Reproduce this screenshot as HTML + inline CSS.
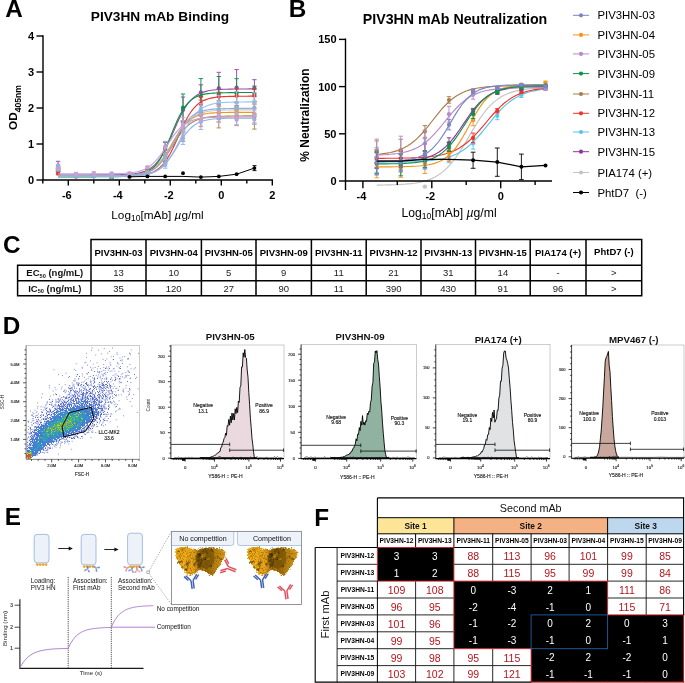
<!DOCTYPE html>
<html lang="en"><head><meta charset="utf-8"><title>PIV3HN mAb figure</title>
<style>html,body{margin:0;padding:0;background:#fff;overflow:hidden}svg{display:block}text{font-family:'Liberation Sans', Arial, Helvetica, sans-serif}</style>
</head><body>
<svg width="685" height="683" viewBox="0 0 685 683">
<defs><filter id="rough" x="-10%" y="-10%" width="120%" height="120%"><feTurbulence type="fractalNoise" baseFrequency=".6" numOctaves="2" seed="4" result="n"/><feDisplacementMap in="SourceGraphic" in2="n" scale="3.6" xChannelSelector="R" yChannelSelector="G" result="d"/><feTurbulence type="fractalNoise" baseFrequency=".8" numOctaves="2" seed="9" result="n2"/><feColorMatrix in="n2" type="matrix" values="0 0 0 0 .22  0 0 0 0 .13  0 0 0 0 0  3 0 0 0 -1.45" result="sp"/><feComposite in="sp" in2="d" operator="in" result="sp2"/><feMerge><feMergeNode in="d"/><feMergeNode in="sp2"/></feMerge></filter><filter id="bl" x="-30%" y="-30%" width="160%" height="160%"><feGaussianBlur stdDeviation="2.6"/></filter><linearGradient id="pg" x1="0" y1="0" x2="1" y2="0"><stop offset="0" stop-color="#f2ad1d"/><stop offset=".36" stop-color="#e8a21b"/><stop offset=".47" stop-color="#b27915"/><stop offset=".62" stop-color="#94640f"/><stop offset=".8" stop-color="#b98117"/><stop offset="1" stop-color="#dd981b"/></linearGradient></defs>
<rect width="685" height="683" fill="#fff"/>
<text x="160" y="20.7" font-size="13.7" font-weight="bold" text-anchor="middle">PIV3HN mAb Binding</text>
<polyline fill="none" stroke="#c9c9c9" stroke-width="1.15" points="58.1,175.3 60.7,175.3 63.2,175.3 65.7,175.3 68.3,175.3 70.8,175.3 73.4,175.3 75.9,175.3 78.5,175.3 81,175.3 83.6,175.3 86.1,175.3 88.7,175.3 91.2,175.3 93.8,175.3 96.3,175.3 98.9,175.3 101.4,175.3 104,175.3 106.5,175.3 109.1,175.2 111.6,175.2 114.2,175.2 116.7,175.1 119.3,175.1 121.8,175 124.4,174.9 126.9,174.8 129.5,174.6 132,174.4 134.6,174.1 137.1,173.7 139.7,173.2 142.2,172.6 144.8,171.9 147.3,170.9 149.9,169.7 152.4,168.1 155,166.2 157.5,164 160.1,161.3 162.6,158.1 165.2,154.6 167.7,150.6 170.3,146.4 172.8,142.1 175.4,137.8 177.9,133.7 180.5,129.8 183,126.3 185.6,123.3 188.1,120.7 190.7,118.5 193.2,116.7 195.8,115.2 198.3,114 200.9,113.1 203.4,112.4 206,111.8 208.5,111.3 211.1,111 213.6,110.7 216.2,110.5 218.7,110.3 221.3,110.2 223.8,110.1 226.4,110 228.9,110 231.5,109.9 234,109.9 236.6,109.9 239.1,109.9 241.7,109.9 244.2,109.8 246.8,109.8 249.3,109.8 251.9,109.8 254.4,109.8"/>
<path d="M58.1 168.6V171.1M55.9 168.6h4.4M55.9 171.1h4.4" stroke="#c9c9c9" stroke-width="0.95" fill="none"/>
<circle cx="58.1" cy="169.8" r="2.1" fill="#c9c9c9"/>
<path d="M76 174.8V175.6M73.8 174.8h4.4M73.8 175.6h4.4" stroke="#c9c9c9" stroke-width="0.95" fill="none"/>
<circle cx="76" cy="175.2" r="2.1" fill="#c9c9c9"/>
<path d="M93.8 174.2V175.6M91.6 174.2h4.4M91.6 175.6h4.4" stroke="#c9c9c9" stroke-width="0.95" fill="none"/>
<circle cx="93.8" cy="174.9" r="2.1" fill="#c9c9c9"/>
<path d="M111.6 173.1V176.2M109.4 173.1h4.4M109.4 176.2h4.4" stroke="#c9c9c9" stroke-width="0.95" fill="none"/>
<circle cx="111.6" cy="174.7" r="2.1" fill="#c9c9c9"/>
<path d="M129.5 174V175.2M127.3 174h4.4M127.3 175.2h4.4" stroke="#c9c9c9" stroke-width="0.95" fill="none"/>
<circle cx="129.5" cy="174.6" r="2.1" fill="#c9c9c9"/>
<path d="M147.4 169.6V171.8M145.2 169.6h4.4M145.2 171.8h4.4" stroke="#c9c9c9" stroke-width="0.95" fill="none"/>
<circle cx="147.4" cy="170.7" r="2.1" fill="#c9c9c9"/>
<path d="M165.2 149.9V157.4M163 149.9h4.4M163 157.4h4.4" stroke="#c9c9c9" stroke-width="0.95" fill="none"/>
<circle cx="165.2" cy="153.7" r="2.1" fill="#c9c9c9"/>
<path d="M183 120.9V134.9M180.8 120.9h4.4M180.8 134.9h4.4" stroke="#c9c9c9" stroke-width="0.95" fill="none"/>
<circle cx="183" cy="127.9" r="2.1" fill="#c9c9c9"/>
<path d="M200.9 107.1V118.4M198.7 107.1h4.4M198.7 118.4h4.4" stroke="#c9c9c9" stroke-width="0.95" fill="none"/>
<circle cx="200.9" cy="112.8" r="2.1" fill="#c9c9c9"/>
<path d="M218.8 102.6V121.4M216.6 102.6h4.4M216.6 121.4h4.4" stroke="#c9c9c9" stroke-width="0.95" fill="none"/>
<circle cx="218.8" cy="112" r="2.1" fill="#c9c9c9"/>
<path d="M236.6 101.5V118.5M234.4 101.5h4.4M234.4 118.5h4.4" stroke="#c9c9c9" stroke-width="0.95" fill="none"/>
<circle cx="236.6" cy="110" r="2.1" fill="#c9c9c9"/>
<path d="M254.4 100V116.9M252.2 100h4.4M252.2 116.9h4.4" stroke="#c9c9c9" stroke-width="0.95" fill="none"/>
<circle cx="254.4" cy="108.4" r="2.1" fill="#c9c9c9"/>
<polyline fill="none" stroke="#9a4aa8" stroke-width="1.15" points="58.1,175 60.7,175 63.2,175 65.7,175 68.3,175 70.8,175 73.4,175 75.9,175 78.5,175 81,175 83.6,175 86.1,175 88.7,175 91.2,174.9 93.8,174.9 96.3,174.9 98.9,174.9 101.4,174.9 104,174.9 106.5,174.9 109.1,174.9 111.6,174.9 114.2,174.8 116.7,174.8 119.3,174.7 121.8,174.6 124.4,174.5 126.9,174.4 129.5,174.2 132,174 134.6,173.7 137.1,173.3 139.7,172.8 142.2,172.1 144.8,171.2 147.3,170.1 149.9,168.7 152.4,166.9 155,164.6 157.5,161.8 160.1,158.4 162.6,154.4 165.2,149.8 167.7,144.6 170.3,139 172.8,133.1 175.4,127.2 177.9,121.5 180.5,116.1 183,111.2 185.6,107 188.1,103.3 190.7,100.3 193.2,97.9 195.8,95.9 198.3,94.3 200.9,93.1 203.4,92.1 206,91.4 208.5,90.8 211.1,90.3 213.6,90 216.2,89.7 218.7,89.5 221.3,89.4 223.8,89.3 226.4,89.2 228.9,89.1 231.5,89.1 234,89 236.6,89 239.1,89 241.7,89 244.2,89 246.8,89 249.3,88.9 251.9,88.9 254.4,88.9"/>
<path d="M58.1 161.3V169.9M55.9 161.3h4.4M55.9 169.9h4.4" stroke="#9a4aa8" stroke-width="0.95" fill="none"/>
<circle cx="58.1" cy="165.6" r="2.1" fill="#9a4aa8"/>
<path d="M76 174V175M73.8 174h4.4M73.8 175h4.4" stroke="#9a4aa8" stroke-width="0.95" fill="none"/>
<circle cx="76" cy="174.5" r="2.1" fill="#9a4aa8"/>
<path d="M93.8 173.6V177.1M91.6 173.6h4.4M91.6 177.1h4.4" stroke="#9a4aa8" stroke-width="0.95" fill="none"/>
<circle cx="93.8" cy="175.3" r="2.1" fill="#9a4aa8"/>
<path d="M111.6 174.1V175.7M109.4 174.1h4.4M109.4 175.7h4.4" stroke="#9a4aa8" stroke-width="0.95" fill="none"/>
<circle cx="111.6" cy="174.9" r="2.1" fill="#9a4aa8"/>
<path d="M129.5 173.4V175.1M127.3 173.4h4.4M127.3 175.1h4.4" stroke="#9a4aa8" stroke-width="0.95" fill="none"/>
<circle cx="129.5" cy="174.2" r="2.1" fill="#9a4aa8"/>
<path d="M147.4 168.4V171.7M145.2 168.4h4.4M145.2 171.7h4.4" stroke="#9a4aa8" stroke-width="0.95" fill="none"/>
<circle cx="147.4" cy="170" r="2.1" fill="#9a4aa8"/>
<path d="M165.2 142.4V155.9M163 142.4h4.4M163 155.9h4.4" stroke="#9a4aa8" stroke-width="0.95" fill="none"/>
<circle cx="165.2" cy="149.2" r="2.1" fill="#9a4aa8"/>
<path d="M183 97V122.8M180.8 97h4.4M180.8 122.8h4.4" stroke="#9a4aa8" stroke-width="0.95" fill="none"/>
<circle cx="183" cy="109.9" r="2.1" fill="#9a4aa8"/>
<path d="M200.9 84.8V100.1M198.7 84.8h4.4M198.7 100.1h4.4" stroke="#9a4aa8" stroke-width="0.95" fill="none"/>
<circle cx="200.9" cy="92.4" r="2.1" fill="#9a4aa8"/>
<path d="M218.8 72.3V104.2M216.6 72.3h4.4M216.6 104.2h4.4" stroke="#9a4aa8" stroke-width="0.95" fill="none"/>
<circle cx="218.8" cy="88.2" r="2.1" fill="#9a4aa8"/>
<path d="M236.6 69.6V105.6M234.4 69.6h4.4M234.4 105.6h4.4" stroke="#9a4aa8" stroke-width="0.95" fill="none"/>
<circle cx="236.6" cy="87.6" r="2.1" fill="#9a4aa8"/>
<path d="M254.4 79.7V96.6M252.2 79.7h4.4M252.2 96.6h4.4" stroke="#9a4aa8" stroke-width="0.95" fill="none"/>
<circle cx="254.4" cy="88.2" r="2.1" fill="#9a4aa8"/>
<polyline fill="none" stroke="#0b9347" stroke-width="1.15" points="58.1,176.8 60.7,176.8 63.2,176.8 65.7,176.8 68.3,176.8 70.8,176.8 73.4,176.8 75.9,176.8 78.5,176.8 81,176.8 83.6,176.8 86.1,176.8 88.7,176.8 91.2,176.8 93.8,176.8 96.3,176.7 98.9,176.7 101.4,176.7 104,176.7 106.5,176.7 109.1,176.7 111.6,176.7 114.2,176.7 116.7,176.6 119.3,176.6 121.8,176.5 124.4,176.4 126.9,176.3 129.5,176.1 132,175.9 134.6,175.6 137.1,175.3 139.7,174.8 142.2,174.1 144.8,173.2 147.3,172 149.9,170.5 152.4,168.5 155,165.9 157.5,162.8 160.1,159 162.6,154.4 165.2,149.2 167.7,143.3 170.3,137.2 172.8,130.9 175.4,124.7 177.9,119 180.5,113.9 183,109.5 185.6,105.8 188.1,102.8 190.7,100.4 193.2,98.5 195.8,97 198.3,95.9 200.9,95.1 203.4,94.4 206,93.9 208.5,93.6 211.1,93.3 213.6,93.1 216.2,93 218.7,92.8 221.3,92.8 223.8,92.7 226.4,92.7 228.9,92.6 231.5,92.6 234,92.6 236.6,92.6 239.1,92.5 241.7,92.5 244.2,92.5 246.8,92.5 249.3,92.5 251.9,92.5 254.4,92.5"/>
<path d="M58.1 170.5V171.4M55.9 170.5h4.4M55.9 171.4h4.4" stroke="#0b9347" stroke-width="0.95" fill="none"/>
<circle cx="58.1" cy="171" r="2.1" fill="#0b9347"/>
<path d="M76 175.9V176.9M73.8 175.9h4.4M73.8 176.9h4.4" stroke="#0b9347" stroke-width="0.95" fill="none"/>
<circle cx="76" cy="176.4" r="2.1" fill="#0b9347"/>
<path d="M93.8 175.8V177M91.6 175.8h4.4M91.6 177h4.4" stroke="#0b9347" stroke-width="0.95" fill="none"/>
<circle cx="93.8" cy="176.4" r="2.1" fill="#0b9347"/>
<path d="M111.6 175.3V178.5M109.4 175.3h4.4M109.4 178.5h4.4" stroke="#0b9347" stroke-width="0.95" fill="none"/>
<circle cx="111.6" cy="176.9" r="2.1" fill="#0b9347"/>
<path d="M129.5 176.2V177.1M127.3 176.2h4.4M127.3 177.1h4.4" stroke="#0b9347" stroke-width="0.95" fill="none"/>
<circle cx="129.5" cy="176.6" r="2.1" fill="#0b9347"/>
<path d="M147.4 170.1V173.4M145.2 170.1h4.4M145.2 173.4h4.4" stroke="#0b9347" stroke-width="0.95" fill="none"/>
<circle cx="147.4" cy="171.8" r="2.1" fill="#0b9347"/>
<path d="M165.2 141.6V153.3M163 141.6h4.4M163 153.3h4.4" stroke="#0b9347" stroke-width="0.95" fill="none"/>
<circle cx="165.2" cy="147.4" r="2.1" fill="#0b9347"/>
<path d="M183 94V121.4M180.8 94h4.4M180.8 121.4h4.4" stroke="#0b9347" stroke-width="0.95" fill="none"/>
<circle cx="183" cy="107.7" r="2.1" fill="#0b9347"/>
<path d="M200.9 78.6V114.6M198.7 78.6h4.4M198.7 114.6h4.4" stroke="#0b9347" stroke-width="0.95" fill="none"/>
<circle cx="200.9" cy="96.6" r="2.1" fill="#0b9347"/>
<path d="M218.8 76.5V112.5M216.6 76.5h4.4M216.6 112.5h4.4" stroke="#0b9347" stroke-width="0.95" fill="none"/>
<circle cx="218.8" cy="94.5" r="2.1" fill="#0b9347"/>
<path d="M236.6 78.7V107.1M234.4 78.7h4.4M234.4 107.1h4.4" stroke="#0b9347" stroke-width="0.95" fill="none"/>
<circle cx="236.6" cy="92.9" r="2.1" fill="#0b9347"/>
<path d="M254.4 86.1V101.5M252.2 86.1h4.4M252.2 101.5h4.4" stroke="#0b9347" stroke-width="0.95" fill="none"/>
<circle cx="254.4" cy="93.8" r="2.1" fill="#0b9347"/>
<polyline fill="none" stroke="#ee342a" stroke-width="1.15" points="58.1,176.4 60.7,176.4 63.2,176.4 65.7,176.4 68.3,176.4 70.8,176.4 73.4,176.4 75.9,176.4 78.5,176.4 81,176.4 83.6,176.4 86.1,176.4 88.7,176.4 91.2,176.4 93.8,176.4 96.3,176.4 98.9,176.4 101.4,176.4 104,176.4 106.5,176.4 109.1,176.4 111.6,176.4 114.2,176.3 116.7,176.3 119.3,176.3 121.8,176.3 124.4,176.2 126.9,176.2 129.5,176.1 132,176 134.6,175.8 137.1,175.6 139.7,175.4 142.2,175.1 144.8,174.6 147.3,174.1 149.9,173.3 152.4,172.4 155,171.1 157.5,169.5 160.1,167.4 162.6,164.9 165.2,161.7 167.7,157.9 170.3,153.5 172.8,148.6 175.4,143.1 177.9,137.4 180.5,131.7 183,126.1 185.6,120.9 188.1,116.3 190.7,112.2 193.2,108.8 195.8,106.1 198.3,103.8 200.9,102 203.4,100.6 206,99.6 208.5,98.7 211.1,98.1 213.6,97.6 216.2,97.2 218.7,97 221.3,96.8 223.8,96.6 226.4,96.5 228.9,96.4 231.5,96.3 234,96.3 236.6,96.2 239.1,96.2 241.7,96.2 244.2,96.2 246.8,96.2 249.3,96.1 251.9,96.1 254.4,96.1"/>
<path d="M58.1 171.6V174.9M55.9 171.6h4.4M55.9 174.9h4.4" stroke="#ee342a" stroke-width="0.95" fill="none"/>
<circle cx="58.1" cy="173.2" r="2.1" fill="#ee342a"/>
<path d="M76 175.4V177.6M73.8 175.4h4.4M73.8 177.6h4.4" stroke="#ee342a" stroke-width="0.95" fill="none"/>
<circle cx="76" cy="176.5" r="2.1" fill="#ee342a"/>
<path d="M93.8 175.1V177.4M91.6 175.1h4.4M91.6 177.4h4.4" stroke="#ee342a" stroke-width="0.95" fill="none"/>
<circle cx="93.8" cy="176.2" r="2.1" fill="#ee342a"/>
<path d="M111.6 175.1V177.3M109.4 175.1h4.4M109.4 177.3h4.4" stroke="#ee342a" stroke-width="0.95" fill="none"/>
<circle cx="111.6" cy="176.2" r="2.1" fill="#ee342a"/>
<path d="M129.5 175.5V176.9M127.3 175.5h4.4M127.3 176.9h4.4" stroke="#ee342a" stroke-width="0.95" fill="none"/>
<circle cx="129.5" cy="176.2" r="2.1" fill="#ee342a"/>
<path d="M147.4 173.2V175.4M145.2 173.2h4.4M145.2 175.4h4.4" stroke="#ee342a" stroke-width="0.95" fill="none"/>
<circle cx="147.4" cy="174.3" r="2.1" fill="#ee342a"/>
<path d="M165.2 160.2V162.9M163 160.2h4.4M163 162.9h4.4" stroke="#ee342a" stroke-width="0.95" fill="none"/>
<circle cx="165.2" cy="161.5" r="2.1" fill="#ee342a"/>
<path d="M183 121.1V131.7M180.8 121.1h4.4M180.8 131.7h4.4" stroke="#ee342a" stroke-width="0.95" fill="none"/>
<circle cx="183" cy="126.4" r="2.1" fill="#ee342a"/>
<path d="M200.9 96.4V111.1M198.7 96.4h4.4M198.7 111.1h4.4" stroke="#ee342a" stroke-width="0.95" fill="none"/>
<circle cx="200.9" cy="103.8" r="2.1" fill="#ee342a"/>
<path d="M218.8 92.2V100.8M216.6 92.2h4.4M216.6 100.8h4.4" stroke="#ee342a" stroke-width="0.95" fill="none"/>
<circle cx="218.8" cy="96.5" r="2.1" fill="#ee342a"/>
<path d="M236.6 88.9V102.7M234.4 88.9h4.4M234.4 102.7h4.4" stroke="#ee342a" stroke-width="0.95" fill="none"/>
<circle cx="236.6" cy="95.8" r="2.1" fill="#ee342a"/>
<path d="M254.4 89.3V101.7M252.2 89.3h4.4M252.2 101.7h4.4" stroke="#ee342a" stroke-width="0.95" fill="none"/>
<circle cx="254.4" cy="95.5" r="2.1" fill="#ee342a"/>
<polyline fill="none" stroke="#a8894d" stroke-width="1.15" points="58.1,175.7 60.7,175.7 63.2,175.7 65.7,175.7 68.3,175.7 70.8,175.7 73.4,175.7 75.9,175.7 78.5,175.7 81,175.7 83.6,175.7 86.1,175.7 88.7,175.7 91.2,175.7 93.8,175.7 96.3,175.7 98.9,175.7 101.4,175.7 104,175.6 106.5,175.6 109.1,175.6 111.6,175.6 114.2,175.6 116.7,175.5 119.3,175.5 121.8,175.4 124.4,175.4 126.9,175.3 129.5,175.1 132,175 134.6,174.7 137.1,174.4 139.7,174 142.2,173.5 144.8,172.9 147.3,172 149.9,171 152.4,169.6 155,167.9 157.5,165.9 160.1,163.4 162.6,160.5 165.2,157.2 167.7,153.5 170.3,149.5 172.8,145.4 175.4,141.3 177.9,137.4 180.5,133.7 183,130.5 185.6,127.7 188.1,125.3 190.7,123.3 193.2,121.7 195.8,120.4 198.3,119.4 200.9,118.6 203.4,118 206,117.5 208.5,117.1 211.1,116.8 213.6,116.6 216.2,116.4 218.7,116.3 221.3,116.2 223.8,116.2 226.4,116.1 228.9,116.1 231.5,116 234,116 236.6,116 239.1,116 241.7,116 244.2,115.9 246.8,115.9 249.3,115.9 251.9,115.9 254.4,115.9"/>
<path d="M58.1 167.8V168.7M55.9 167.8h4.4M55.9 168.7h4.4" stroke="#a8894d" stroke-width="0.95" fill="none"/>
<circle cx="58.1" cy="168.2" r="2.1" fill="#a8894d"/>
<path d="M76 174.8V176.2M73.8 174.8h4.4M73.8 176.2h4.4" stroke="#a8894d" stroke-width="0.95" fill="none"/>
<circle cx="76" cy="175.5" r="2.1" fill="#a8894d"/>
<path d="M93.8 174.9V176.5M91.6 174.9h4.4M91.6 176.5h4.4" stroke="#a8894d" stroke-width="0.95" fill="none"/>
<circle cx="93.8" cy="175.7" r="2.1" fill="#a8894d"/>
<path d="M111.6 174.9V176.6M109.4 174.9h4.4M109.4 176.6h4.4" stroke="#a8894d" stroke-width="0.95" fill="none"/>
<circle cx="111.6" cy="175.7" r="2.1" fill="#a8894d"/>
<path d="M129.5 174.1V175.9M127.3 174.1h4.4M127.3 175.9h4.4" stroke="#a8894d" stroke-width="0.95" fill="none"/>
<circle cx="129.5" cy="175" r="2.1" fill="#a8894d"/>
<path d="M147.4 170.6V172.9M145.2 170.6h4.4M145.2 172.9h4.4" stroke="#a8894d" stroke-width="0.95" fill="none"/>
<circle cx="147.4" cy="171.7" r="2.1" fill="#a8894d"/>
<path d="M165.2 152.7V160M163 152.7h4.4M163 160h4.4" stroke="#a8894d" stroke-width="0.95" fill="none"/>
<circle cx="165.2" cy="156.3" r="2.1" fill="#a8894d"/>
<path d="M183 121.5V141.4M180.8 121.5h4.4M180.8 141.4h4.4" stroke="#a8894d" stroke-width="0.95" fill="none"/>
<circle cx="183" cy="131.5" r="2.1" fill="#a8894d"/>
<path d="M200.9 112.7V126.3M198.7 112.7h4.4M198.7 126.3h4.4" stroke="#a8894d" stroke-width="0.95" fill="none"/>
<circle cx="200.9" cy="119.5" r="2.1" fill="#a8894d"/>
<path d="M218.8 105.2V127.9M216.6 105.2h4.4M216.6 127.9h4.4" stroke="#a8894d" stroke-width="0.95" fill="none"/>
<circle cx="218.8" cy="116.6" r="2.1" fill="#a8894d"/>
<path d="M236.6 109.2V125.6M234.4 109.2h4.4M234.4 125.6h4.4" stroke="#a8894d" stroke-width="0.95" fill="none"/>
<circle cx="236.6" cy="117.4" r="2.1" fill="#a8894d"/>
<path d="M254.4 103.9V129.1M252.2 103.9h4.4M252.2 129.1h4.4" stroke="#a8894d" stroke-width="0.95" fill="none"/>
<circle cx="254.4" cy="116.5" r="2.1" fill="#a8894d"/>
<polyline fill="none" stroke="#f7941d" stroke-width="1.15" points="58.1,176 60.7,176 63.2,176 65.7,176 68.3,176 70.8,176 73.4,176 75.9,176 78.5,176 81,176 83.6,176 86.1,176 88.7,176 91.2,176 93.8,176 96.3,176 98.9,176 101.4,176 104,176 106.5,176 109.1,176 111.6,176 114.2,175.9 116.7,175.9 119.3,175.9 121.8,175.8 124.4,175.7 126.9,175.7 129.5,175.5 132,175.4 134.6,175.1 137.1,174.8 139.7,174.4 142.2,173.9 144.8,173.2 147.3,172.4 149.9,171.2 152.4,169.8 155,168 157.5,165.7 160.1,163 162.6,159.7 165.2,156 167.7,151.8 170.3,147.4 172.8,142.8 175.4,138.3 177.9,134 180.5,130.1 183,126.6 185.6,123.7 188.1,121.3 190.7,119.3 193.2,117.7 195.8,116.4 198.3,115.4 200.9,114.7 203.4,114.1 206,113.7 208.5,113.3 211.1,113.1 213.6,112.9 216.2,112.8 218.7,112.6 221.3,112.6 223.8,112.5 226.4,112.5 228.9,112.4 231.5,112.4 234,112.4 236.6,112.4 239.1,112.4 241.7,112.3 244.2,112.3 246.8,112.3 249.3,112.3 251.9,112.3 254.4,112.3"/>
<path d="M58.1 166.6V168.3M55.9 166.6h4.4M55.9 168.3h4.4" stroke="#f7941d" stroke-width="0.95" fill="none"/>
<circle cx="58.1" cy="167.4" r="2.1" fill="#f7941d"/>
<path d="M76 174.9V176.9M73.8 174.9h4.4M73.8 176.9h4.4" stroke="#f7941d" stroke-width="0.95" fill="none"/>
<circle cx="76" cy="175.9" r="2.1" fill="#f7941d"/>
<path d="M93.8 175.2V177.5M91.6 175.2h4.4M91.6 177.5h4.4" stroke="#f7941d" stroke-width="0.95" fill="none"/>
<circle cx="93.8" cy="176.3" r="2.1" fill="#f7941d"/>
<path d="M111.6 174.7V177.9M109.4 174.7h4.4M109.4 177.9h4.4" stroke="#f7941d" stroke-width="0.95" fill="none"/>
<circle cx="111.6" cy="176.3" r="2.1" fill="#f7941d"/>
<path d="M129.5 174.3V177.4M127.3 174.3h4.4M127.3 177.4h4.4" stroke="#f7941d" stroke-width="0.95" fill="none"/>
<circle cx="129.5" cy="175.9" r="2.1" fill="#f7941d"/>
<path d="M147.4 171.3V173.1M145.2 171.3h4.4M145.2 173.1h4.4" stroke="#f7941d" stroke-width="0.95" fill="none"/>
<circle cx="147.4" cy="172.2" r="2.1" fill="#f7941d"/>
<path d="M165.2 154.7V159.9M163 154.7h4.4M163 159.9h4.4" stroke="#f7941d" stroke-width="0.95" fill="none"/>
<circle cx="165.2" cy="157.3" r="2.1" fill="#f7941d"/>
<path d="M183 120.9V130.2M180.8 120.9h4.4M180.8 130.2h4.4" stroke="#f7941d" stroke-width="0.95" fill="none"/>
<circle cx="183" cy="125.6" r="2.1" fill="#f7941d"/>
<path d="M200.9 108.8V121.7M198.7 108.8h4.4M198.7 121.7h4.4" stroke="#f7941d" stroke-width="0.95" fill="none"/>
<circle cx="200.9" cy="115.2" r="2.1" fill="#f7941d"/>
<path d="M218.8 106.4V119.5M216.6 106.4h4.4M216.6 119.5h4.4" stroke="#f7941d" stroke-width="0.95" fill="none"/>
<circle cx="218.8" cy="112.9" r="2.1" fill="#f7941d"/>
<path d="M236.6 105.9V115.8M234.4 105.9h4.4M234.4 115.8h4.4" stroke="#f7941d" stroke-width="0.95" fill="none"/>
<circle cx="236.6" cy="110.8" r="2.1" fill="#f7941d"/>
<path d="M254.4 104.2V124M252.2 104.2h4.4M252.2 124h4.4" stroke="#f7941d" stroke-width="0.95" fill="none"/>
<circle cx="254.4" cy="114.1" r="2.1" fill="#f7941d"/>
<polyline fill="none" stroke="#9cc3ec" stroke-width="1.15" points="58.1,176.4 60.7,176.4 63.2,176.4 65.7,176.4 68.3,176.4 70.8,176.4 73.4,176.4 75.9,176.4 78.5,176.4 81,176.4 83.6,176.4 86.1,176.4 88.7,176.4 91.2,176.4 93.8,176.4 96.3,176.4 98.9,176.4 101.4,176.4 104,176.4 106.5,176.4 109.1,176.4 111.6,176.4 114.2,176.3 116.7,176.3 119.3,176.3 121.8,176.3 124.4,176.2 126.9,176.2 129.5,176.1 132,176 134.6,175.9 137.1,175.7 139.7,175.5 142.2,175.2 144.8,174.8 147.3,174.3 149.9,173.7 152.4,172.9 155,171.9 157.5,170.5 160.1,168.9 162.6,166.8 165.2,164.2 167.7,161.1 170.3,157.5 172.8,153.3 175.4,148.7 177.9,143.7 180.5,138.6 183,133.5 185.6,128.6 188.1,124.1 190.7,120 193.2,116.5 195.8,113.5 198.3,111.1 200.9,109.1 203.4,107.5 206,106.2 208.5,105.2 211.1,104.4 213.6,103.8 216.2,103.4 218.7,103 221.3,102.7 223.8,102.5 226.4,102.4 228.9,102.3 231.5,102.2 234,102.1 236.6,102 239.1,102 241.7,102 244.2,102 246.8,101.9 249.3,101.9 251.9,101.9 254.4,101.9"/>
<path d="M58.1 164.7V168.2M55.9 164.7h4.4M55.9 168.2h4.4" stroke="#9cc3ec" stroke-width="0.95" fill="none"/>
<circle cx="58.1" cy="166.5" r="2.1" fill="#9cc3ec"/>
<path d="M76 174.5V177.4M73.8 174.5h4.4M73.8 177.4h4.4" stroke="#9cc3ec" stroke-width="0.95" fill="none"/>
<circle cx="76" cy="175.9" r="2.1" fill="#9cc3ec"/>
<path d="M93.8 174.9V177.1M91.6 174.9h4.4M91.6 177.1h4.4" stroke="#9cc3ec" stroke-width="0.95" fill="none"/>
<circle cx="93.8" cy="176" r="2.1" fill="#9cc3ec"/>
<path d="M111.6 175.9V177.3M109.4 175.9h4.4M109.4 177.3h4.4" stroke="#9cc3ec" stroke-width="0.95" fill="none"/>
<circle cx="111.6" cy="176.6" r="2.1" fill="#9cc3ec"/>
<path d="M129.5 175.8V177.3M127.3 175.8h4.4M127.3 177.3h4.4" stroke="#9cc3ec" stroke-width="0.95" fill="none"/>
<circle cx="129.5" cy="176.6" r="2.1" fill="#9cc3ec"/>
<path d="M147.4 172.4V175.7M145.2 172.4h4.4M145.2 175.7h4.4" stroke="#9cc3ec" stroke-width="0.95" fill="none"/>
<circle cx="147.4" cy="174" r="2.1" fill="#9cc3ec"/>
<path d="M165.2 159.7V168.3M163 159.7h4.4M163 168.3h4.4" stroke="#9cc3ec" stroke-width="0.95" fill="none"/>
<circle cx="165.2" cy="164" r="2.1" fill="#9cc3ec"/>
<path d="M183 123.5V140.7M180.8 123.5h4.4M180.8 140.7h4.4" stroke="#9cc3ec" stroke-width="0.95" fill="none"/>
<circle cx="183" cy="132.1" r="2.1" fill="#9cc3ec"/>
<path d="M200.9 103.7V113.9M198.7 103.7h4.4M198.7 113.9h4.4" stroke="#9cc3ec" stroke-width="0.95" fill="none"/>
<circle cx="200.9" cy="108.8" r="2.1" fill="#9cc3ec"/>
<path d="M218.8 95.3V108.9M216.6 95.3h4.4M216.6 108.9h4.4" stroke="#9cc3ec" stroke-width="0.95" fill="none"/>
<circle cx="218.8" cy="102.1" r="2.1" fill="#9cc3ec"/>
<path d="M236.6 91.7V113.9M234.4 91.7h4.4M234.4 113.9h4.4" stroke="#9cc3ec" stroke-width="0.95" fill="none"/>
<circle cx="236.6" cy="102.8" r="2.1" fill="#9cc3ec"/>
<path d="M254.4 92.8V110.8M252.2 92.8h4.4M252.2 110.8h4.4" stroke="#9cc3ec" stroke-width="0.95" fill="none"/>
<circle cx="254.4" cy="101.8" r="2.1" fill="#9cc3ec"/>
<polyline fill="none" stroke="#8fb2e4" stroke-width="1.15" points="58.1,176 60.7,176 63.2,176 65.7,176 68.3,176 70.8,176 73.4,176 75.9,176 78.5,176 81,176 83.6,176 86.1,176 88.7,176 91.2,176 93.8,176 96.3,176 98.9,176 101.4,176 104,176 106.5,176 109.1,176 111.6,176 114.2,176 116.7,176 119.3,176 121.8,175.9 124.4,175.9 126.9,175.8 129.5,175.8 132,175.7 134.6,175.6 137.1,175.4 139.7,175.2 142.2,174.9 144.8,174.5 147.3,174.1 149.9,173.4 152.4,172.6 155,171.5 157.5,170.2 160.1,168.5 162.6,166.4 165.2,163.9 167.7,160.9 170.3,157.4 172.8,153.6 175.4,149.6 177.9,145.4 180.5,141.3 183,137.4 185.6,133.9 188.1,130.8 190.7,128.2 193.2,126 195.8,124.2 198.3,122.8 200.9,121.7 203.4,120.8 206,120.2 208.5,119.7 211.1,119.3 213.6,119 216.2,118.8 218.7,118.6 221.3,118.5 223.8,118.4 226.4,118.3 228.9,118.2 231.5,118.2 234,118.2 236.6,118.1 239.1,118.1 241.7,118.1 244.2,118.1 246.8,118.1 249.3,118.1 251.9,118.1 254.4,118.1"/>
<path d="M58.1 169.1V170.6M55.9 169.1h4.4M55.9 170.6h4.4" stroke="#8fb2e4" stroke-width="0.95" fill="none"/>
<circle cx="58.1" cy="169.9" r="2.1" fill="#8fb2e4"/>
<path d="M76 174.2V177.1M73.8 174.2h4.4M73.8 177.1h4.4" stroke="#8fb2e4" stroke-width="0.95" fill="none"/>
<circle cx="76" cy="175.6" r="2.1" fill="#8fb2e4"/>
<path d="M93.8 175.1V177.3M91.6 175.1h4.4M91.6 177.3h4.4" stroke="#8fb2e4" stroke-width="0.95" fill="none"/>
<circle cx="93.8" cy="176.2" r="2.1" fill="#8fb2e4"/>
<path d="M111.6 174.2V177.2M109.4 174.2h4.4M109.4 177.2h4.4" stroke="#8fb2e4" stroke-width="0.95" fill="none"/>
<circle cx="111.6" cy="175.7" r="2.1" fill="#8fb2e4"/>
<path d="M129.5 173.8V176.9M127.3 173.8h4.4M127.3 176.9h4.4" stroke="#8fb2e4" stroke-width="0.95" fill="none"/>
<circle cx="129.5" cy="175.3" r="2.1" fill="#8fb2e4"/>
<path d="M147.4 173V176.2M145.2 173h4.4M145.2 176.2h4.4" stroke="#8fb2e4" stroke-width="0.95" fill="none"/>
<circle cx="147.4" cy="174.6" r="2.1" fill="#8fb2e4"/>
<path d="M165.2 161.9V166.7M163 161.9h4.4M163 166.7h4.4" stroke="#8fb2e4" stroke-width="0.95" fill="none"/>
<circle cx="165.2" cy="164.3" r="2.1" fill="#8fb2e4"/>
<path d="M183 132.2V144.4M180.8 132.2h4.4M180.8 144.4h4.4" stroke="#8fb2e4" stroke-width="0.95" fill="none"/>
<circle cx="183" cy="138.3" r="2.1" fill="#8fb2e4"/>
<path d="M200.9 114.5V129.5M198.7 114.5h4.4M198.7 129.5h4.4" stroke="#8fb2e4" stroke-width="0.95" fill="none"/>
<circle cx="200.9" cy="122" r="2.1" fill="#8fb2e4"/>
<path d="M218.8 113.1V122.1M216.6 113.1h4.4M216.6 122.1h4.4" stroke="#8fb2e4" stroke-width="0.95" fill="none"/>
<circle cx="218.8" cy="117.6" r="2.1" fill="#8fb2e4"/>
<path d="M236.6 114.3V125.2M234.4 114.3h4.4M234.4 125.2h4.4" stroke="#8fb2e4" stroke-width="0.95" fill="none"/>
<circle cx="236.6" cy="119.8" r="2.1" fill="#8fb2e4"/>
<path d="M254.4 114.4V124.4M252.2 114.4h4.4M252.2 124.4h4.4" stroke="#8fb2e4" stroke-width="0.95" fill="none"/>
<circle cx="254.4" cy="119.4" r="2.1" fill="#8fb2e4"/>
<polyline fill="none" stroke="#8eb1e3" stroke-width="1.15" points="58.1,175.7 60.7,175.7 63.2,175.7 65.7,175.7 68.3,175.7 70.8,175.7 73.4,175.7 75.9,175.7 78.5,175.7 81,175.7 83.6,175.7 86.1,175.7 88.7,175.7 91.2,175.7 93.8,175.7 96.3,175.7 98.9,175.7 101.4,175.7 104,175.7 106.5,175.6 109.1,175.6 111.6,175.6 114.2,175.6 116.7,175.6 119.3,175.5 121.8,175.5 124.4,175.4 126.9,175.3 129.5,175.2 132,175.1 134.6,174.9 137.1,174.6 139.7,174.3 142.2,173.8 144.8,173.2 147.3,172.5 149.9,171.5 152.4,170.2 155,168.5 157.5,166.5 160.1,163.9 162.6,160.9 165.2,157.3 167.7,153.2 170.3,148.7 172.8,144 175.4,139.1 177.9,134.4 180.5,130 183,126 185.6,122.5 188.1,119.6 190.7,117.1 193.2,115.2 195.8,113.6 198.3,112.4 200.9,111.4 203.4,110.7 206,110.1 208.5,109.7 211.1,109.4 213.6,109.1 216.2,108.9 218.7,108.8 221.3,108.7 223.8,108.6 226.4,108.5 228.9,108.5 231.5,108.5 234,108.4 236.6,108.4 239.1,108.4 241.7,108.4 244.2,108.4 246.8,108.4 249.3,108.4 251.9,108.4 254.4,108.4"/>
<path d="M58.1 166V168.2M55.9 166h4.4M55.9 168.2h4.4" stroke="#8eb1e3" stroke-width="0.95" fill="none"/>
<circle cx="58.1" cy="167.1" r="2.1" fill="#8eb1e3"/>
<path d="M76 175V176.7M73.8 175h4.4M73.8 176.7h4.4" stroke="#8eb1e3" stroke-width="0.95" fill="none"/>
<circle cx="76" cy="175.9" r="2.1" fill="#8eb1e3"/>
<path d="M93.8 174.6V176.4M91.6 174.6h4.4M91.6 176.4h4.4" stroke="#8eb1e3" stroke-width="0.95" fill="none"/>
<circle cx="93.8" cy="175.5" r="2.1" fill="#8eb1e3"/>
<path d="M111.6 175.4V176.5M109.4 175.4h4.4M109.4 176.5h4.4" stroke="#8eb1e3" stroke-width="0.95" fill="none"/>
<circle cx="111.6" cy="176" r="2.1" fill="#8eb1e3"/>
<path d="M129.5 174.3V176.1M127.3 174.3h4.4M127.3 176.1h4.4" stroke="#8eb1e3" stroke-width="0.95" fill="none"/>
<circle cx="129.5" cy="175.2" r="2.1" fill="#8eb1e3"/>
<path d="M147.4 172V173.8M145.2 172h4.4M145.2 173.8h4.4" stroke="#8eb1e3" stroke-width="0.95" fill="none"/>
<circle cx="147.4" cy="172.9" r="2.1" fill="#8eb1e3"/>
<path d="M165.2 153.9V160M163 153.9h4.4M163 160h4.4" stroke="#8eb1e3" stroke-width="0.95" fill="none"/>
<circle cx="165.2" cy="156.9" r="2.1" fill="#8eb1e3"/>
<path d="M183 120.6V132.3M180.8 120.6h4.4M180.8 132.3h4.4" stroke="#8eb1e3" stroke-width="0.95" fill="none"/>
<circle cx="183" cy="126.4" r="2.1" fill="#8eb1e3"/>
<path d="M200.9 105.7V116.2M198.7 105.7h4.4M198.7 116.2h4.4" stroke="#8eb1e3" stroke-width="0.95" fill="none"/>
<circle cx="200.9" cy="111" r="2.1" fill="#8eb1e3"/>
<path d="M218.8 103.5V115M216.6 103.5h4.4M216.6 115h4.4" stroke="#8eb1e3" stroke-width="0.95" fill="none"/>
<circle cx="218.8" cy="109.2" r="2.1" fill="#8eb1e3"/>
<path d="M236.6 102.3V113.1M234.4 102.3h4.4M234.4 113.1h4.4" stroke="#8eb1e3" stroke-width="0.95" fill="none"/>
<circle cx="236.6" cy="107.7" r="2.1" fill="#8eb1e3"/>
<path d="M254.4 102V113.3M252.2 102h4.4M252.2 113.3h4.4" stroke="#8eb1e3" stroke-width="0.95" fill="none"/>
<circle cx="254.4" cy="107.7" r="2.1" fill="#8eb1e3"/>
<polyline fill="none" stroke="#c9a0d3" stroke-width="1.15" points="58.1,173.9 60.7,173.9 63.2,173.9 65.7,173.9 68.3,173.9 70.8,173.9 73.4,173.9 75.9,173.9 78.5,173.9 81,173.9 83.6,173.9 86.1,173.9 88.7,173.9 91.2,173.9 93.8,173.9 96.3,173.9 98.9,173.8 101.4,173.8 104,173.8 106.5,173.8 109.1,173.8 111.6,173.7 114.2,173.7 116.7,173.6 119.3,173.6 121.8,173.5 124.4,173.3 126.9,173.1 129.5,172.9 132,172.6 134.6,172.2 137.1,171.7 139.7,171.1 142.2,170.2 144.8,169.2 147.3,167.8 149.9,166.2 152.4,164.1 155,161.7 157.5,158.8 160.1,155.6 162.6,152 165.2,148.2 167.7,144.3 170.3,140.4 172.8,136.7 175.4,133.3 177.9,130.3 180.5,127.7 183,125.5 185.6,123.7 188.1,122.2 190.7,121 193.2,120.1 195.8,119.4 198.3,118.8 200.9,118.4 203.4,118.1 206,117.8 208.5,117.6 211.1,117.5 213.6,117.4 216.2,117.3 218.7,117.2 221.3,117.2 223.8,117.1 226.4,117.1 228.9,117.1 231.5,117.1 234,117 236.6,117 239.1,117 241.7,117 244.2,117 246.8,117 249.3,117 251.9,117 254.4,117"/>
<path d="M58.1 168V168.9M55.9 168h4.4M55.9 168.9h4.4" stroke="#c9a0d3" stroke-width="0.95" fill="none"/>
<circle cx="58.1" cy="168.5" r="2.1" fill="#c9a0d3"/>
<path d="M76 172.3V175.6M73.8 172.3h4.4M73.8 175.6h4.4" stroke="#c9a0d3" stroke-width="0.95" fill="none"/>
<circle cx="76" cy="174" r="2.1" fill="#c9a0d3"/>
<path d="M93.8 171.7V175M91.6 171.7h4.4M91.6 175h4.4" stroke="#c9a0d3" stroke-width="0.95" fill="none"/>
<circle cx="93.8" cy="173.4" r="2.1" fill="#c9a0d3"/>
<path d="M111.6 172.4V174.5M109.4 172.4h4.4M109.4 174.5h4.4" stroke="#c9a0d3" stroke-width="0.95" fill="none"/>
<circle cx="111.6" cy="173.4" r="2.1" fill="#c9a0d3"/>
<path d="M129.5 172V174.6M127.3 172h4.4M127.3 174.6h4.4" stroke="#c9a0d3" stroke-width="0.95" fill="none"/>
<circle cx="129.5" cy="173.3" r="2.1" fill="#c9a0d3"/>
<path d="M147.4 166.1V168.7M145.2 166.1h4.4M145.2 168.7h4.4" stroke="#c9a0d3" stroke-width="0.95" fill="none"/>
<circle cx="147.4" cy="167.4" r="2.1" fill="#c9a0d3"/>
<path d="M165.2 141.4V153.3M163 141.4h4.4M163 153.3h4.4" stroke="#c9a0d3" stroke-width="0.95" fill="none"/>
<circle cx="165.2" cy="147.3" r="2.1" fill="#c9a0d3"/>
<path d="M183 117.6V136.2M180.8 117.6h4.4M180.8 136.2h4.4" stroke="#c9a0d3" stroke-width="0.95" fill="none"/>
<circle cx="183" cy="126.9" r="2.1" fill="#c9a0d3"/>
<path d="M200.9 113.7V126.7M198.7 113.7h4.4M198.7 126.7h4.4" stroke="#c9a0d3" stroke-width="0.95" fill="none"/>
<circle cx="200.9" cy="120.2" r="2.1" fill="#c9a0d3"/>
<path d="M218.8 110.5V122M216.6 110.5h4.4M216.6 122h4.4" stroke="#c9a0d3" stroke-width="0.95" fill="none"/>
<circle cx="218.8" cy="116.2" r="2.1" fill="#c9a0d3"/>
<path d="M236.6 112.2V124.8M234.4 112.2h4.4M234.4 124.8h4.4" stroke="#c9a0d3" stroke-width="0.95" fill="none"/>
<circle cx="236.6" cy="118.5" r="2.1" fill="#c9a0d3"/>
<path d="M254.4 108.7V122.6M252.2 108.7h4.4M252.2 122.6h4.4" stroke="#c9a0d3" stroke-width="0.95" fill="none"/>
<circle cx="254.4" cy="115.6" r="2.1" fill="#c9a0d3"/>
<polyline fill="none" stroke="#000" stroke-width="1" points="129.5,176.8 147.4,176.4 165.2,176.4 183,176.4 200.9,177.1 218.8,176.4 236.6,174.2 254.4,168.1"/>
<circle cx="129.5" cy="176.8" r="1.9" fill="#000"/>
<circle cx="147.4" cy="176.4" r="1.9" fill="#000"/>
<circle cx="165.2" cy="176.4" r="1.9" fill="#000"/>
<circle cx="183" cy="173.2" r="1.9" fill="#000"/>
<circle cx="200.9" cy="177.1" r="1.9" fill="#000"/>
<circle cx="218.8" cy="176.4" r="1.9" fill="#000"/>
<circle cx="236.6" cy="174.2" r="1.9" fill="#000"/>
<circle cx="254.4" cy="168.1" r="1.9" fill="#000"/>
<path d="M254.5 165.6V170.6M252.5 165.6h4M252.5 170.6h4" stroke="#000" stroke-width="0.9" fill="none"/>
<path d="M43 35.3V180.7M42.3 180H273" stroke="#000" stroke-width="1.4" fill="none"/>
<line x1="36.5" y1="180" x2="43" y2="180" stroke="#000" stroke-width="1.4"/>
<text x="34" y="183.9" font-size="11" font-weight="bold" text-anchor="end">0</text>
<line x1="36.5" y1="144" x2="43" y2="144" stroke="#000" stroke-width="1.4"/>
<text x="34" y="147.9" font-size="11" font-weight="bold" text-anchor="end">1</text>
<line x1="36.5" y1="108" x2="43" y2="108" stroke="#000" stroke-width="1.4"/>
<text x="34" y="111.9" font-size="11" font-weight="bold" text-anchor="end">2</text>
<line x1="36.5" y1="72" x2="43" y2="72" stroke="#000" stroke-width="1.4"/>
<text x="34" y="75.9" font-size="11" font-weight="bold" text-anchor="end">3</text>
<line x1="36.5" y1="36" x2="43" y2="36" stroke="#000" stroke-width="1.4"/>
<text x="34" y="39.9" font-size="11" font-weight="bold" text-anchor="end">4</text>
<line x1="42.8" y1="180" x2="42.8" y2="183.6" stroke="#000" stroke-width="1.4"/>
<line x1="68.3" y1="180" x2="68.3" y2="185.6" stroke="#000" stroke-width="1.4"/>
<line x1="93.8" y1="180" x2="93.8" y2="183.6" stroke="#000" stroke-width="1.4"/>
<line x1="119.3" y1="180" x2="119.3" y2="185.6" stroke="#000" stroke-width="1.4"/>
<line x1="144.8" y1="180" x2="144.8" y2="183.6" stroke="#000" stroke-width="1.4"/>
<line x1="170.3" y1="180" x2="170.3" y2="185.6" stroke="#000" stroke-width="1.4"/>
<line x1="195.8" y1="180" x2="195.8" y2="183.6" stroke="#000" stroke-width="1.4"/>
<line x1="221.3" y1="180" x2="221.3" y2="185.6" stroke="#000" stroke-width="1.4"/>
<line x1="246.8" y1="180" x2="246.8" y2="183.6" stroke="#000" stroke-width="1.4"/>
<line x1="272.3" y1="180" x2="272.3" y2="185.6" stroke="#000" stroke-width="1.4"/>
<text x="66.8" y="198.6" font-size="11" font-weight="bold" text-anchor="middle">-6</text>
<text x="117.8" y="198.6" font-size="11" font-weight="bold" text-anchor="middle">-4</text>
<text x="168.8" y="198.6" font-size="11" font-weight="bold" text-anchor="middle">-2</text>
<text x="221.3" y="198.6" font-size="11" font-weight="bold" text-anchor="middle">0</text>
<text x="272.3" y="198.6" font-size="11" font-weight="bold" text-anchor="middle">2</text>
<text x="157.5" y="218.9" font-size="11.8" text-anchor="middle">Log<tspan font-size="8.5" dy="2.5">10</tspan><tspan dy="-2.5">[mAb] </tspan><tspan font-style="italic">µ</tspan>g/ml</text>
<text transform="translate(17.3 130) rotate(-90)" font-size="11.8" font-weight="bold">OD<tspan font-size="8.6" dy="3.2">405nm</tspan></text>
<text x="455" y="23.8" font-size="14.2" font-weight="bold" text-anchor="middle">PIV3HN mAb Neutralization</text>
<polyline fill="none" stroke="#c4c4c4" stroke-width="1.15" points="376.7,185.1 380.1,185.1 383.6,185 387,184.9 390.5,184.9 393.9,184.7 397.4,184.6 400.8,184.4 404.2,184.2 407.7,183.9 411.1,183.6 414.6,183.2 418,182.6 421.5,181.9 424.9,181 428.4,179.9 431.8,178.6 435.2,176.9 438.7,174.8 442.1,172.4 445.6,169.4 449,166 452.5,161.9 455.9,157.4 459.4,152.3 462.8,146.9 466.3,141.1 469.7,135.2 473.1,129.4 476.6,123.7 480,118.4 483.5,113.5 486.9,109.2 490.4,105.4 493.8,102.1 497.3,99.4 500.7,97.1 504.1,95.2 507.6,93.7 511,92.4 514.5,91.4 517.9,90.6 521.4,90 524.8,89.5 528.3,89 531.7,88.7 535.2,88.5 538.6,88.3 542,88.1 545.5,88"/>
<path d="M424.9 186.6V186.8M422.7 186.6h4.4M422.7 186.8h4.4" stroke="#c4c4c4" stroke-width="0.95" fill="none"/>
<circle cx="424.9" cy="186.7" r="2.1" fill="#c4c4c4"/>
<polyline fill="none" stroke="#5cc3ee" stroke-width="1.15" points="376.7,162.1 380.1,162.1 383.6,162.1 387,162 390.5,162 393.9,162 397.4,161.9 400.8,161.9 404.2,161.8 407.7,161.8 411.1,161.7 414.6,161.6 418,161.4 421.5,161.3 424.9,161 428.4,160.8 431.8,160.4 435.2,160 438.7,159.4 442.1,158.8 445.6,158 449,157 452.5,155.8 455.9,154.3 459.4,152.5 462.8,150.4 466.3,148 469.7,145.1 473.1,141.9 476.6,138.4 480,134.5 483.5,130.4 486.9,126.1 490.4,121.8 493.8,117.6 497.3,113.6 500.7,109.8 504.1,106.4 507.6,103.4 511,100.7 514.5,98.4 517.9,96.4 521.4,94.8 524.8,93.4 528.3,92.3 531.7,91.3 535.2,90.6 538.6,90 542,89.5 545.5,89.1"/>
<path d="M376.7 147.3V172.3M374.5 147.3h4.4M374.5 172.3h4.4" stroke="#5cc3ee" stroke-width="0.95" fill="none"/>
<circle cx="376.7" cy="159.8" r="2.1" fill="#5cc3ee"/>
<path d="M400.8 151.1V171.3M398.6 151.1h4.4M398.6 171.3h4.4" stroke="#5cc3ee" stroke-width="0.95" fill="none"/>
<circle cx="400.8" cy="161.2" r="2.1" fill="#5cc3ee"/>
<path d="M424.9 156.7V168.6M422.7 156.7h4.4M422.7 168.6h4.4" stroke="#5cc3ee" stroke-width="0.95" fill="none"/>
<circle cx="424.9" cy="162.6" r="2.1" fill="#5cc3ee"/>
<path d="M449 150.9V162.8M446.8 150.9h4.4M446.8 162.8h4.4" stroke="#5cc3ee" stroke-width="0.95" fill="none"/>
<circle cx="449" cy="156.8" r="2.1" fill="#5cc3ee"/>
<path d="M473.1 137.6V149.1M470.9 137.6h4.4M470.9 149.1h4.4" stroke="#5cc3ee" stroke-width="0.95" fill="none"/>
<circle cx="473.1" cy="143.4" r="2.1" fill="#5cc3ee"/>
<path d="M497.3 112V119.7M495.1 112h4.4M495.1 119.7h4.4" stroke="#5cc3ee" stroke-width="0.95" fill="none"/>
<circle cx="497.3" cy="115.8" r="2.1" fill="#5cc3ee"/>
<path d="M521.4 92.7V97.4M519.2 92.7h4.4M519.2 97.4h4.4" stroke="#5cc3ee" stroke-width="0.95" fill="none"/>
<circle cx="521.4" cy="95" r="2.1" fill="#5cc3ee"/>
<path d="M545.5 87.6V90.4M543.3 87.6h4.4M543.3 90.4h4.4" stroke="#5cc3ee" stroke-width="0.95" fill="none"/>
<circle cx="545.5" cy="89" r="2.1" fill="#5cc3ee"/>
<polyline fill="none" stroke="#ee342a" stroke-width="1.15" points="376.7,158.3 380.1,158.3 383.6,158.3 387,158.2 390.5,158.2 393.9,158.2 397.4,158.2 400.8,158.1 404.2,158 407.7,158 411.1,157.9 414.6,157.7 418,157.6 421.5,157.4 424.9,157.2 428.4,156.9 431.8,156.5 435.2,156 438.7,155.4 442.1,154.7 445.6,153.8 449,152.8 452.5,151.4 455.9,149.9 459.4,148 462.8,145.8 466.3,143.2 469.7,140.3 473.1,137 476.6,133.4 480,129.6 483.5,125.6 486.9,121.5 490.4,117.4 493.8,113.5 497.3,109.8 500.7,106.4 504.1,103.3 507.6,100.6 511,98.3 514.5,96.3 517.9,94.6 521.4,93.2 524.8,92 528.3,91 531.7,90.3 535.2,89.6 538.6,89.1 542,88.7 545.5,88.4"/>
<path d="M376.7 149.2V167.4M374.5 149.2h4.4M374.5 167.4h4.4" stroke="#ee342a" stroke-width="0.95" fill="none"/>
<circle cx="376.7" cy="158.3" r="2.1" fill="#ee342a"/>
<path d="M400.8 151.5V165.1M398.6 151.5h4.4M398.6 165.1h4.4" stroke="#ee342a" stroke-width="0.95" fill="none"/>
<circle cx="400.8" cy="158.3" r="2.1" fill="#ee342a"/>
<path d="M424.9 143.8V165.8M422.7 143.8h4.4M422.7 165.8h4.4" stroke="#ee342a" stroke-width="0.95" fill="none"/>
<circle cx="424.9" cy="154.8" r="2.1" fill="#ee342a"/>
<path d="M449 142.4V159.9M446.8 142.4h4.4M446.8 159.9h4.4" stroke="#ee342a" stroke-width="0.95" fill="none"/>
<circle cx="449" cy="151.1" r="2.1" fill="#ee342a"/>
<path d="M473.1 133.1V142.7M470.9 133.1h4.4M470.9 142.7h4.4" stroke="#ee342a" stroke-width="0.95" fill="none"/>
<circle cx="473.1" cy="137.9" r="2.1" fill="#ee342a"/>
<path d="M497.3 108.6V113M495.1 108.6h4.4M495.1 113h4.4" stroke="#ee342a" stroke-width="0.95" fill="none"/>
<circle cx="497.3" cy="110.8" r="2.1" fill="#ee342a"/>
<path d="M521.4 90.5V93.3M519.2 90.5h4.4M519.2 93.3h4.4" stroke="#ee342a" stroke-width="0.95" fill="none"/>
<circle cx="521.4" cy="91.9" r="2.1" fill="#ee342a"/>
<path d="M545.5 85.8V87.7M543.3 85.8h4.4M543.3 87.7h4.4" stroke="#ee342a" stroke-width="0.95" fill="none"/>
<circle cx="545.5" cy="86.7" r="2.1" fill="#ee342a"/>
<polyline fill="none" stroke="#f7941d" stroke-width="1.15" points="376.7,166.8 380.1,166.8 383.6,166.8 387,166.8 390.5,166.8 393.9,166.7 397.4,166.7 400.8,166.7 404.2,166.6 407.7,166.5 411.1,166.4 414.6,166.2 418,166 421.5,165.7 424.9,165.3 428.4,164.8 431.8,164.1 435.2,163.1 438.7,161.8 442.1,160.2 445.6,158 449,155.2 452.5,151.8 455.9,147.6 459.4,142.6 462.8,137 466.3,130.9 469.7,124.5 473.1,118.2 476.6,112.3 480,106.9 483.5,102.2 486.9,98.3 490.4,95.1 493.8,92.6 497.3,90.7 500.7,89.2 504.1,88 507.6,87.2 511,86.5 514.5,86 517.9,85.7 521.4,85.4 524.8,85.2 528.3,85.1 531.7,85 535.2,84.9 538.6,84.9 542,84.8 545.5,84.8"/>
<path d="M376.7 151.5V177.8M374.5 151.5h4.4M374.5 177.8h4.4" stroke="#f7941d" stroke-width="0.95" fill="none"/>
<circle cx="376.7" cy="164.7" r="2.1" fill="#f7941d"/>
<path d="M400.8 160.8V177.3M398.6 160.8h4.4M398.6 177.3h4.4" stroke="#f7941d" stroke-width="0.95" fill="none"/>
<circle cx="400.8" cy="169" r="2.1" fill="#f7941d"/>
<path d="M424.9 153.3V173.5M422.7 153.3h4.4M422.7 173.5h4.4" stroke="#f7941d" stroke-width="0.95" fill="none"/>
<circle cx="424.9" cy="163.4" r="2.1" fill="#f7941d"/>
<path d="M449 144.5V161.4M446.8 144.5h4.4M446.8 161.4h4.4" stroke="#f7941d" stroke-width="0.95" fill="none"/>
<circle cx="449" cy="153" r="2.1" fill="#f7941d"/>
<path d="M473.1 114.7V125.7M470.9 114.7h4.4M470.9 125.7h4.4" stroke="#f7941d" stroke-width="0.95" fill="none"/>
<circle cx="473.1" cy="120.2" r="2.1" fill="#f7941d"/>
<path d="M497.3 87.8V90.9M495.1 87.8h4.4M495.1 90.9h4.4" stroke="#f7941d" stroke-width="0.95" fill="none"/>
<circle cx="497.3" cy="89.4" r="2.1" fill="#f7941d"/>
<path d="M521.4 86.2V88.5M519.2 86.2h4.4M519.2 88.5h4.4" stroke="#f7941d" stroke-width="0.95" fill="none"/>
<circle cx="521.4" cy="87.4" r="2.1" fill="#f7941d"/>
<path d="M545.5 81.2V84.1M543.3 81.2h4.4M543.3 84.1h4.4" stroke="#f7941d" stroke-width="0.95" fill="none"/>
<circle cx="545.5" cy="82.6" r="2.1" fill="#f7941d"/>
<polyline fill="none" stroke="#8f359b" stroke-width="1.15" points="376.7,161.1 380.1,161.1 383.6,161.1 387,161 390.5,161 393.9,160.9 397.4,160.8 400.8,160.7 404.2,160.5 407.7,160.3 411.1,160.1 414.6,159.7 418,159.3 421.5,158.7 424.9,157.9 428.4,157 431.8,155.7 435.2,154.2 438.7,152.2 442.1,149.8 445.6,146.9 449,143.4 452.5,139.4 455.9,134.9 459.4,130 462.8,124.9 466.3,119.8 469.7,114.8 473.1,110.1 476.6,105.9 480,102.2 483.5,99.1 486.9,96.5 490.4,94.3 493.8,92.6 497.3,91.3 500.7,90.2 504.1,89.4 507.6,88.7 511,88.2 514.5,87.8 517.9,87.5 521.4,87.3 524.8,87.1 528.3,87 531.7,86.9 535.2,86.8 538.6,86.8 542,86.7 545.5,86.7"/>
<path d="M376.7 157.2V168.6M374.5 157.2h4.4M374.5 168.6h4.4" stroke="#8f359b" stroke-width="0.95" fill="none"/>
<circle cx="376.7" cy="162.9" r="2.1" fill="#8f359b"/>
<path d="M400.8 157.9V167.3M398.6 157.9h4.4M398.6 167.3h4.4" stroke="#8f359b" stroke-width="0.95" fill="none"/>
<circle cx="400.8" cy="162.6" r="2.1" fill="#8f359b"/>
<path d="M424.9 151.4V161.7M422.7 151.4h4.4M422.7 161.7h4.4" stroke="#8f359b" stroke-width="0.95" fill="none"/>
<circle cx="424.9" cy="156.5" r="2.1" fill="#8f359b"/>
<path d="M449 137.8V148.4M446.8 137.8h4.4M446.8 148.4h4.4" stroke="#8f359b" stroke-width="0.95" fill="none"/>
<circle cx="449" cy="143.1" r="2.1" fill="#8f359b"/>
<path d="M473.1 108.4V114.8M470.9 108.4h4.4M470.9 114.8h4.4" stroke="#8f359b" stroke-width="0.95" fill="none"/>
<circle cx="473.1" cy="111.6" r="2.1" fill="#8f359b"/>
<path d="M497.3 91.7V94.3M495.1 91.7h4.4M495.1 94.3h4.4" stroke="#8f359b" stroke-width="0.95" fill="none"/>
<circle cx="497.3" cy="93" r="2.1" fill="#8f359b"/>
<path d="M521.4 88.3V89.9M519.2 88.3h4.4M519.2 89.9h4.4" stroke="#8f359b" stroke-width="0.95" fill="none"/>
<circle cx="521.4" cy="89.1" r="2.1" fill="#8f359b"/>
<path d="M545.5 87.4V88.7M543.3 87.4h4.4M543.3 88.7h4.4" stroke="#8f359b" stroke-width="0.95" fill="none"/>
<circle cx="545.5" cy="88.1" r="2.1" fill="#8f359b"/>
<polyline fill="none" stroke="#a97c4f" stroke-width="1.15" points="376.7,154.4 380.1,154.1 383.6,153.6 387,153.1 390.5,152.5 393.9,151.6 397.4,150.6 400.8,149.3 404.2,147.7 407.7,145.8 411.1,143.5 414.6,140.8 418,137.6 421.5,134 424.9,130.1 428.4,125.9 431.8,121.5 435.2,117.1 438.7,112.8 442.1,108.7 445.6,105 449,101.6 452.5,98.7 455.9,96.2 459.4,94.2 462.8,92.4 466.3,91 469.7,89.9 473.1,89 476.6,88.3 480,87.7 483.5,87.3 486.9,86.9 490.4,86.6 493.8,86.4 497.3,86.2 500.7,86.1 504.1,86 507.6,85.9 511,85.9 514.5,85.8 517.9,85.8 521.4,85.8 524.8,85.7 528.3,85.7 531.7,85.7 535.2,85.7 538.6,85.7 542,85.7 545.5,85.7"/>
<path d="M376.7 140.9V163.4M374.5 140.9h4.4M374.5 163.4h4.4" stroke="#a97c4f" stroke-width="0.95" fill="none"/>
<circle cx="376.7" cy="152.2" r="2.1" fill="#a97c4f"/>
<path d="M400.8 139.2V161.3M398.6 139.2h4.4M398.6 161.3h4.4" stroke="#a97c4f" stroke-width="0.95" fill="none"/>
<circle cx="400.8" cy="150.2" r="2.1" fill="#a97c4f"/>
<path d="M424.9 125.6V137.3M422.7 125.6h4.4M422.7 137.3h4.4" stroke="#a97c4f" stroke-width="0.95" fill="none"/>
<circle cx="424.9" cy="131.4" r="2.1" fill="#a97c4f"/>
<path d="M449 96.7V103.2M446.8 96.7h4.4M446.8 103.2h4.4" stroke="#a97c4f" stroke-width="0.95" fill="none"/>
<circle cx="449" cy="100" r="2.1" fill="#a97c4f"/>
<path d="M473.1 88.9V92.9M470.9 88.9h4.4M470.9 92.9h4.4" stroke="#a97c4f" stroke-width="0.95" fill="none"/>
<circle cx="473.1" cy="90.9" r="2.1" fill="#a97c4f"/>
<path d="M497.3 86.7V88.5M495.1 86.7h4.4M495.1 88.5h4.4" stroke="#a97c4f" stroke-width="0.95" fill="none"/>
<circle cx="497.3" cy="87.6" r="2.1" fill="#a97c4f"/>
<path d="M521.4 83.5V85.4M519.2 83.5h4.4M519.2 85.4h4.4" stroke="#a97c4f" stroke-width="0.95" fill="none"/>
<circle cx="521.4" cy="84.5" r="2.1" fill="#a97c4f"/>
<path d="M545.5 85.9V87.4M543.3 85.9h4.4M543.3 87.4h4.4" stroke="#a97c4f" stroke-width="0.95" fill="none"/>
<circle cx="545.5" cy="86.6" r="2.1" fill="#a97c4f"/>
<polyline fill="none" stroke="#b88ac9" stroke-width="1.15" points="376.7,155.1 380.1,154.9 383.6,154.8 387,154.6 390.5,154.3 393.9,153.9 397.4,153.5 400.8,153 404.2,152.3 407.7,151.4 411.1,150.3 414.6,148.9 418,147.2 421.5,145.2 424.9,142.8 428.4,140 431.8,136.7 435.2,133.1 438.7,129.1 442.1,125 445.6,120.7 449,116.4 452.5,112.3 455.9,108.5 459.4,105 462.8,101.9 466.3,99.2 469.7,97 473.1,95.1 476.6,93.6 480,92.3 483.5,91.3 486.9,90.5 490.4,89.9 493.8,89.4 497.3,89 500.7,88.6 504.1,88.4 507.6,88.2 511,88.1 514.5,87.9 517.9,87.9 521.4,87.8 524.8,87.7 528.3,87.7 531.7,87.7 535.2,87.6 538.6,87.6 542,87.6 545.5,87.6"/>
<path d="M376.7 139.1V174.9M374.5 139.1h4.4M374.5 174.9h4.4" stroke="#b88ac9" stroke-width="0.95" fill="none"/>
<circle cx="376.7" cy="157" r="2.1" fill="#b88ac9"/>
<path d="M400.8 136.2V172.1M398.6 136.2h4.4M398.6 172.1h4.4" stroke="#b88ac9" stroke-width="0.95" fill="none"/>
<circle cx="400.8" cy="154.2" r="2.1" fill="#b88ac9"/>
<path d="M424.9 130.3V156.6M422.7 130.3h4.4M422.7 156.6h4.4" stroke="#b88ac9" stroke-width="0.95" fill="none"/>
<circle cx="424.9" cy="143.4" r="2.1" fill="#b88ac9"/>
<path d="M449 106.3V122.2M446.8 106.3h4.4M446.8 122.2h4.4" stroke="#b88ac9" stroke-width="0.95" fill="none"/>
<circle cx="449" cy="114.2" r="2.1" fill="#b88ac9"/>
<path d="M473.1 90.3V99.2M470.9 90.3h4.4M470.9 99.2h4.4" stroke="#b88ac9" stroke-width="0.95" fill="none"/>
<circle cx="473.1" cy="94.8" r="2.1" fill="#b88ac9"/>
<path d="M497.3 88.8V92.1M495.1 88.8h4.4M495.1 92.1h4.4" stroke="#b88ac9" stroke-width="0.95" fill="none"/>
<circle cx="497.3" cy="90.5" r="2.1" fill="#b88ac9"/>
<path d="M521.4 83.5V88.2M519.2 83.5h4.4M519.2 88.2h4.4" stroke="#b88ac9" stroke-width="0.95" fill="none"/>
<circle cx="521.4" cy="85.9" r="2.1" fill="#b88ac9"/>
<path d="M545.5 87.3V90.2M543.3 87.3h4.4M543.3 90.2h4.4" stroke="#b88ac9" stroke-width="0.95" fill="none"/>
<circle cx="545.5" cy="88.8" r="2.1" fill="#b88ac9"/>
<polyline fill="none" stroke="#0b9347" stroke-width="1.15" points="376.7,163.9 380.1,163.9 383.6,163.9 387,163.9 390.5,163.8 393.9,163.7 397.4,163.7 400.8,163.5 404.2,163.4 407.7,163.2 411.1,162.9 414.6,162.6 418,162.2 421.5,161.6 424.9,160.9 428.4,159.9 431.8,158.7 435.2,157.2 438.7,155.2 442.1,152.9 445.6,149.9 449,146.5 452.5,142.4 455.9,137.8 459.4,132.8 462.8,127.5 466.3,122.1 469.7,116.8 473.1,111.8 476.6,107.2 480,103.2 483.5,99.7 486.9,96.8 490.4,94.4 493.8,92.5 497.3,90.9 500.7,89.7 504.1,88.8 507.6,88.1 511,87.5 514.5,87.1 517.9,86.7 521.4,86.5 524.8,86.3 528.3,86.1 531.7,86 535.2,85.9 538.6,85.9 542,85.8 545.5,85.8"/>
<path d="M376.7 152V173.6M374.5 152h4.4M374.5 173.6h4.4" stroke="#0b9347" stroke-width="0.95" fill="none"/>
<circle cx="376.7" cy="162.8" r="2.1" fill="#0b9347"/>
<path d="M400.8 154.2V175.8M398.6 154.2h4.4M398.6 175.8h4.4" stroke="#0b9347" stroke-width="0.95" fill="none"/>
<circle cx="400.8" cy="165" r="2.1" fill="#0b9347"/>
<path d="M424.9 150.6V167.5M422.7 150.6h4.4M422.7 167.5h4.4" stroke="#0b9347" stroke-width="0.95" fill="none"/>
<circle cx="424.9" cy="159.1" r="2.1" fill="#0b9347"/>
<path d="M449 142.2V151.5M446.8 142.2h4.4M446.8 151.5h4.4" stroke="#0b9347" stroke-width="0.95" fill="none"/>
<circle cx="449" cy="146.8" r="2.1" fill="#0b9347"/>
<path d="M473.1 109.5V118.5M470.9 109.5h4.4M470.9 118.5h4.4" stroke="#0b9347" stroke-width="0.95" fill="none"/>
<circle cx="473.1" cy="114" r="2.1" fill="#0b9347"/>
<path d="M497.3 90.5V93.8M495.1 90.5h4.4M495.1 93.8h4.4" stroke="#0b9347" stroke-width="0.95" fill="none"/>
<circle cx="497.3" cy="92.2" r="2.1" fill="#0b9347"/>
<path d="M521.4 86.4V88.9M519.2 86.4h4.4M519.2 88.9h4.4" stroke="#0b9347" stroke-width="0.95" fill="none"/>
<circle cx="521.4" cy="87.6" r="2.1" fill="#0b9347"/>
<path d="M545.5 84.5V86.1M543.3 84.5h4.4M543.3 86.1h4.4" stroke="#0b9347" stroke-width="0.95" fill="none"/>
<circle cx="545.5" cy="85.3" r="2.1" fill="#0b9347"/>
<polyline fill="none" stroke="#7b85c4" stroke-width="1.15" points="376.7,161.1 380.1,161 383.6,161 387,160.9 390.5,160.8 393.9,160.7 397.4,160.5 400.8,160.3 404.2,160 407.7,159.6 411.1,159 414.6,158.3 418,157.3 421.5,155.9 424.9,154.2 428.4,152 431.8,149.1 435.2,145.7 438.7,141.5 442.1,136.6 445.6,131.1 449,125.3 452.5,119.4 455.9,113.6 459.4,108.3 462.8,103.5 466.3,99.5 469.7,96.1 473.1,93.4 476.6,91.3 480,89.6 483.5,88.4 486.9,87.4 490.4,86.7 493.8,86.2 497.3,85.8 500.7,85.5 504.1,85.3 507.6,85.1 511,85 514.5,84.9 517.9,84.9 521.4,84.8 524.8,84.8 528.3,84.8 531.7,84.8 535.2,84.7 538.6,84.7 542,84.7 545.5,84.7"/>
<path d="M376.7 150.4V174.8M374.5 150.4h4.4M374.5 174.8h4.4" stroke="#7b85c4" stroke-width="0.95" fill="none"/>
<circle cx="376.7" cy="162.6" r="2.1" fill="#7b85c4"/>
<path d="M400.8 154V170.7M398.6 154h4.4M398.6 170.7h4.4" stroke="#7b85c4" stroke-width="0.95" fill="none"/>
<circle cx="400.8" cy="162.4" r="2.1" fill="#7b85c4"/>
<path d="M424.9 138.8V169M422.7 138.8h4.4M422.7 169h4.4" stroke="#7b85c4" stroke-width="0.95" fill="none"/>
<circle cx="424.9" cy="153.9" r="2.1" fill="#7b85c4"/>
<path d="M449 119.6V129.9M446.8 119.6h4.4M446.8 129.9h4.4" stroke="#7b85c4" stroke-width="0.95" fill="none"/>
<circle cx="449" cy="124.8" r="2.1" fill="#7b85c4"/>
<path d="M473.1 89.7V93.2M470.9 89.7h4.4M470.9 93.2h4.4" stroke="#7b85c4" stroke-width="0.95" fill="none"/>
<circle cx="473.1" cy="91.5" r="2.1" fill="#7b85c4"/>
<path d="M497.3 87V89.2M495.1 87h4.4M495.1 89.2h4.4" stroke="#7b85c4" stroke-width="0.95" fill="none"/>
<circle cx="497.3" cy="88.1" r="2.1" fill="#7b85c4"/>
<path d="M521.4 84.3V85.9M519.2 84.3h4.4M519.2 85.9h4.4" stroke="#7b85c4" stroke-width="0.95" fill="none"/>
<circle cx="521.4" cy="85.1" r="2.1" fill="#7b85c4"/>
<path d="M545.5 85.2V87.3M543.3 85.2h4.4M543.3 87.3h4.4" stroke="#7b85c4" stroke-width="0.95" fill="none"/>
<circle cx="545.5" cy="86.3" r="2.1" fill="#7b85c4"/>
<polyline fill="none" stroke="#000" stroke-width="1.2" points="376.7,161.2 400.8,161.2 424.9,159.3 449,159.3 473.1,160.2 497.3,162.1 521.4,166.8 545.5,165.4"/>
<path d="M473.1 152.2V168.3M470.7 152.2h4.8M470.7 168.3h4.8" stroke="#000" stroke-width="0.9" fill="none"/>
<path d="M497.3 148V176.3M494.9 148h4.8M494.9 176.3h4.8" stroke="#000" stroke-width="0.9" fill="none"/>
<path d="M521.4 154.1V179.6M519 154.1h4.8M519 179.6h4.8" stroke="#000" stroke-width="0.9" fill="none"/>
<circle cx="473.1" cy="160.2" r="2" fill="#000"/>
<circle cx="497.3" cy="162.1" r="2" fill="#000"/>
<circle cx="521.4" cy="166.8" r="2" fill="#000"/>
<circle cx="545.5" cy="165.4" r="2" fill="#000"/>
<path d="M345.5 38.6V190M344.8 181H552" stroke="#000" stroke-width="1.4" fill="none"/>
<line x1="339" y1="181" x2="345.5" y2="181" stroke="#000" stroke-width="1.4"/>
<text x="336.5" y="184.9" font-size="11" font-weight="bold" text-anchor="end">0</text>
<line x1="339" y1="133.8" x2="345.5" y2="133.8" stroke="#000" stroke-width="1.4"/>
<text x="336.5" y="137.7" font-size="11" font-weight="bold" text-anchor="end">50</text>
<line x1="339" y1="86.6" x2="345.5" y2="86.6" stroke="#000" stroke-width="1.4"/>
<text x="336.5" y="90.5" font-size="11" font-weight="bold" text-anchor="end">100</text>
<line x1="339" y1="39.4" x2="345.5" y2="39.4" stroke="#000" stroke-width="1.4"/>
<text x="336.5" y="43.3" font-size="11" font-weight="bold" text-anchor="end">150</text>
<line x1="362.9" y1="181" x2="362.9" y2="188.2" stroke="#000" stroke-width="1.4"/>
<line x1="397.3" y1="181" x2="397.3" y2="185" stroke="#000" stroke-width="1.4"/>
<line x1="431.8" y1="181" x2="431.8" y2="188.2" stroke="#000" stroke-width="1.4"/>
<line x1="466.2" y1="181" x2="466.2" y2="185" stroke="#000" stroke-width="1.4"/>
<line x1="500.7" y1="181" x2="500.7" y2="188.2" stroke="#000" stroke-width="1.4"/>
<line x1="535.1" y1="181" x2="535.1" y2="185" stroke="#000" stroke-width="1.4"/>
<text x="361.4" y="199.6" font-size="11" font-weight="bold" text-anchor="middle">-4</text>
<text x="430.3" y="199.6" font-size="11" font-weight="bold" text-anchor="middle">-2</text>
<text x="500.7" y="199.6" font-size="11" font-weight="bold" text-anchor="middle">0</text>
<text x="449" y="216.5" font-size="12.2" text-anchor="middle">Log<tspan font-size="8.6" dy="2.5">10</tspan><tspan dy="-2.5">[mAb] </tspan><tspan font-style="italic">µ</tspan>g/ml</text>
<text transform="translate(309.2 115.1) rotate(-90)" font-size="12" font-weight="bold" text-anchor="middle">% Neutralization</text>
<line x1="573" y1="15.3" x2="589" y2="15.3" stroke="#7b85c4" stroke-width="1"/>
<circle cx="581" cy="15.3" r="2.1" fill="#7b85c4"/>
<text x="597.4" y="19.4" font-size="11.4">PIV3HN-03</text>
<line x1="573" y1="34.9" x2="589" y2="34.9" stroke="#f7941d" stroke-width="1"/>
<circle cx="581" cy="34.9" r="2.1" fill="#f7941d"/>
<text x="597.4" y="39" font-size="11.4">PIV3HN-04</text>
<line x1="573" y1="53.9" x2="589" y2="53.9" stroke="#b88ac9" stroke-width="1"/>
<circle cx="581" cy="53.9" r="2.1" fill="#b88ac9"/>
<text x="597.4" y="58" font-size="11.4">PIV3HN-05</text>
<line x1="573" y1="73.6" x2="589" y2="73.6" stroke="#0b9347" stroke-width="1"/>
<circle cx="581" cy="73.6" r="2.1" fill="#0b9347"/>
<text x="597.4" y="77.7" font-size="11.4">PIV3HN-09</text>
<line x1="573" y1="94" x2="589" y2="94" stroke="#a97c4f" stroke-width="1"/>
<circle cx="581" cy="94" r="2.1" fill="#a97c4f"/>
<text x="597.4" y="98.1" font-size="11.4">PIV3HN-11</text>
<line x1="573" y1="113.3" x2="589" y2="113.3" stroke="#ee342a" stroke-width="1"/>
<circle cx="581" cy="113.3" r="2.1" fill="#ee342a"/>
<text x="597.4" y="117.4" font-size="11.4">PIV3HN-12</text>
<line x1="573" y1="132" x2="589" y2="132" stroke="#5cc3ee" stroke-width="1"/>
<circle cx="581" cy="132" r="2.1" fill="#5cc3ee"/>
<text x="597.4" y="136.1" font-size="11.4">PIV3HN-13</text>
<line x1="573" y1="151.7" x2="589" y2="151.7" stroke="#8f359b" stroke-width="1"/>
<circle cx="581" cy="151.7" r="2.1" fill="#8f359b"/>
<text x="597.4" y="155.8" font-size="11.4">PIV3HN-15</text>
<line x1="573" y1="172.5" x2="589" y2="172.5" stroke="#c4c4c4" stroke-width="1"/>
<circle cx="581" cy="172.5" r="2.1" fill="#c4c4c4"/>
<text x="597.4" y="176.6" font-size="11.4">PIA174 (+)</text>
<line x1="573" y1="192.5" x2="589" y2="192.5" stroke="#000000" stroke-width="1"/>
<circle cx="581" cy="192.5" r="2.1" fill="#000000"/>
<text x="597.4" y="196.6" font-size="11.4">PhtD7&#160; (-)</text>
<path d="M91 239.6H641.7V295.8H17.6V265.2H91Z" fill="#fff" stroke="#000" stroke-width="1.5"/>
<path d="M91 265.2V295.8M146 239.6V295.8M201.4 239.6V295.8M256 239.6V295.8M311.4 239.6V295.8M366.2 239.6V295.8M421 239.6V295.8M475.5 239.6V295.8M530.2 239.6V295.8M586 239.6V295.8M91 265.2H641.7M17.6 280.8H641.7" fill="none" stroke="#000" stroke-width="1.5"/>
<text x="118.5" y="256.3" font-size="9.5" font-weight="bold" text-anchor="middle">PIV3HN-03</text>
<text x="118.5" y="276.3" font-size="9.5" text-anchor="middle" fill="#222">13</text>
<text x="118.5" y="291.6" font-size="9.5" text-anchor="middle" fill="#222">35</text>
<text x="173.7" y="256.3" font-size="9.5" font-weight="bold" text-anchor="middle">PIV3HN-04</text>
<text x="173.7" y="276.3" font-size="9.5" text-anchor="middle" fill="#222">10</text>
<text x="173.7" y="291.6" font-size="9.5" text-anchor="middle" fill="#222">120</text>
<text x="228.7" y="256.3" font-size="9.5" font-weight="bold" text-anchor="middle">PIV3HN-05</text>
<text x="228.7" y="276.3" font-size="9.5" text-anchor="middle" fill="#222">5</text>
<text x="228.7" y="291.6" font-size="9.5" text-anchor="middle" fill="#222">27</text>
<text x="283.7" y="256.3" font-size="9.5" font-weight="bold" text-anchor="middle">PIV3HN-09</text>
<text x="283.7" y="276.3" font-size="9.5" text-anchor="middle" fill="#222">9</text>
<text x="283.7" y="291.6" font-size="9.5" text-anchor="middle" fill="#222">90</text>
<text x="338.8" y="256.3" font-size="9.5" font-weight="bold" text-anchor="middle">PIV3HN-11</text>
<text x="338.8" y="276.3" font-size="9.5" text-anchor="middle" fill="#222">11</text>
<text x="338.8" y="291.6" font-size="9.5" text-anchor="middle" fill="#222">11</text>
<text x="393.6" y="256.3" font-size="9.5" font-weight="bold" text-anchor="middle">PIV3HN-12</text>
<text x="393.6" y="276.3" font-size="9.5" text-anchor="middle" fill="#222">21</text>
<text x="393.6" y="291.6" font-size="9.5" text-anchor="middle" fill="#222">390</text>
<text x="448.2" y="256.3" font-size="9.5" font-weight="bold" text-anchor="middle">PIV3HN-13</text>
<text x="448.2" y="276.3" font-size="9.5" text-anchor="middle" fill="#222">31</text>
<text x="448.2" y="291.6" font-size="9.5" text-anchor="middle" fill="#222">430</text>
<text x="502.9" y="256.3" font-size="9.5" font-weight="bold" text-anchor="middle">PIV3HN-15</text>
<text x="502.9" y="276.3" font-size="9.5" text-anchor="middle" fill="#222">14</text>
<text x="502.9" y="291.6" font-size="9.5" text-anchor="middle" fill="#222">91</text>
<text x="558.1" y="256.3" font-size="9.5" font-weight="bold" text-anchor="middle">PIA174 (+)</text>
<text x="558.1" y="276.3" font-size="9.5" text-anchor="middle" fill="#222">-</text>
<text x="558.1" y="291.6" font-size="9.5" text-anchor="middle" fill="#222">96</text>
<text x="613.9" y="254.6" font-size="9.5" font-weight="bold" text-anchor="middle">PhtD7 (-)</text>
<text x="613.9" y="276.3" font-size="9.5" text-anchor="middle" fill="#222">&gt;</text>
<text x="613.9" y="291.6" font-size="9.5" text-anchor="middle" fill="#222">&gt;</text>
<text x="54.8" y="276.2" font-size="9.5" font-weight="bold" text-anchor="middle" fill="#111">EC<tspan font-size="5.6" dy="1.9">50</tspan><tspan dy="-1.9"> (ng/mL)</tspan></text>
<text x="54.8" y="291.5" font-size="9.5" font-weight="bold" text-anchor="middle" fill="#111">IC<tspan font-size="5.6" dy="1.9">50</tspan><tspan dy="-1.9"> (ng/mL)</tspan></text>
<g filter="url(#bl)"><ellipse cx="64" cy="425.5" rx="30" ry="8.5" transform="rotate(-25 64 425.5)" fill="#3f9fcf" opacity=".30"/><ellipse cx="61" cy="426.5" rx="21" ry="5" transform="rotate(-25 61 426.5)" fill="#79c653" opacity=".36"/><ellipse cx="36" cy="447" rx="9" ry="3.4" transform="rotate(-52 36 447)" fill="#3f9fcf" opacity=".3"/></g>
<g stroke-width=".8" fill="none">
<path stroke="rgb(36,57,177)" stroke-opacity=".85" d="M38.5 420.8h.8M53.7 404.9h.8M100.5 378.7h.8M31.9 418.7h.8M61.8 438.7h.8M110.4 393.5h.8M86.7 427h.8M116.7 352.9h.8M117.3 363h.8M99.6 387.5h.8M120.3 378.8h.8M78 392.5h.8M51.8 411.6h.8M106.8 390.9h.8M28.3 426.4h.8M79.9 438.5h.8M109.8 421.7h.8M49.4 408.6h.8M115.6 373.7h.8M32.5 412.6h.8M41.9 393.8h.8M67.7 400.2h.8M60.9 401.3h.8M47.4 452.4h.8M35.5 416.1h.8M103.3 393.4h.8M87.2 374.1h.8M69.3 396.1h.8M98.6 388.7h.8M97.7 384.2h.8M114.4 371h.8M114 380.6h.8M101.1 388.1h.8M99 398.4h.8M84.9 429.6h.8M52.1 399.9h.8M54 408.4h.8M31.3 425h.8M71.7 441.3h.8M99.2 423h.8M126.8 366.9h.8M112.6 375.6h.8M82.1 436.4h.8M105.8 414.3h.8M113.2 401.2h.8M68.6 388.2h.8M115.8 419.8h.8M55.6 400.8h.8M136.8 412.5h.8M57 401.9h.8M71.3 449.3h.8M57.9 405.7h.8M87.4 432.7h.8M68.5 441.1h.8M133.3 394.5h.8M108.2 391.1h.8M77.8 385.8h.8M29.9 441.7h.8M68.1 387.7h.8M70.2 391.4h.8M69.2 376.5h.8M106.6 414.4h.8M85.6 379.6h.8M59.2 401.7h.8M82.8 388h.8M68.9 385.4h.8M61.3 404.4h.8M68.7 399.6h.8M37.4 453.1h.8M89.3 388.9h.8M106.4 378.5h.8M67.4 440.6h.8M108.3 392.7h.8M37 402.9h.8M48.2 447.7h.8M38.4 417.2h.8M27.6 421h.8M120.4 376.7h.8M101.3 425.2h.8M94.1 380h.8M56.2 443.1h.8M71.8 382.9h.8M87.8 431.2h.8M75.9 376.5h.8M88 402h.8M55 445.1h.8M130.1 378.2h.8M118.5 409.6h.8M70.9 438.3h.8M101.8 412h.8M54.5 407h.8M36 428.9h.8M117 426.8h.8M98.6 398h.8M107.9 405.3h.8M112 392.2h.8M129.5 364.5h.8M110.9 403.3h.8M96.3 421h.8M67.2 442h.8M92.5 386.3h.8M78.6 393.6h.8M35.9 412.7h.8M103.3 375.8h.8M41.3 412.3h.8M92.8 364h.8M90.5 401.3h.8M117 404.7h.8M112.1 380.2h.8M73.8 369.3h.8M74.5 378.7h.8M93.5 404.5h.8M84.8 386.7h.8M110.5 402.2h.8M109.1 351.4h.8M75.6 435.9h.8M50.1 447.2h.8M64.9 392.7h.8M83.8 433.3h.8M106.1 389.9h.8M60.2 444h.8M116.7 354.4h.8M105 401.8h.8M79.3 396.6h.8M33.5 413.6h.8M125.5 388h.8M50 415.3h.8M127.8 371.8h.8M119.3 368.1h.8M56 445.2h.8M90.3 380.1h.8M102.1 384.5h.8M94.2 382.3h.8M76.7 374.7h.8M49.2 385.8h.8M33.3 420.6h.8M30.1 433.8h.8M37.1 408.1h.8M126.4 397.1h.8M33.9 431.1h.8M86.6 432.7h.8M109.3 393.1h.8M84.3 393.7h.8M47.4 448.9h.8M74 388.3h.8M126.7 399.4h.8M78.4 437.9h.8M91.1 350.3h.8M106.9 397.8h.8M93.9 395.5h.8M56.8 406.1h.8M92.2 391.7h.8M78.5 378.7h.8M98.8 372.9h.8M125.5 377.2h.8M63.2 438.7h.8M81.5 398.2h.8M117.7 390.4h.8M85.9 391.7h.8M92.5 425.9h.8M128.3 358.4h.8M99.4 372.2h.8M89.6 399.9h.8M103.2 390.9h.8M59.4 399.9h.8M60.1 445.8h.8M54.9 405.7h.8M84.1 388.7h.8M99.5 399.9h.8M30.9 422.4h.8M96.9 369h.8M68 391.6h.8M90.6 429.2h.8M58.2 442.1h.8M109.4 390.9h.8M100.5 396.4h.8M83.5 385h.8M105.8 386.4h.8M88.4 390.3h.8M90.5 437.6h.8M103.4 389.8h.8M119.6 358.1h.8M114.6 377.1h.8M103.4 406.7h.8M73.6 385.9h.8M77.9 383.6h.8M83.9 389.9h.8M107.9 402.5h.8M97.1 404.3h.8M84.7 387.1h.8M88.9 396.7h.8M70.6 435.5h.8M108 401.8h.8M55.1 404.3h.8M74.1 437.2h.8M88.4 432.6h.8M98.9 384.7h.8M32.4 425.1h.8M115.4 404h.8M68.5 437.1h.8M63.1 391.4h.8M99.7 377.3h.8M106.9 382.9h.8M60.3 399.9h.8M76.2 400.5h.8M38 414h.8M110.2 416h.8M75.8 436h.8M85.6 393.7h.8M116.7 378.7h.8M99.3 396.1h.8M105.5 379.1h.8M86.4 373.4h.8M120.9 394.9h.8M73 390.9h.8M89.9 381.8h.8M53.6 410.3h.8M112.8 388.3h.8M34.6 422.6h.8M81.9 368.2h.8M106.3 408.7h.8M29.8 431.9h.8M87.7 378.7h.8M50.7 404.5h.8M76.8 384.6h.8M51.9 407.5h.8M109 384.5h.8M64.6 437.5h.8M79.1 389.3h.8M80.4 385.2h.8M110.6 390.6h.8M102.3 423.1h.8M91.2 431.9h.8M108.2 418.6h.8M87.2 365.1h.8M28.1 437h.8M78.9 392h.8M65.4 442.1h.8M60.9 388.9h.8M65.6 373.3h.8M69.1 441.5h.8M72.4 403.8h.8M43.1 424.1h.8M40.5 406.8h.8M106.3 367h.8M90.1 367.3h.8M122.7 391.2h.8M115.1 411.7h.8M92.6 368h.8M73.9 435h.8M43.4 410.1h.8M94.2 420.1h.8M104.7 370.5h.8M104.5 418.3h.8M60.5 441.7h.8M93.8 377.8h.8M93.3 383.6h.8M94.2 379.5h.8M55.6 447.2h.8M107.2 386.1h.8M52.7 391.1h.8M81.3 429.6h.8M85.9 357.4h.8M36 423.3h.8M32.1 437.2h.8M101.4 398.7h.8M86 353.3h.8M73.9 392.3h.8M103.3 364.5h.8M41.3 416.4h.8M95 392.7h.8M77.7 401.4h.8M99.4 390.2h.8M94.1 405.3h.8M31.6 429.5h.8M104 403.9h.8M91.9 391h.8M119.8 409h.8M68 394.6h.8M95.8 375.3h.8M102.8 370.2h.8M101.3 371.4h.8M84.2 428.6h.8M78.1 379.1h.8M79.1 432.1h.8M94.1 425.4h.8M114.9 391.8h.8M62.8 403.5h.8M128.5 375.5h.8M82.8 382.2h.8M84.3 381.2h.8M103.3 421.8h.8M104.5 408.7h.8M79.2 383.3h.8M104.7 409.1h.8M130.5 382.6h.8M70.5 398.9h.8M113.1 356.3h.8M72.5 386.1h.8M119.5 382.9h.8M105 397.8h.8M101.3 424.7h.8M93.9 382.6h.8M103.4 395.4h.8M87.1 425.7h.8M88.6 427.7h.8M55.5 389.7h.8M99.6 384.9h.8M100.6 392.1h.8M91 426.7h.8M100.4 411.7h.8M53.3 394.8h.8M135 367.8h.8M86.3 393.5h.8M63.9 390.7h.8M135.2 378.5h.8M106 398.6h.8M42.8 452.7h.8M32.3 420.9h.8M102.2 395.5h.8M69.9 399.3h.8M120.3 360.5h.8M107 420.8h.8M104.6 400.1h.8M47.6 412.5h.8M36.7 420.1h.8M88.2 425.9h.8M118.8 379.6h.8M116 395.9h.8M53.6 369.8h.8M118.8 381.4h.8M101.3 387.5h.8M119.1 386.6h.8M74.7 380.1h.8M92.4 430.9h.8M102.3 378.4h.8M103.8 348.5h.8M97.2 418.5h.8M71 387.8h.8M30.5 429.4h.8M118.7 400.7h.8M66.4 438.9h.8M33.9 426.8h.8M122.1 376.8h.8M111.5 370.9h.8M76.6 383.7h.8M106.2 379.3h.8M92.8 426.2h.8M70.3 395.9h.8M61.1 439h.8M30.4 432.8h.8M125 375.9h.8M81.8 386.9h.8M95.4 355h.8M110.4 386.6h.8M68.1 377.5h.8M51.5 403.9h.8M103.4 374h.8M70.9 434.4h.8M111.5 393.9h.8M39 424.9h.8M74.5 381.2h.8M109.7 371.4h.8M90.3 382.2h.8M137.7 388.8h.8M46.7 403.7h.8M84.5 362.7h.8M113.5 397.4h.8M90.6 398.1h.8M105.5 374.5h.8M47.7 414.6h.8M122.1 356.9h.8M45.3 405.8h.8M28.4 433.1h.8M121.4 374.3h.8M106.5 358.9h.8M64.5 389.9h.8M107.5 394.7h.8M92.8 401.9h.8M109 394.2h.8M90.5 384.7h.8M30.2 411h.8M70.2 400.2h.8M72.6 435.8h.8M37.5 406.5h.8M102.6 399.1h.8M36 419.7h.8M28.1 429.5h.8M44.6 451h.8M42.9 414.4h.8M120.4 382.2h.8M109.5 397.6h.8M116.4 410.8h.8M85.4 388.7h.8M138 353.4h.8M103.2 382.7h.8M58.9 400.7h.8M129.7 389.9h.8M70.7 437.4h.8M60.2 398.8h.8M105.2 368.2h.8M133.7 368.9h.8M92.3 393.3h.8M105.6 407.8h.8M113.1 359.5h.8M75.4 370.5h.8M101.3 353.9h.8M54.7 387.6h.8M48.2 411.4h.8M64.1 441.5h.8M102.1 397.9h.8M72.9 402.4h.8M114.5 374.8h.8M109.7 396.8h.8M130 354.7h.8M57.8 399.1h.8M62.6 397.6h.8M136.1 377.3h.8M102.7 405h.8M57.9 443h.8M73.6 384.2h.8M39.5 421.1h.8M107.1 399.9h.8M60.9 405.5h.8M62.1 375.6h.8M77.5 396.7h.8M50.6 402.6h.8M69.2 388.6h.8M31 415.2h.8M73.9 397.6h.8M40.6 420.9h.8M72.6 384.9h.8M109.5 399.3h.8M50.9 405.3h.8M115 379h.8M104.6 413.9h.8M125.4 372.4h.8M110.8 389.6h.8M95.3 387.6h.8M45.2 418.6h.8M29 434.1h.8M71.6 388.7h.8M102.8 407.9h.8M105.9 377.2h.8M51.4 412.5h.8M85.4 396.7h.8M47.3 450.3h.8M82.1 373.9h.8M49.2 448.5h.8M124.4 356.4h.8M40.2 423.1h.8M100.4 393.7h.8M88 391.7h.8M97.1 371.4h.8M84 429.7h.8M118.5 371.7h.8M95.4 432.5h.8M99.7 421.6h.8M52.3 411.9h.8M98.1 350h.8M130.8 350h.8M104.2 407.8h.8M46.6 402.2h.8M79.4 390.3h.8M101.5 400.9h.8M44.2 453h.8M42.8 450.4h.8M64.8 384.5h.8M45.2 409.2h.8M105.6 416.4h.8M112.9 368.9h.8M35.8 415.4h.8M114.8 380.2h.8M99.9 376.2h.8M116.5 366h.8M58.9 384.4h.8M65.1 440h.8M98.1 366.4h.8M74.1 387h.8M59.4 396.1h.8M111.6 386.2h.8M41.1 419.3h.8M103.1 419.5h.8M41.3 397.6h.8M96.7 362.8h.8M116.5 388.4h.8M110.8 356.8h.8M90.4 376.5h.8M56.2 402.1h.8M58.3 399h.8M90.5 425.7h.8M66 439.3h.8M105.2 360.5h.8M81.9 438h.8M92 395h.8M101.6 382h.8M109.8 364.3h.8M61 442.9h.8M113.2 384h.8M77.4 434.4h.8M52.4 405.8h.8M122.8 389.1h.8M74.8 390.9h.8M122.2 363.5h.8M98.9 371.5h.8M118.4 364.1h.8M104.7 386.3h.8M103.3 425.8h.8M87.2 393.2h.8M110.6 381.8h.8M106.5 416.2h.8M75.8 391.3h.8M100.3 387.9h.8M101.7 374.2h.8M105.6 394.6h.8M87.1 428.9h.8M36.7 455.2h.8M112 348h.8M88.4 429.1h.8M103.9 378.8h.8M91.4 370.5h.8M99.6 389.3h.8M91.8 392.8h.8M29.6 427.8h.8M127.6 370.6h.8M38 423h.8M97.5 377.1h.8M109.8 416.5h.8M49.8 410.7h.8M89.4 394.9h.8M69.4 392.6h.8M81.9 376h.8M66.5 396.7h.8M120.2 366.5h.8M65.1 397.4h.8M64.1 443.2h.8M81.3 382.4h.8M109.8 388.4h.8M47 401.9h.8M102.2 394.4h.8M94 378.3h.8M57.6 441.4h.8M57 444.1h.8M73.4 438.3h.8M121.6 359.7h.8M34.2 427.8h.8M108.3 414.2h.8M123.3 392h.8M127.8 391.5h.8M100 416.7h.8M78 400.3h.8M115.2 377.6h.8M111.7 402.7h.8M102.1 401.6h.8M49.8 396.2h.8M122.7 390.4h.8M75.8 363.7h.8M116.7 375.4h.8M95.1 397h.8M81.7 367.2h.8M45.9 412.3h.8M103.3 388.1h.8M131.5 406.1h.8M33.3 418.8h.8M62.1 442.3h.8M84.2 377.4h.8M123.9 377.9h.8M103.4 367.5h.8M32 415.8h.8M58.4 410.8h.8M37.5 424.4h.8M91.1 369.4h.8M108 388.2h.8M94.4 381.9h.8M96.3 387.9h.8M129.2 372.7h.8M36.2 421.5h.8M46.5 452.4h.8M53.5 444.9h.8M129.1 394.5h.8M99.9 416.7h.8M102.8 419.1h.8M69.3 393.9h.8M129.2 393h.8M93.9 381.8h.8M51.7 413.8h.8M26.9 432.2h.8M107.2 382.7h.8M42.7 418.9h.8M101.4 407.7h.8M56.7 407.2h.8M127.6 359.4h.8M80 394.3h.8M100.7 409h.8M91.4 381.8h.8M30.1 427.4h.8M100.8 405.1h.8M88.1 395.2h.8M106.7 402.4h.8M128.6 371.8h.8M49.2 387.9h.8M126.8 375.2h.8M73 390.2h.8M93 416.9h.8M91.7 347.9h.8M57.6 398.9h.8M44.5 417.9h.8M58 454.1h.8M103.1 410.8h.8M103.1 386.7h.8M45.7 404.7h.8M40.8 409.6h.8M58 401.1h.8M107.4 353.1h.8M101.3 380.1h.8M107.7 395h.8M112.4 391.6h.8M82.3 432.6h.8M105.5 393.3h.8M100.8 401.2h.8M93.2 397.9h.8M59.6 447.8h.8M42.7 415.2h.8M114.9 407h.8M101.2 397h.8M85.3 430.7h.8M114.4 386.4h.8M88 427.9h.8M46.3 414.8h.8M111.3 377.6h.8M98.3 396.1h.8M61.5 387h.8M103.8 405h.8M41.8 452.5h.8M84.6 434.5h.8M102.3 375.8h.8M102.9 406.1h.8M27.2 438.9h.8M79.2 391.3h.8M49 399.4h.8M92 377.8h.8M45.7 450.5h.8M73.4 380.6h.8M63.6 408.2h.8M100.2 395.7h.8M110.6 378.8h.8M64.6 391.8h.8M71.8 395.6h.8M93.4 427h.8M81.8 395.9h.8M95.3 387h.8M89.5 385.6h.8M81 389.8h.8M91.1 402.5h.8M27.6 441.2h.8M83.8 405.2h.8M105.1 404.2h.8M90.8 383.8h.8M96.9 422.3h.8M28.2 422.3h.8M104.3 414.5h.8M69 394.3h.8M80.8 432.7h.8M92.4 432.5h.8M79.2 395.2h.8M108.5 366.9h.8M129 390h.8M88.3 385.1h.8M115.5 388.5h.8M62 399.5h.8M81.3 391.9h.8M104.4 406.4h.8M61.1 397.6h.8M41.4 411.5h.8M43.4 418.4h.8M70.7 388h.8M127.4 358.7h.8M129 353.1h.8M68.4 403.2h.8M33 416.5h.8M31.9 414.8h.8M58 374.6h.8M76.2 388.3h.8M30.2 441.3h.8M118 376.1h.8M44.4 420h.8M89.3 428.1h.8M66.1 390.9h.8M63.2 405.4h.8M123.1 415.8h.8M85 434.4h.8M101 414h.8M90.5 402.2h.8M109 407.3h.8M97.6 396.9h.8M79.9 385.4h.8M112.8 359.6h.8M129.6 378.3h.8M77 434h.8M86.9 385.2h.8M106.6 368.4h.8M80.6 397.2h.8M118.1 390.1h.8M101.4 405.8h.8M68.4 444h.8M74.5 395h.8M110.2 397.1h.8M36.6 411.6h.8M46.2 450.1h.8M55.9 394.6h.8M85.6 362.3h.8M84.8 395.2h.8M88 387h.8M110.1 401.5h.8M78.4 395.8h.8M105.7 392.5h.8M91.3 385.3h.8M105 424.7h.8M51 415.3h.8M74.4 393.8h.8M34.5 410.2h.8M125.8 385.5h.8M63.9 397.1h.8M90.2 361h.8M96.4 426.4h.8M113.7 368.4h.8M130.6 368.8h.8M79 388.5h.8M62.9 400.8h.8M70.5 393.1h.8M108.8 383.3h.8M97.8 397.7h.8M67.9 402.1h.8M80.5 390.3h.8M47.2 447.1h.8M86 390.1h.8M83.5 388.4h.8M35.1 422.8h.8M110.5 365.2h.8M53.9 446.4h.8M104.7 399.9h.8M44.5 407.6h.8M94 385.5h.8M42.6 406.9h.8M118.7 367.8h.8M65.2 402.4h.8M49.7 402.2h.8M105 368.5h.8M88.6 376.8h.8M78.4 396.2h.8M131.9 398.4h.8M85.4 390.1h.8M87.5 384.3h.8M94.5 407.3h.8M99.9 368.5h.8M49.1 409.4h.8M129.7 401.6h.8M97.3 426.5h.8M102.6 359.4h.8M94.8 367.5h.8M69.6 386.1h.8M121.3 382.6h.8M46.6 407.7h.8M108.9 405.1h.8M55.5 399.6h.8M108.6 390.8h.8M114.4 402h.8M111.1 391.8h.8M56.6 408.4h.8M129.6 353.4h.8M76.1 382.7h.8M104.9 372.5h.8M106.4 387.6h.8M98.1 374.9h.8M71.8 394.6h.8M106.9 372.5h.8M105.7 400h.8M112.1 393.4h.8M110.5 413.7h.8M98.1 401.3h.8M63.8 439.4h.8M43.6 450h.8M109.4 386.3h.8M74.7 436.4h.8M80.7 391h.8M93.7 391h.8M38.7 453.3h.8M77.6 382.6h.8M55.4 444.5h.8M103.5 387.9h.8M109.8 362.5h.8M98.7 387.1h.8M67.5 398.5h.8M27 444.9h.8M80.7 386.9h.8M48.9 399.3h.8M102.2 390.5h.8M118.9 408.4h.8M96.2 424.3h.8M108.1 370.1h.8M98.4 393h.8M98.1 406.8h.8M104.2 373.5h.8M115.9 394.8h.8M86.2 428.3h.8M72.2 387.9h.8M41 414.6h.8M95 393.4h.8M128.1 395.1h.8M126.2 376h.8M46.5 416.5h.8M36.5 426.4h.8M113.8 404.8h.8M55.1 393.9h.8M66.8 395h.8M105.7 420.5h.8M94.2 386.4h.8M89.9 395.9h.8M42.9 419.2h.8M55.4 402.2h.8M102.3 391.4h.8M112.2 398.5h.8M112.2 396.1h.8M111.4 414.2h.8M118.4 395h.8M37 415.3h.8M97.7 372.4h.8M93.7 378.7h.8M35.3 427.1h.8M87.9 429.8h.8M92.9 380.4h.8M52 448.1h.8M28.3 421.8h.8M109.7 402.1h.8M27.9 437.4h.8M121.6 361h.8M77.2 432h.8M103.6 420.2h.8M122.5 373.3h.8M65.9 405.8h.8M107.3 397.2h.8"/>
<path stroke="rgb(38,76,193)" stroke-opacity=".85" d="M70.1 403.3h.8M99.3 386.5h.8M55.5 441.2h.8M97.5 408.4h.8M49 411.1h.8M76.6 433.9h.8M87.3 390.5h.8M79.7 405.4h.8M32.5 444.8h.8M65 409.8h.8M80.3 398.9h.8M79.6 403.8h.8M58.2 406.1h.8M86.2 399.2h.8M34.2 431.2h.8M83.6 399.1h.8M93.2 399.9h.8M73.4 405.6h.8M95.2 407.4h.8M79.5 399.1h.8M35.9 440.9h.8M66.8 406.5h.8M101 390.6h.8M99.6 407.9h.8M61.5 401.9h.8M99.4 412.8h.8M76.1 392.7h.8M38.4 425.8h.8M90.4 389.2h.8M48.8 412.9h.8M65.6 401.3h.8M85.3 407h.8M53.2 414.7h.8M73.3 396.5h.8M99.3 400.2h.8M101.2 409.8h.8M45 421.4h.8M93 418.4h.8M30.1 430.3h.8M47.4 449.4h.8M69.2 403.2h.8M97.2 410h.8M83.3 396.2h.8M89.9 400.1h.8M57.2 408.9h.8M60.8 437.4h.8M98.7 400.4h.8M104.2 385.4h.8M97 415.9h.8M75.4 404.1h.8M92.6 396.8h.8M95.4 398.3h.8M70.9 402.2h.8M97.5 411.4h.8M72.6 398.4h.8M101.3 383.1h.8M45.3 447.6h.8M92.7 424.2h.8M90.5 392h.8M91.2 403.9h.8M44.6 409h.8M49.5 419.8h.8M84.4 402.1h.8M85.3 406.9h.8M86.9 426.2h.8M83.5 397.5h.8M50.9 416.5h.8M72.8 399.9h.8M92 399.9h.8M82.6 429.5h.8M62.2 407.3h.8M34.2 429.8h.8M29.9 437h.8M33.3 440.4h.8M80.9 392.6h.8M95.2 411.4h.8M46.9 415.4h.8M72.7 396.1h.8M53.4 440.5h.8M52 417.1h.8M83.4 398.6h.8M75.8 393.7h.8M37.4 426.8h.8M96.2 399.4h.8M67.8 403.5h.8M33.6 435h.8M117.2 362.9h.8M33.3 435.6h.8M69 408.1h.8M69.6 435.7h.8M68.6 406.3h.8M92.8 410.4h.8M74.4 406.1h.8M52.2 417.2h.8M71.1 399.3h.8M73 396h.8M50.5 444.7h.8M90.7 399.8h.8M75.1 432.5h.8M66.2 403.4h.8M77.4 409.6h.8M82.1 430.6h.8M63.5 410.5h.8M109.4 385.5h.8M89.5 430.3h.8M85.1 395.3h.8M40.7 424.1h.8M31 437.3h.8M68.9 436h.8M28.7 448.1h.8M71.3 400.4h.8M77.2 402.5h.8M78.1 401.3h.8M88.4 405.7h.8M80.6 406.5h.8M80.5 430.9h.8M27.8 445.3h.8M77.1 395.2h.8M100.9 406.2h.8M90 398.4h.8M71.3 434h.8M82.7 392.2h.8M81.6 402h.8M35.8 435.9h.8M93.6 419.8h.8M74.4 405.8h.8M103.2 397.9h.8M86.3 397.2h.8M28.6 445.7h.8M89 427.5h.8M98 406.2h.8M50.8 412.4h.8M32.7 432.1h.8M35.8 436.5h.8M88.8 403.4h.8M101.1 385.1h.8M85.1 394.1h.8M82.2 395.4h.8M86.9 398.8h.8M87.6 395.8h.8M67.9 409.2h.8M65.2 403.1h.8M98.9 386.2h.8M96.2 403.6h.8M74.7 396.6h.8M84.9 403.2h.8M27.6 449.8h.8M88.7 404.1h.8M54.3 440.1h.8M50.8 414.7h.8M64.5 400h.8M92 397.9h.8M26.7 449.9h.8M99.7 410h.8M66.7 441.5h.8M51.4 401.9h.8M95.3 402.4h.8M92.4 402.3h.8M32 445.6h.8M99.4 395.8h.8M49 447.8h.8M47.9 424.3h.8M55.7 405.1h.8M64.2 404.6h.8M72.9 433.5h.8M52.6 442.4h.8M76.3 432.9h.8M33.1 436.7h.8M50 409.8h.8M98 403.2h.8M85.5 427.4h.8M95.1 406.9h.8M74.5 397h.8M76.7 391.1h.8M100.7 417.1h.8M80.3 400.2h.8M71.7 435.3h.8M34.7 437.7h.8M63.7 411.1h.8M49.5 412.8h.8M70.1 432.1h.8M89.3 422.5h.8M84.4 397.2h.8M70.6 400h.8M104.2 387.4h.8M94.4 394.5h.8M95.6 418.7h.8M94.4 409.2h.8M55.8 410.8h.8M64.7 406.2h.8M96.1 408.6h.8M84 409.9h.8M30.3 443.8h.8M95.5 403.8h.8M33.3 441.5h.8M62.3 405.7h.8M60.2 403.4h.8M83.2 427.1h.8M43.8 423.8h.8M79.5 400h.8M91.8 425.1h.8M75.1 390.9h.8M82 426h.8M31.8 434.7h.8M72 407.8h.8M86.1 394.2h.8M35.4 437.9h.8M91.7 401.1h.8M99.9 406.3h.8M84.8 396.7h.8M90.1 423.4h.8M99.7 411.9h.8M30.9 437.4h.8M29.5 433.7h.8M85.6 398.8h.8M67.2 436.7h.8M37.3 423h.8M85.3 404.3h.8M100.9 389.7h.8M71.9 389.7h.8M86.7 424.9h.8M43.1 448.7h.8M32.9 430h.8M80.7 431.6h.8M67.3 435h.8M98.9 405.9h.8M76.8 393.4h.8M98.2 403.2h.8M55.6 440.2h.8M104.9 395.7h.8M33.9 433.6h.8M100.2 412.6h.8M101.1 401.3h.8M32.9 446.3h.8M96.3 413.8h.8M44.6 422.8h.8M63.4 402.8h.8M58.5 440.7h.8M79.3 430.2h.8M69.7 402.2h.8M76.2 399.1h.8M61.1 407.6h.8M36 454.4h.8M85.9 392.9h.8M92.4 407.1h.8M84.6 398.6h.8M61.9 408.3h.8"/>
<path stroke="rgb(39,96,204)" stroke-opacity=".85" d="M75.4 397.8h.8M68.5 405.1h.8M78.6 404.7h.8M64 407.8h.8M63.3 413.8h.8M91.6 420.5h.8M90.4 412h.8M63.3 400.8h.8M71.3 431.4h.8M91.9 414.4h.8M64.2 435.4h.8M37 454.3h.8M93.2 410.3h.8M62.8 411.2h.8M29.5 446.8h.8M57.1 440h.8M29.6 439.1h.8M42.9 427.6h.8M85 405.3h.8M71.1 396.9h.8M63.2 407.7h.8M78.7 430.2h.8M48 425.2h.8M77 431.4h.8M46.1 446h.8M75.6 403.9h.8M44.8 423.2h.8M92.2 404.6h.8M94.4 406h.8M27.1 452.6h.8M37.6 432.6h.8M30.6 441h.8M44.7 424.3h.8M83.5 404.5h.8M38.6 428.3h.8M34.9 451.1h.8M32.6 435.2h.8M44.9 448.2h.8M71.6 403.4h.8M36 429.7h.8M65.4 432.7h.8M88.6 408.2h.8M47.2 422.5h.8M64.4 411h.8M86.6 403.5h.8M93.2 417h.8M50.9 420.2h.8M80.4 429.3h.8M29.5 445.7h.8M69.5 389.3h.8M85.2 423.4h.8M57.4 409h.8M70.7 405.3h.8M31.2 445h.8M97.5 417.4h.8M97.7 401.8h.8M38.9 441.4h.8M79.1 402.4h.8M85.4 420.6h.8M93.5 402.3h.8M83.7 426.7h.8M92.3 405.7h.8M47.2 418.2h.8M82.6 400.8h.8M99.2 403.8h.8M61.9 411.2h.8M95.5 397.9h.8M92.6 422.8h.8M58.3 412.3h.8M42.5 424.8h.8M42.1 446.2h.8M80.4 403.7h.8M83.8 409.1h.8M42.2 449.4h.8M90.6 418.7h.8M52.5 419h.8M38.4 451.7h.8M54 415.6h.8M82.1 431.9h.8"/>
<path stroke="rgb(37,123,202)" stroke-opacity=".85" d="M77.2 425.4h.8M69.3 412.2h.8M75.1 410.5h.8M59.4 438.1h.8M41.7 443.9h.8M95 413.1h.8M59.5 415.9h.8M46 422.6h.8M37.9 430.1h.8M85.1 413.1h.8M88.3 401.6h.8M78.9 405.2h.8M32.6 443.2h.8M55.4 415.1h.8M42.2 431.3h.8"/>
<path stroke="rgb(35,150,200)" stroke-opacity=".85" d="M69.5 411.2h.8M53.9 412.9h.8M76.3 405.5h.8M46.7 443.2h.8"/>
<path stroke="rgb(41,169,180)" stroke-opacity=".85" d="M31.4 456.5h.8M38.1 437.4h.8M61.9 416h.8"/>
<path stroke="rgb(54,178,139)" stroke-opacity=".85" d="M49.8 420.4h.8"/>
<path stroke="rgb(239,179,32)" stroke-opacity=".85" d="M26.8 458.5h.8"/>
</g>
<g stroke-width="1" fill="none" shape-rendering="crispEdges">
<path stroke="rgb(36,57,177)" stroke-opacity="0.70" d="M27 442.5h1M27 446.5h1M27 448.5h1M29 444.5h1M29 450.5h1M30 428.5h1M30 436.5h1M31 432.5h1M31 433.5h1M31 438.5h1M31 441.5h1M32 431.5h1M32 441.5h1M32 456.5h1M33 423.5h1M35 417.5h1M35 426.5h1M35 455.5h1M36 439.5h1M37 417.5h1M37 421.5h1M38 419.5h1M38 426.5h1M38 427.5h1M39 453.5h1M40 415.5h1M40 417.5h1M40 422.5h1M40 427.5h1M40 451.5h1M40 452.5h1M41 449.5h1M42 412.5h1M43 415.5h1M43 419.5h1M43 449.5h1M45 416.5h1M45 443.5h1M45 444.5h1M46 408.5h1M46 410.5h1M46 413.5h1M47 411.5h1M47 415.5h1M47 443.5h1M48 414.5h1M48 418.5h1M48 443.5h1M49 404.5h1M49 414.5h1M49 417.5h1M49 444.5h1M49 445.5h1M50 410.5h1M50 417.5h1M50 418.5h1M51 414.5h1M52 401.5h1M53 406.5h1M56 394.5h1M58 402.5h1M58 404.5h1M59 405.5h1M59 440.5h1M60 404.5h1M61 403.5h1M62 402.5h1M62 438.5h1M63 396.5h1M63 404.5h1M64 401.5h1M65 404.5h1M65 437.5h1M66 397.5h1M66 435.5h1M67 404.5h1M68 397.5h1M68 400.5h1M70 388.5h1M70 390.5h1M71 390.5h1M71 438.5h1M72 438.5h1M73 399.5h1M73 406.5h1M73 437.5h1M74 403.5h1M74 434.5h1M74 438.5h1M75 392.5h1M75 395.5h1M75 398.5h1M75 399.5h1M75 400.5h1M75 434.5h1M76 403.5h1M77 374.5h1M77 391.5h1M77 394.5h1M77 397.5h1M77 403.5h1M77 430.5h1M77 433.5h1M77 436.5h1M77 437.5h1M78 384.5h1M78 385.5h1M79 376.5h1M81 384.5h1M81 436.5h1M82 393.5h1M82 394.5h1M82 397.5h1M82 398.5h1M82 401.5h1M83 390.5h1M83 402.5h1M83 430.5h1M83 432.5h1M84 430.5h1M85 383.5h1M85 397.5h1M85 401.5h1M86 383.5h1M86 384.5h1M86 389.5h1M86 392.5h1M87 385.5h1M87 392.5h1M87 398.5h1M87 400.5h1M88 372.5h1M88 398.5h1M88 399.5h1M89 389.5h1M89 391.5h1M90 388.5h1M90 392.5h1M90 396.5h1M90 419.5h1M90 424.5h1M90 428.5h1M91 419.5h1M91 422.5h1M92 390.5h1M92 406.5h1M92 423.5h1M92 428.5h1M93 375.5h1M93 386.5h1M93 387.5h1M93 389.5h1M93 394.5h1M93 398.5h1M93 403.5h1M94 371.5h1M94 388.5h1M94 395.5h1M94 396.5h1M94 397.5h1M94 403.5h1M94 419.5h1M94 421.5h1M94 424.5h1M95 405.5h1M95 419.5h1M95 420.5h1M96 389.5h1M96 398.5h1M96 410.5h1M96 415.5h1M96 416.5h1M96 418.5h1M97 378.5h1M97 386.5h1M97 391.5h1M97 395.5h1M97 399.5h1M97 400.5h1M97 405.5h1M97 422.5h1M98 392.5h1M98 394.5h1M98 414.5h1M98 415.5h1M99 382.5h1M99 391.5h1M99 408.5h1M99 418.5h1M99 419.5h1M100 386.5h1M100 402.5h1M100 420.5h1M101 402.5h1M101 408.5h1M101 410.5h1M102 388.5h1M102 392.5h1M102 398.5h1M102 408.5h1M102 409.5h1M102 410.5h1M103 385.5h1M103 412.5h1M103 414.5h1M104 390.5h1M104 394.5h1M104 411.5h1M104 420.5h1M105 384.5h1M105 388.5h1M105 395.5h1M105 396.5h1M105 402.5h1M106 381.5h1M106 384.5h1M106 396.5h1M107 385.5h1M107 387.5h1M107 412.5h1M108 381.5h1M108 406.5h1M108 408.5h1M108 409.5h1M109 368.5h1M109 398.5h1M110 379.5h1M110 385.5h1M110 387.5h1M111 390.5h1M114 394.5h1M115 379.5h1M115 395.5h1M116 406.5h1M118 376.5h1M119 378.5h1M120 368.5h1M127 381.5h1M129 388.5h1M134 374.5h1"/>
<path stroke="rgb(38,76,193)" stroke-opacity="0.76" d="M27 450.5h1M28 447.5h1M28 450.5h1M28 451.5h1M29 440.5h1M29 443.5h1M29 447.5h1M30 439.5h1M30 442.5h1M30 444.5h1M30 445.5h1M30 448.5h1M30 449.5h1M31 435.5h1M31 439.5h1M32 436.5h1M32 438.5h1M32 440.5h1M32 442.5h1M32 451.5h1M33 432.5h1M33 439.5h1M33 442.5h1M33 443.5h1M33 446.5h1M33 451.5h1M34 430.5h1M34 432.5h1M34 434.5h1M34 435.5h1M34 440.5h1M34 447.5h1M34 455.5h1M35 429.5h1M35 430.5h1M35 433.5h1M35 434.5h1M35 438.5h1M35 451.5h1M35 452.5h1M35 453.5h1M35 454.5h1M36 427.5h1M36 433.5h1M36 434.5h1M36 435.5h1M36 438.5h1M36 450.5h1M36 453.5h1M37 433.5h1M37 437.5h1M37 438.5h1M37 452.5h1M38 430.5h1M38 448.5h1M39 424.5h1M39 428.5h1M39 433.5h1M39 437.5h1M39 447.5h1M39 449.5h1M39 450.5h1M40 426.5h1M40 432.5h1M40 439.5h1M40 443.5h1M40 445.5h1M40 448.5h1M41 422.5h1M41 424.5h1M41 427.5h1M41 428.5h1M41 433.5h1M41 435.5h1M41 448.5h1M42 425.5h1M42 426.5h1M42 435.5h1M42 447.5h1M43 425.5h1M43 426.5h1M43 427.5h1M43 428.5h1M43 447.5h1M44 421.5h1M44 425.5h1M44 443.5h1M45 424.5h1M45 445.5h1M45 448.5h1M46 418.5h1M46 419.5h1M46 421.5h1M46 424.5h1M46 425.5h1M46 442.5h1M46 445.5h1M47 417.5h1M47 420.5h1M47 444.5h1M48 420.5h1M48 421.5h1M48 438.5h1M48 444.5h1M50 411.5h1M50 440.5h1M50 448.5h1M51 418.5h1M51 419.5h1M51 421.5h1M51 441.5h1M52 416.5h1M52 421.5h1M52 440.5h1M52 444.5h1M53 413.5h1M53 416.5h1M53 420.5h1M53 441.5h1M54 410.5h1M54 412.5h1M54 413.5h1M54 418.5h1M54 436.5h1M54 441.5h1M55 409.5h1M55 412.5h1M55 416.5h1M56 409.5h1M56 412.5h1M56 413.5h1M56 436.5h1M56 437.5h1M56 439.5h1M56 440.5h1M57 412.5h1M58 405.5h1M58 408.5h1M58 438.5h1M59 406.5h1M59 407.5h1M59 408.5h1M59 409.5h1M59 411.5h1M59 437.5h1M59 439.5h1M60 410.5h1M60 411.5h1M60 436.5h1M60 439.5h1M61 406.5h1M61 412.5h1M61 414.5h1M62 406.5h1M62 409.5h1M62 412.5h1M62 436.5h1M63 403.5h1M63 406.5h1M63 412.5h1M63 414.5h1M63 434.5h1M63 436.5h1M63 437.5h1M64 402.5h1M64 405.5h1M64 408.5h1M64 436.5h1M65 398.5h1M65 406.5h1M65 410.5h1M65 411.5h1M66 398.5h1M66 402.5h1M66 407.5h1M66 434.5h1M67 401.5h1M67 405.5h1M67 406.5h1M67 407.5h1M67 411.5h1M67 434.5h1M67 437.5h1M68 404.5h1M68 435.5h1M69 397.5h1M69 404.5h1M69 405.5h1M69 410.5h1M69 433.5h1M69 437.5h1M70 404.5h1M70 407.5h1M70 409.5h1M70 430.5h1M70 433.5h1M71 398.5h1M71 402.5h1M71 404.5h1M71 405.5h1M71 411.5h1M71 430.5h1M71 432.5h1M71 433.5h1M72 397.5h1M72 400.5h1M72 409.5h1M72 430.5h1M72 432.5h1M73 395.5h1M73 400.5h1M73 401.5h1M73 403.5h1M73 408.5h1M73 431.5h1M73 432.5h1M74 391.5h1M74 394.5h1M74 401.5h1M74 408.5h1M74 432.5h1M75 396.5h1M75 406.5h1M75 408.5h1M76 402.5h1M76 429.5h1M76 430.5h1M77 398.5h1M77 405.5h1M77 406.5h1M77 407.5h1M77 428.5h1M77 429.5h1M78 398.5h1M78 399.5h1M78 402.5h1M78 403.5h1M78 406.5h1M78 410.5h1M78 431.5h1M79 404.5h1M79 407.5h1M79 429.5h1M80 402.5h1M80 405.5h1M80 427.5h1M80 428.5h1M81 394.5h1M81 399.5h1M81 425.5h1M81 430.5h1M81 431.5h1M82 396.5h1M82 399.5h1M82 404.5h1M82 405.5h1M82 407.5h1M82 408.5h1M82 423.5h1M83 385.5h1M83 393.5h1M83 394.5h1M83 395.5h1M83 403.5h1M83 410.5h1M83 421.5h1M83 424.5h1M83 428.5h1M84 400.5h1M84 401.5h1M84 404.5h1M84 405.5h1M84 424.5h1M84 425.5h1M85 399.5h1M85 402.5h1M85 403.5h1M85 411.5h1M85 426.5h1M86 382.5h1M86 402.5h1M86 404.5h1M86 405.5h1M86 408.5h1M86 423.5h1M86 425.5h1M87 396.5h1M87 397.5h1M87 401.5h1M87 402.5h1M87 403.5h1M87 406.5h1M87 415.5h1M87 421.5h1M87 422.5h1M87 423.5h1M87 424.5h1M88 406.5h1M88 411.5h1M88 414.5h1M88 417.5h1M88 418.5h1M88 421.5h1M88 422.5h1M89 393.5h1M89 401.5h1M89 404.5h1M89 405.5h1M89 420.5h1M90 393.5h1M90 395.5h1M90 404.5h1M90 405.5h1M90 408.5h1M90 415.5h1M90 420.5h1M90 421.5h1M91 393.5h1M91 396.5h1M91 405.5h1M91 407.5h1M91 411.5h1M91 415.5h1M91 417.5h1M91 418.5h1M91 421.5h1M92 397.5h1M92 399.5h1M92 412.5h1M92 413.5h1M92 419.5h1M92 421.5h1M93 401.5h1M93 405.5h1M93 406.5h1M93 407.5h1M93 412.5h1M93 413.5h1M93 415.5h1M93 417.5h1M93 421.5h1M94 399.5h1M94 400.5h1M94 401.5h1M94 402.5h1M94 408.5h1M94 411.5h1M94 412.5h1M94 416.5h1M95 399.5h1M95 401.5h1M95 404.5h1M95 408.5h1M95 409.5h1M95 416.5h1M95 417.5h1M96 400.5h1M96 402.5h1M96 409.5h1M96 412.5h1M96 414.5h1M96 417.5h1M97 407.5h1M97 409.5h1M97 412.5h1M98 404.5h1M98 407.5h1M98 408.5h1M98 411.5h1M98 412.5h1M98 413.5h1M99 394.5h1M99 397.5h1M99 401.5h1M99 404.5h1M99 405.5h1M100 414.5h1M100 415.5h1M101 406.5h1M101 413.5h1M101 414.5h1M102 383.5h1M102 385.5h1M103 384.5h1M103 396.5h1M104 381.5h1"/>
<path stroke="rgb(39,96,204)" stroke-opacity="0.82" d="M27 451.5h1M29 451.5h1M30 447.5h1M31 443.5h1M31 449.5h1M32 439.5h1M32 445.5h1M32 447.5h1M32 452.5h1M32 455.5h1M33 445.5h1M33 455.5h1M34 436.5h1M34 439.5h1M34 444.5h1M34 450.5h1M34 453.5h1M35 432.5h1M35 439.5h1M35 441.5h1M35 442.5h1M35 445.5h1M35 447.5h1M36 428.5h1M36 430.5h1M36 432.5h1M36 441.5h1M36 443.5h1M36 446.5h1M36 452.5h1M37 427.5h1M37 431.5h1M37 434.5h1M37 435.5h1M37 436.5h1M37 439.5h1M37 444.5h1M37 450.5h1M38 429.5h1M38 431.5h1M38 432.5h1M38 434.5h1M38 439.5h1M38 450.5h1M39 427.5h1M39 430.5h1M39 438.5h1M39 442.5h1M40 429.5h1M40 433.5h1M40 434.5h1M40 435.5h1M40 438.5h1M40 440.5h1M40 441.5h1M40 442.5h1M40 450.5h1M41 425.5h1M41 426.5h1M41 429.5h1M41 436.5h1M41 439.5h1M41 441.5h1M42 428.5h1M42 429.5h1M42 440.5h1M42 441.5h1M42 442.5h1M42 443.5h1M42 444.5h1M42 448.5h1M43 430.5h1M43 433.5h1M43 435.5h1M43 442.5h1M43 443.5h1M43 444.5h1M43 445.5h1M44 428.5h1M44 442.5h1M44 445.5h1M44 446.5h1M45 419.5h1M45 425.5h1M45 429.5h1M45 439.5h1M45 442.5h1M46 422.5h1M46 423.5h1M46 435.5h1M46 438.5h1M46 440.5h1M47 425.5h1M47 426.5h1M47 437.5h1M47 441.5h1M48 422.5h1M48 424.5h1M48 439.5h1M48 441.5h1M48 442.5h1M49 438.5h1M49 439.5h1M49 441.5h1M49 442.5h1M50 419.5h1M50 435.5h1M50 439.5h1M50 441.5h1M51 437.5h1M51 440.5h1M51 443.5h1M52 434.5h1M52 441.5h1M53 411.5h1M53 417.5h1M53 418.5h1M53 424.5h1M53 438.5h1M54 414.5h1M54 417.5h1M54 419.5h1M54 420.5h1M54 439.5h1M55 408.5h1M55 414.5h1M55 417.5h1M55 418.5h1M55 419.5h1M55 435.5h1M55 439.5h1M56 411.5h1M56 415.5h1M56 417.5h1M56 441.5h1M57 410.5h1M57 411.5h1M57 416.5h1M57 420.5h1M57 436.5h1M57 437.5h1M57 438.5h1M58 414.5h1M58 417.5h1M58 433.5h1M58 437.5h1M59 413.5h1M59 416.5h1M59 418.5h1M59 434.5h1M59 435.5h1M60 406.5h1M60 408.5h1M60 409.5h1M60 415.5h1M60 416.5h1M60 417.5h1M60 418.5h1M60 434.5h1M60 435.5h1M61 409.5h1M61 410.5h1M61 417.5h1M61 419.5h1M61 433.5h1M61 436.5h1M62 408.5h1M62 410.5h1M62 414.5h1M63 409.5h1M63 433.5h1M63 435.5h1M64 410.5h1M64 432.5h1M64 434.5h1M65 408.5h1M65 412.5h1M65 413.5h1M65 431.5h1M65 434.5h1M65 435.5h1M65 436.5h1M66 408.5h1M66 410.5h1M66 411.5h1M66 417.5h1M66 432.5h1M66 433.5h1M67 412.5h1M67 430.5h1M67 432.5h1M68 408.5h1M68 409.5h1M68 410.5h1M68 413.5h1M68 431.5h1M68 432.5h1M68 433.5h1M68 434.5h1M69 406.5h1M69 413.5h1M69 431.5h1M70 410.5h1M70 413.5h1M71 406.5h1M71 415.5h1M72 407.5h1M72 412.5h1M72 431.5h1M73 407.5h1M73 424.5h1M73 433.5h1M74 409.5h1M74 410.5h1M75 405.5h1M75 428.5h1M75 431.5h1M76 398.5h1M76 401.5h1M76 408.5h1M76 409.5h1M76 410.5h1M76 412.5h1M76 422.5h1M76 423.5h1M76 424.5h1M76 431.5h1M77 427.5h1M78 407.5h1M78 408.5h1M78 411.5h1M78 412.5h1M78 424.5h1M78 429.5h1M79 401.5h1M79 406.5h1M79 408.5h1M79 422.5h1M79 428.5h1M79 431.5h1M80 407.5h1M80 409.5h1M80 412.5h1M80 426.5h1M81 400.5h1M81 401.5h1M81 408.5h1M81 409.5h1M81 424.5h1M81 427.5h1M82 406.5h1M82 409.5h1M82 412.5h1M82 422.5h1M82 424.5h1M82 425.5h1M82 428.5h1M83 392.5h1M83 401.5h1M83 406.5h1M83 412.5h1M83 419.5h1M83 422.5h1M83 425.5h1M84 406.5h1M84 408.5h1M84 410.5h1M84 411.5h1M84 420.5h1M84 421.5h1M84 422.5h1M84 423.5h1M84 427.5h1M85 409.5h1M85 410.5h1M85 414.5h1M85 416.5h1M85 422.5h1M86 401.5h1M86 406.5h1M86 410.5h1M86 411.5h1M86 412.5h1M86 414.5h1M86 415.5h1M86 420.5h1M86 421.5h1M87 405.5h1M87 407.5h1M87 409.5h1M87 411.5h1M87 412.5h1M87 413.5h1M87 414.5h1M87 419.5h1M88 412.5h1M88 413.5h1M88 415.5h1M88 420.5h1M89 403.5h1M89 408.5h1M89 414.5h1M89 417.5h1M89 419.5h1M89 421.5h1M90 407.5h1M90 409.5h1M90 410.5h1M90 412.5h1M90 413.5h1M90 416.5h1M90 417.5h1M91 404.5h1M91 406.5h1M91 408.5h1M91 409.5h1M91 412.5h1M91 416.5h1M92 398.5h1M92 408.5h1M92 411.5h1M92 415.5h1M92 417.5h1M92 420.5h1M93 408.5h1M93 409.5h1M93 411.5h1M94 413.5h1M94 415.5h1M95 410.5h1M95 412.5h1M96 404.5h1M96 411.5h1M99 402.5h1M100 408.5h1"/>
<path stroke="rgb(37,123,202)" stroke-opacity="0.88" d="M29 448.5h1M31 447.5h1M32 449.5h1M32 453.5h1M33 437.5h1M33 438.5h1M33 444.5h1M33 447.5h1M33 448.5h1M33 449.5h1M33 450.5h1M33 452.5h1M33 453.5h1M34 441.5h1M34 442.5h1M34 443.5h1M34 445.5h1M34 446.5h1M34 448.5h1M34 452.5h1M35 446.5h1M35 449.5h1M35 450.5h1M36 437.5h1M36 440.5h1M36 442.5h1M36 445.5h1M36 447.5h1M37 440.5h1M37 443.5h1M37 446.5h1M37 448.5h1M37 449.5h1M37 451.5h1M38 435.5h1M38 436.5h1M38 443.5h1M38 444.5h1M38 447.5h1M38 449.5h1M39 432.5h1M39 435.5h1M39 440.5h1M39 441.5h1M39 444.5h1M39 448.5h1M40 428.5h1M40 436.5h1M40 444.5h1M40 446.5h1M40 447.5h1M41 430.5h1M41 432.5h1M41 438.5h1M41 440.5h1M41 446.5h1M41 447.5h1M42 432.5h1M42 436.5h1M42 439.5h1M43 432.5h1M43 437.5h1M43 441.5h1M43 446.5h1M44 426.5h1M44 432.5h1M44 437.5h1M44 439.5h1M44 441.5h1M45 423.5h1M45 426.5h1M45 430.5h1M45 433.5h1M45 436.5h1M45 437.5h1M46 427.5h1M46 434.5h1M47 421.5h1M47 427.5h1M47 439.5h1M47 442.5h1M48 423.5h1M48 426.5h1M48 432.5h1M48 437.5h1M48 440.5h1M49 421.5h1M49 423.5h1M49 424.5h1M49 425.5h1M49 432.5h1M49 436.5h1M50 421.5h1M50 422.5h1M50 423.5h1M50 425.5h1M50 436.5h1M50 437.5h1M50 438.5h1M51 424.5h1M51 426.5h1M51 438.5h1M51 442.5h1M52 420.5h1M52 422.5h1M52 435.5h1M52 436.5h1M52 437.5h1M52 438.5h1M52 439.5h1M53 421.5h1M53 423.5h1M53 428.5h1M53 433.5h1M53 437.5h1M53 442.5h1M54 415.5h1M54 430.5h1M54 435.5h1M55 432.5h1M55 433.5h1M55 438.5h1M56 416.5h1M56 420.5h1M56 422.5h1M56 429.5h1M56 434.5h1M56 435.5h1M57 414.5h1M57 417.5h1M57 419.5h1M58 411.5h1M58 413.5h1M58 415.5h1M58 416.5h1M58 432.5h1M58 434.5h1M58 436.5h1M59 414.5h1M59 417.5h1M59 431.5h1M59 432.5h1M60 413.5h1M60 414.5h1M61 435.5h1M61 437.5h1M62 413.5h1M62 415.5h1M62 416.5h1M62 430.5h1M62 432.5h1M62 433.5h1M62 434.5h1M63 417.5h1M64 412.5h1M64 413.5h1M64 414.5h1M64 415.5h1M65 414.5h1M65 430.5h1M65 433.5h1M66 409.5h1M66 413.5h1M67 408.5h1M68 415.5h1M68 426.5h1M69 409.5h1M69 418.5h1M69 430.5h1M70 401.5h1M70 408.5h1M70 414.5h1M70 428.5h1M70 431.5h1M71 408.5h1M71 409.5h1M71 429.5h1M72 415.5h1M72 428.5h1M72 429.5h1M73 409.5h1M73 422.5h1M73 426.5h1M73 427.5h1M73 428.5h1M74 404.5h1M74 407.5h1M74 412.5h1M74 413.5h1M74 425.5h1M74 426.5h1M74 429.5h1M75 409.5h1M75 412.5h1M75 413.5h1M75 419.5h1M75 420.5h1M75 427.5h1M75 430.5h1M76 406.5h1M76 426.5h1M76 427.5h1M77 408.5h1M77 410.5h1M77 411.5h1M77 420.5h1M77 422.5h1M78 409.5h1M78 413.5h1M78 418.5h1M78 420.5h1M78 422.5h1M78 427.5h1M78 428.5h1M79 410.5h1M79 411.5h1M79 413.5h1M79 415.5h1M79 418.5h1M79 425.5h1M79 427.5h1M80 408.5h1M80 411.5h1M80 418.5h1M80 424.5h1M81 403.5h1M81 404.5h1M81 406.5h1M81 407.5h1M81 410.5h1M81 411.5h1M81 414.5h1M82 403.5h1M82 410.5h1M82 413.5h1M82 414.5h1M82 417.5h1M82 421.5h1M83 414.5h1M83 415.5h1M83 417.5h1M84 407.5h1M84 412.5h1M84 413.5h1M84 415.5h1M84 416.5h1M84 418.5h1M84 419.5h1M85 408.5h1M85 417.5h1M85 418.5h1M85 419.5h1M86 419.5h1M86 422.5h1M87 408.5h1M87 410.5h1M87 417.5h1M87 420.5h1M88 409.5h1M88 416.5h1M89 406.5h1M89 407.5h1M89 410.5h1M89 411.5h1M89 413.5h1M89 416.5h1M89 418.5h1M90 414.5h1M91 413.5h1M92 409.5h1M92 414.5h1M94 414.5h1M95 414.5h1M97 413.5h1M97 414.5h1"/>
<path stroke="rgb(35,150,200)" stroke-opacity="0.94" d="M31 451.5h1M32 448.5h1M32 450.5h1M32 454.5h1M34 449.5h1M34 454.5h1M35 443.5h1M35 444.5h1M35 448.5h1M36 444.5h1M36 448.5h1M36 451.5h1M37 441.5h1M37 445.5h1M38 433.5h1M38 446.5h1M39 446.5h1M40 430.5h1M40 431.5h1M40 449.5h1M41 434.5h1M41 442.5h1M41 445.5h1M42 430.5h1M42 434.5h1M42 445.5h1M43 436.5h1M44 431.5h1M44 436.5h1M44 444.5h1M45 427.5h1M45 428.5h1M45 431.5h1M45 432.5h1M45 434.5h1M45 435.5h1M45 438.5h1M45 440.5h1M46 426.5h1M46 428.5h1M46 429.5h1M46 432.5h1M46 439.5h1M46 441.5h1M47 423.5h1M47 436.5h1M47 440.5h1M48 433.5h1M48 435.5h1M49 422.5h1M49 427.5h1M49 430.5h1M49 431.5h1M49 434.5h1M49 437.5h1M49 440.5h1M50 430.5h1M50 432.5h1M51 422.5h1M51 425.5h1M51 436.5h1M51 439.5h1M52 418.5h1M52 423.5h1M52 425.5h1M52 430.5h1M52 432.5h1M53 430.5h1M53 431.5h1M54 416.5h1M54 421.5h1M54 434.5h1M54 438.5h1M55 420.5h1M55 423.5h1M55 434.5h1M55 437.5h1M56 418.5h1M56 419.5h1M56 432.5h1M57 415.5h1M57 418.5h1M57 430.5h1M58 418.5h1M58 420.5h1M59 419.5h1M59 420.5h1M59 426.5h1M59 436.5h1M60 419.5h1M60 420.5h1M60 432.5h1M60 433.5h1M61 413.5h1M61 418.5h1M61 426.5h1M62 421.5h1M63 416.5h1M63 420.5h1M63 431.5h1M63 432.5h1M64 418.5h1M64 427.5h1M64 428.5h1M64 433.5h1M65 416.5h1M65 422.5h1M65 427.5h1M65 429.5h1M66 431.5h1M67 413.5h1M67 420.5h1M67 421.5h1M67 423.5h1M67 424.5h1M67 425.5h1M67 431.5h1M69 424.5h1M69 428.5h1M69 429.5h1M69 432.5h1M70 411.5h1M70 415.5h1M70 426.5h1M71 410.5h1M71 412.5h1M71 417.5h1M72 414.5h1M72 416.5h1M72 418.5h1M72 419.5h1M72 421.5h1M72 422.5h1M72 425.5h1M72 427.5h1M73 410.5h1M73 411.5h1M73 412.5h1M73 414.5h1M73 419.5h1M73 421.5h1M73 423.5h1M73 430.5h1M74 411.5h1M74 415.5h1M74 421.5h1M74 427.5h1M74 430.5h1M75 411.5h1M75 415.5h1M75 421.5h1M75 425.5h1M75 429.5h1M76 407.5h1M76 411.5h1M76 421.5h1M76 425.5h1M77 415.5h1M77 417.5h1M77 423.5h1M77 426.5h1M79 409.5h1M79 416.5h1M79 417.5h1M79 420.5h1M80 416.5h1M80 419.5h1M80 420.5h1M80 422.5h1M80 423.5h1M81 405.5h1M81 415.5h1M81 416.5h1M81 419.5h1M81 420.5h1M81 422.5h1M82 411.5h1M82 416.5h1M82 420.5h1M83 407.5h1M83 408.5h1M83 416.5h1M83 418.5h1M83 420.5h1M83 423.5h1M85 400.5h1M85 412.5h1M85 415.5h1M86 409.5h1M86 416.5h1M86 417.5h1M86 418.5h1M87 416.5h1M87 418.5h1M88 410.5h1M88 419.5h1M89 409.5h1M93 414.5h1"/>
<path stroke="rgb(41,169,180)" stroke-opacity="1.00" d="M28 452.5h1M31 448.5h1M31 450.5h1M31 457.5h1M33 454.5h1M37 429.5h1M38 440.5h1M38 442.5h1M38 445.5h1M39 436.5h1M39 439.5h1M39 443.5h1M39 445.5h1M41 431.5h1M41 444.5h1M42 433.5h1M43 429.5h1M43 438.5h1M43 439.5h1M44 434.5h1M44 435.5h1M44 438.5h1M45 441.5h1M46 430.5h1M46 437.5h1M47 429.5h1M47 432.5h1M47 433.5h1M47 438.5h1M48 430.5h1M49 426.5h1M49 428.5h1M49 429.5h1M49 435.5h1M50 424.5h1M50 427.5h1M50 431.5h1M50 434.5h1M50 442.5h1M51 420.5h1M51 433.5h1M52 427.5h1M53 422.5h1M53 427.5h1M53 432.5h1M53 436.5h1M54 423.5h1M54 429.5h1M54 432.5h1M54 437.5h1M55 421.5h1M55 422.5h1M55 424.5h1M55 427.5h1M56 421.5h1M56 424.5h1M56 431.5h1M57 422.5h1M57 428.5h1M57 432.5h1M57 433.5h1M57 434.5h1M59 421.5h1M59 423.5h1M59 430.5h1M59 433.5h1M60 421.5h1M60 431.5h1M61 415.5h1M61 421.5h1M61 422.5h1M61 428.5h1M61 432.5h1M62 417.5h1M62 427.5h1M62 435.5h1M63 415.5h1M63 418.5h1M63 419.5h1M63 421.5h1M63 423.5h1M65 415.5h1M66 416.5h1M66 420.5h1M66 425.5h1M66 428.5h1M66 429.5h1M66 430.5h1M67 414.5h1M67 416.5h1M67 417.5h1M68 412.5h1M68 414.5h1M68 417.5h1M68 418.5h1M69 414.5h1M69 419.5h1M70 412.5h1M70 424.5h1M70 429.5h1M71 424.5h1M71 428.5h1M72 408.5h1M72 410.5h1M72 411.5h1M72 423.5h1M73 416.5h1M73 429.5h1M74 417.5h1M74 424.5h1M74 428.5h1M75 416.5h1M75 418.5h1M75 424.5h1M76 414.5h1M76 415.5h1M76 417.5h1M76 418.5h1M76 420.5h1M77 414.5h1M77 421.5h1M78 416.5h1M78 417.5h1M78 423.5h1M78 425.5h1M78 426.5h1M79 414.5h1M79 419.5h1M79 421.5h1M79 423.5h1M79 426.5h1M80 410.5h1M80 414.5h1M80 415.5h1M80 417.5h1M80 425.5h1M82 415.5h1M82 426.5h1M84 417.5h1M86 413.5h1M91 410.5h1"/>
<path stroke="rgb(54,178,139)" stroke-opacity="1.00" d="M30 451.5h1M36 449.5h1M37 447.5h1M39 431.5h1M42 437.5h1M42 438.5h1M44 427.5h1M44 430.5h1M44 433.5h1M44 440.5h1M49 433.5h1M50 426.5h1M50 429.5h1M50 433.5h1M51 428.5h1M51 435.5h1M52 424.5h1M53 419.5h1M53 425.5h1M53 435.5h1M54 422.5h1M54 427.5h1M54 428.5h1M54 433.5h1M55 431.5h1M56 426.5h1M56 428.5h1M56 430.5h1M56 433.5h1M57 423.5h1M57 431.5h1M58 431.5h1M58 435.5h1M60 412.5h1M60 425.5h1M60 429.5h1M61 420.5h1M61 429.5h1M61 434.5h1M62 419.5h1M62 425.5h1M63 422.5h1M63 426.5h1M63 428.5h1M63 430.5h1M64 417.5h1M64 420.5h1M64 426.5h1M64 429.5h1M65 421.5h1M66 412.5h1M66 419.5h1M67 418.5h1M67 427.5h1M67 428.5h1M68 424.5h1M68 428.5h1M68 429.5h1M69 416.5h1M69 417.5h1M69 422.5h1M69 426.5h1M70 423.5h1M71 413.5h1M71 414.5h1M71 416.5h1M71 427.5h1M72 413.5h1M72 420.5h1M73 413.5h1M73 417.5h1M74 416.5h1M74 420.5h1M75 422.5h1M75 426.5h1M76 419.5h1M77 412.5h1M77 418.5h1M78 419.5h1M80 421.5h1M81 413.5h1M81 423.5h1M83 411.5h1M84 414.5h1M89 412.5h1"/>
<path stroke="rgb(67,188,98)" stroke-opacity="1.00" d="M27 453.5h1M29 452.5h1M31 452.5h1M31 453.5h1M31 454.5h1M31 455.5h1M41 437.5h1M43 431.5h1M43 440.5h1M46 436.5h1M47 435.5h1M48 429.5h1M48 431.5h1M51 423.5h1M52 428.5h1M52 433.5h1M54 426.5h1M55 425.5h1M55 426.5h1M55 429.5h1M55 436.5h1M56 423.5h1M56 425.5h1M56 427.5h1M57 435.5h1M58 419.5h1M58 421.5h1M58 422.5h1M58 423.5h1M58 426.5h1M58 429.5h1M58 430.5h1M59 424.5h1M59 428.5h1M60 428.5h1M61 424.5h1M61 425.5h1M61 427.5h1M62 420.5h1M62 422.5h1M62 426.5h1M64 416.5h1M64 423.5h1M64 425.5h1M65 419.5h1M65 424.5h1M65 426.5h1M65 428.5h1M67 415.5h1M68 416.5h1M68 419.5h1M68 421.5h1M69 420.5h1M69 423.5h1M70 417.5h1M70 418.5h1M70 420.5h1M70 422.5h1M70 427.5h1M71 419.5h1M71 420.5h1M71 421.5h1M71 426.5h1M73 415.5h1M73 418.5h1M74 418.5h1M75 417.5h1M75 423.5h1M77 413.5h1M77 424.5h1M78 421.5h1M79 424.5h1M81 412.5h1M81 417.5h1"/>
<path stroke="rgb(113,198,73)" stroke-opacity="1.00" d="M29 457.5h1M29 458.5h1M30 458.5h1M37 442.5h1M40 437.5h1M43 434.5h1M46 431.5h1M46 433.5h1M47 428.5h1M47 434.5h1M51 427.5h1M51 429.5h1M51 434.5h1M52 429.5h1M52 431.5h1M57 421.5h1M57 424.5h1M57 426.5h1M57 429.5h1M58 424.5h1M59 427.5h1M60 422.5h1M61 423.5h1M61 430.5h1M62 418.5h1M62 423.5h1M62 428.5h1M62 429.5h1M62 431.5h1M63 424.5h1M63 425.5h1M64 421.5h1M64 424.5h1M64 430.5h1M64 431.5h1M65 417.5h1M66 414.5h1M66 422.5h1M66 423.5h1M66 426.5h1M67 419.5h1M67 426.5h1M68 422.5h1M68 423.5h1M68 425.5h1M69 427.5h1M70 419.5h1M70 425.5h1M71 418.5h1M71 422.5h1M71 425.5h1M72 417.5h1M72 426.5h1M73 420.5h1M74 414.5h1M77 419.5h1M81 421.5h1M82 418.5h1M82 419.5h1M83 413.5h1"/>
<path stroke="rgb(168,208,52)" stroke-opacity="1.00" d="M44 429.5h1M47 431.5h1M48 428.5h1M48 434.5h1M51 430.5h1M53 426.5h1M53 434.5h1M54 424.5h1M58 427.5h1M59 425.5h1M63 429.5h1M65 418.5h1M65 420.5h1M66 415.5h1M66 424.5h1M67 429.5h1M68 427.5h1M68 430.5h1M69 415.5h1M69 421.5h1M70 421.5h1M72 424.5h1M74 419.5h1M75 414.5h1M78 414.5h1M80 413.5h1"/>
<path stroke="rgb(211,204,37)" stroke-opacity="1.00" d="M27 454.5h1M28 453.5h1M29 453.5h1M30 452.5h1M30 453.5h1M50 428.5h1M51 432.5h1M53 429.5h1M57 425.5h1M58 425.5h1M59 429.5h1M60 423.5h1M60 427.5h1M61 431.5h1M63 427.5h1M64 422.5h1M66 418.5h1M67 422.5h1M70 416.5h1M76 413.5h1M76 416.5h1M81 418.5h1"/>
<path stroke="rgb(239,179,32)" stroke-opacity="1.00" d="M27 457.5h1M27 458.5h1M48 427.5h1M54 431.5h1M55 428.5h1M60 430.5h1M62 424.5h1M64 419.5h1M68 420.5h1M74 423.5h1M77 416.5h1"/>
<path stroke="rgb(245,132,30)" stroke-opacity="1.00" d="M47 430.5h1M48 436.5h1M51 431.5h1M52 426.5h1M54 425.5h1M55 430.5h1M57 427.5h1M58 428.5h1M59 422.5h1M60 424.5h1M60 426.5h1M65 423.5h1M65 425.5h1M66 421.5h1M66 427.5h1M69 425.5h1M71 423.5h1M73 425.5h1M74 422.5h1M78 415.5h1"/>
<path stroke="rgb(238,70,30)" stroke-opacity="1.00" d="M26 454.5h1M26 455.5h1M26 456.5h1M26 457.5h1M27 455.5h1M27 456.5h1M28 454.5h1M28 455.5h1M28 456.5h1M28 457.5h1M28 458.5h1M29 454.5h1M29 455.5h1M29 456.5h1M30 454.5h1M30 455.5h1M30 456.5h1M30 457.5h1"/>
</g>
<rect x="26.1" y="345.6" width="113.2" height="113.7" fill="none" stroke="#999" stroke-width=".5"/>
<path d="M26.1 345.6V459.3H139.3" fill="none" stroke="#555" stroke-width=".6"/>
<path d="M26.1 453.5h-1.6M26.1 448.8h-1.6M26.1 444.1h-1.6M26.1 439.4h-3M26.1 434.7h-1.6M26.1 430h-1.6M26.1 425.3h-1.6M26.1 420.5h-3M26.1 415.8h-1.6M26.1 411.1h-1.6M26.1 406.4h-1.6M26.1 401.7h-3M26.1 397h-1.6M26.1 392.3h-1.6M26.1 387.6h-1.6M26.1 382.8h-3M26.1 378.1h-1.6M26.1 373.4h-1.6M26.1 368.7h-1.6M26.1 364h-3M26.1 359.3h-1.6M26.1 354.6h-1.6M26.1 349.9h-1.6M31.5 459.3v1.6M38.2 459.3v1.6M45 459.3v1.6M51.7 459.3v3M58.4 459.3v1.6M65.1 459.3v1.6M71.9 459.3v1.6M78.6 459.3v3M85.3 459.3v1.6M92 459.3v1.6M98.8 459.3v1.6M105.5 459.3v3M112.2 459.3v1.6M118.9 459.3v1.6M125.7 459.3v1.6M132.4 459.3v3M139.1 459.3v1.6" stroke="#111" stroke-width=".7" fill="none"/>
<text x="19.5" y="440.9" font-size="4.1" text-anchor="end" fill="#222" stroke="#222" stroke-width=".13">1.0M</text>
<text x="19.5" y="422" font-size="4.1" text-anchor="end" fill="#222" stroke="#222" stroke-width=".13">2.0M</text>
<text x="19.5" y="403.2" font-size="4.1" text-anchor="end" fill="#222" stroke="#222" stroke-width=".13">3.0M</text>
<text x="19.5" y="384.3" font-size="4.1" text-anchor="end" fill="#222" stroke="#222" stroke-width=".13">4.0M</text>
<text x="19.5" y="365.5" font-size="4.1" text-anchor="end" fill="#222" stroke="#222" stroke-width=".13">5.0M</text>
<text x="51.7" y="467.2" font-size="4.1" text-anchor="middle" fill="#222" stroke="#222" stroke-width=".13">2.0M</text>
<text x="78.7" y="467.2" font-size="4.1" text-anchor="middle" fill="#222" stroke="#222" stroke-width=".13">4.0M</text>
<text x="105.6" y="467.2" font-size="4.1" text-anchor="middle" fill="#222" stroke="#222" stroke-width=".13">6.0M</text>
<text x="132.6" y="467.2" font-size="4.1" text-anchor="middle" fill="#222" stroke="#222" stroke-width=".13">8.0M</text>
<text x="82" y="476.4" font-size="4.6" text-anchor="middle" fill="#222" stroke="#222" stroke-width=".13">FSC-H</text>
<text transform="translate(3.6 402) rotate(-90)" font-size="4.6" text-anchor="middle" fill="#222">SSC-H</text>
<polygon points="62.2,426.4 69.2,412.7 91.3,407.3 93.8,418.7 85.3,431.4 63.9,436.9" fill="none" stroke="#000" stroke-width="1"/>
<text x="109" y="434.3" font-size="5" text-anchor="middle" fill="#111" stroke="#111" stroke-width=".13">LLC-MK2</text>
<text x="109" y="440.4" font-size="5" text-anchor="middle" fill="#111" stroke="#111" stroke-width=".13">33.6</text>
<rect x="170.9" y="345" width="113.1" height="113.6" fill="#fff" stroke="#999" stroke-width=".5"/>
<path d="M200 457.8L200 457.8L200.8 457.8L201.6 457.8L202.4 457.8L203.2 457.8L204 457.8L204.8 457.8L205.6 457.8L206.4 457.8L207.2 457.8L208 457.8L208.8 457.8L209.6 457.5L210.4 457.2L211.2 456.8L212 456.8L212.8 456.0L213.6 456.1L214.4 455.4L215.2 455.3L216 454.5L216.8 453.9L217.6 452.9L218.4 452.8L219.2 451.6L220 451.6L220.8 447.6L221.6 447.2L222.4 443.6L223.2 442.0L224 438.7L224.8 437.7L225.6 433.1L226.4 435.3L227.2 425.6L228 426.2L228.8 419.4L229.6 425.2L230.4 416.1L231.2 422.8L232 413.0L232.8 419.9L233.6 413.5L234.4 420.0L235.2 408.8L236 413.6L236.8 407.4L237.6 412.6L238.4 401.0L239.2 402.4L240 387.4L240.8 385.8L241.6 366.9L242.4 367.0L243.2 352.8L244 357.2L244.8 349.5L245.6 357.4L246.4 358.1L247.2 370.0L248 377.3L248.8 392.5L249.6 404.8L250.4 418.2L251.2 427.5L252 438.6L252.8 444.8L253.6 452.3L254.4 457.8L255.2 457.8L256 457.8L256.8 457.8L256.8 457.8Z" fill="#ead9df" stroke="#000" stroke-width=".9" stroke-linejoin="round"/>
<path d="M173.9 457.8L175 457.8L176.3 457.8L177.2 457.8L178.3 457.0L179.5 457.8L180.9 457.6L182.4 457.8L183.8 457.8L185 457.8L185.9 457.3L186.6 457.8L188 457.8L188.8 457.2L189.8 457.6L190.5 457.8L191.3 457.7L191.9 456.9L192.6 457.6L193.2 457.8L194.6 457.8L195.4 457.7L196.4 457.8L198 457.8L198.6 457.8L199.8 457.6L200.5 457.8L201.1 457.8L202.5 457.6L204 457.6L205.5 457.7L206.6 457.8L207.8 457.8L208.5 457.8L210 457.8L211.2 457.8L212.3 457.8L213.9 457.8L215.1 457.8L215.7 457.8L216.4 457.8L217 457.8L217.7 457.7L218.9 456.7L220.4 456.6L221.2 457.8L222.1 457.7L223.3 457.5L224.6 457.8L225.6 457.8L226.2 457.8L227.2 457.8L228.6 457.8L229.3 457.8L230.1 457.8L231.2 457.8L232.1 457.7L232.9 457.1L234.5 457.6L235.5 457.8L236.7 457.8L237.7 457.8L238.5 457.8L239.9 457.8L241 457.1L242.2 457.8L243.8 457.8L244.5 457.7L245.2 457.8L246.6 457.7L247.2 457.8L248.2 457.8L249 457.8L249.7 457.8L250.7 457.0L251.3 457.6L252.1 457.8L253.1 457.8L254.5 457.8L255.2 457.8L255.9 457.3L257.1 456.9L258.4 457.8L259.7 457.5L261 457.8L262 457.8L263.4 457.8L264.5 457.8L266 457.5L267.6 457.4L268.5 457.8L269.6 457.8L270.6 457.7L272.1 457.8L273.5 457.8L274.5 456.6L275.2 457.8L275.9 457.8L277.4 456.7L278.6 457.8L279.5 457.8L280.8 457.7L281.8 457.8L282.6 457.8" fill="none" stroke="#000" stroke-width=".6"/>
<path d="M170.9 345V458.6" fill="none" stroke="#222" stroke-width=".8"/>
<path d="M170.5 458.6H284" fill="none" stroke="#000" stroke-width="1.1"/>
<path d="M170.9 458.2h-3M170.9 453.1h-1.5M170.9 448h-1.5M170.9 442.9h-1.5M170.9 437.8h-1.5M170.9 432.7h-3M170.9 427.6h-1.5M170.9 422.5h-1.5M170.9 417.4h-1.5M170.9 412.3h-1.5M170.9 407.2h-3M170.9 402.1h-1.5M170.9 397h-1.5M170.9 391.9h-1.5M170.9 386.8h-1.5M170.9 381.7h-3M170.9 376.6h-1.5M170.9 371.5h-1.5M170.9 366.4h-1.5M170.9 361.3h-1.5M170.9 356.2h-3M170.9 351.1h-1.5M170.9 346h-1.5M185.2 458.6v3M214.5 458.6v3M248.9 458.6v3M280.5 458.6v3M224.9 458.6v1.4M230.9 458.6v1.4M235.2 458.6v1.4M238.5 458.6v1.4M241.3 458.6v1.4M243.6 458.6v1.4M245.6 458.6v1.4M247.3 458.6v1.4M258.4 458.6v1.4M264 458.6v1.4M267.9 458.6v1.4M271 458.6v1.4M273.5 458.6v1.4M275.6 458.6v1.4M277.4 458.6v1.4M279.1 458.6v1.4M203.2 458.6v1.4M206.1 458.6v1.4M208.1 458.6v1.4M209.6 458.6v1.4M210.9 458.6v1.4M212 458.6v1.4M212.9 458.6v1.4M213.8 458.6v1.4M183.5 458.6v1.4M181.8 458.6v1.4M180.1 458.6v1.4M178.4 458.6v1.4M176.7 458.6v1.4M175 458.6v1.4M173.3 458.6v1.4" stroke="#000" stroke-width=".75" fill="none"/>
<rect x="182" y="458.6" width="3" height="2.2" fill="#000"/>
<text x="164.7" y="459.7" font-size="4" text-anchor="end" fill="#222" stroke="#222" stroke-width=".13">0</text>
<text x="164.7" y="434.2" font-size="4" text-anchor="end" fill="#222" stroke="#222" stroke-width=".13">50</text>
<text x="164.7" y="408.7" font-size="4" text-anchor="end" fill="#222" stroke="#222" stroke-width=".13">100</text>
<text x="164.7" y="383.2" font-size="4" text-anchor="end" fill="#222" stroke="#222" stroke-width=".13">150</text>
<text x="164.7" y="357.7" font-size="4" text-anchor="end" fill="#222" stroke="#222" stroke-width=".13">200</text>
<text x="185.2" y="468.9" font-size="4.4" text-anchor="middle" fill="#222" stroke="#222" stroke-width=".13">0</text>
<text x="214.2" y="469.4" font-size="4.4" text-anchor="middle" fill="#222" stroke="#222" stroke-width=".12">10<tspan font-size="3.3" dy="-2.1">4</tspan></text>
<text x="248.6" y="469.4" font-size="4.4" text-anchor="middle" fill="#222" stroke="#222" stroke-width=".12">10<tspan font-size="3.3" dy="-2.1">5</tspan></text>
<text x="280.2" y="469.4" font-size="4.4" text-anchor="middle" fill="#222" stroke="#222" stroke-width=".12">10<tspan font-size="3.3" dy="-2.1">6</tspan></text>
<text x="225.5" y="478" font-size="5" text-anchor="middle" fill="#222" stroke="#222" stroke-width=".13">Y586-H :: PE-H</text>
<text transform="translate(150.4 405.3) rotate(-90)" font-size="4.6" text-anchor="middle" fill="#222">Count</text>
<path d="M170.9 444.4H229.7M229.7 442.6v3.6M229.7 450.2H284M229.7 448.4v3.6M283.6 448.4v3.6" fill="none" stroke="#111" stroke-width=".8"/>
<text x="203.2" y="406.8" font-size="5" text-anchor="middle" fill="#111" stroke="#111" stroke-width=".13">Negative</text>
<text x="203.2" y="412.6" font-size="5" text-anchor="middle" fill="#111" stroke="#111" stroke-width=".13">13.1</text>
<text x="264.1" y="406.8" font-size="5" text-anchor="middle" fill="#111" stroke="#111" stroke-width=".13">Positive</text>
<text x="264.1" y="412.6" font-size="5" text-anchor="middle" fill="#111" stroke="#111" stroke-width=".13">86.9</text>
<text x="230.2" y="340.4" font-size="9.7" font-weight="bold" text-anchor="middle" fill="#111">PIV3HN-05</text>
<rect x="301.1" y="344.6" width="115.4" height="114" fill="#fff" stroke="#999" stroke-width=".5"/>
<path d="M330.5 457.8L330.5 457.8L331.3 457.8L332.1 457.8L332.9 457.8L333.7 457.8L334.5 457.8L335.3 457.8L336.1 457.8L336.9 457.8L337.7 457.8L338.5 457.7L339.3 457.6L340.1 457.4L340.9 457.3L341.7 457.2L342.5 457.2L343.3 456.8L344.1 456.7L344.9 455.9L345.7 455.8L346.5 455.2L347.3 455.3L348.1 454.2L348.9 454.7L349.7 453.2L350.5 453.2L351.3 451.2L352.1 451.3L352.9 448.5L353.7 448.1L354.5 445.7L355.3 444.0L356.1 438.8L356.9 440.9L357.7 434.1L358.5 434.5L359.3 427.6L360.1 430.6L360.9 421.4L361.7 425.2L362.5 415.6L363.3 424.5L364.1 422.2L364.9 425.1L365.7 420.8L366.5 421.4L367.3 413.2L368.1 414.6L368.9 411.2L369.7 412.1L370.5 402.3L371.3 400.0L372.1 386.2L372.9 382.6L373.7 363.4L374.5 361.9L375.3 350.9L376.1 353.0L376.9 350.6L377.7 359.3L378.5 363.9L379.3 376.3L380.1 387.0L380.9 401.2L381.7 410.1L382.5 423.1L383.3 433.4L384.1 442.4L384.9 450.8L385.7 454.5L386.5 457.8L387.3 457.8L388.1 457.8L388.9 457.8L388.9 457.8Z" fill="#8fb3a0" stroke="#000" stroke-width=".9" stroke-linejoin="round"/>
<path d="M304.1 457.8L304.7 457.7L306.2 456.9L307.6 456.9L308.2 457.8L309.8 457.5L310.8 457.0L312 457.4L312.9 457.8L313.9 457.8L314.9 456.8L315.8 457.8L316.5 457.8L317.9 457.8L318.8 457.8L320.3 457.8L321.1 457.8L321.8 457.8L323.1 457.8L323.7 457.8L324.6 456.6L325.3 457.8L326.7 457.8L328.3 457.8L329.1 457.8L329.7 457.8L330.6 457.2L332 457.8L332.6 457.8L333.5 457.8L334.3 457.3L335.1 457.8L336.6 457.8L338.2 457.8L339.7 457.7L341.1 457.6L342.2 457.8L343 457.3L344.5 457.1L345.4 457.7L346.8 457.7L348.2 457.8L349.5 457.7L350.3 457.1L351.9 457.8L353.5 456.9L354.7 457.8L356.2 457.8L357.8 457.7L358.5 457.8L359.7 457.8L361.1 457.0L361.9 457.8L363.4 457.8L364.9 457.8L366.3 457.5L367.8 457.8L369.2 457.8L370.5 457.8L372 457.5L373.1 457.8L373.7 457.8L374.9 457.8L376.4 457.7L377.1 457.8L378.5 457.8L379.1 457.4L380.5 457.8L381.6 457.8L383 457.8L383.9 457.8L385.4 457.8L386.1 457.7L387.6 457.8L388.7 457.3L390 457.8L391.5 457.8L392.4 457.4L393.4 457.5L394.2 457.3L395 457.8L396.1 457.8L397.2 457.1L398.5 457.8L399.5 457.8L400.5 457.6L401.6 457.8L402.5 457.4L403.4 457.6L405 457.7L406.3 457.7L407.2 457.1L408.3 457.1L409.2 457.3L410.6 457.7L411.6 457.8L413 457.8L414.2 457.8L414.9 457.8" fill="none" stroke="#000" stroke-width=".6"/>
<path d="M301.1 344.6V458.6" fill="none" stroke="#222" stroke-width=".8"/>
<path d="M300.7 458.6H416.5" fill="none" stroke="#000" stroke-width="1.1"/>
<path d="M301.1 458.4h-3M301.1 453.2h-1.5M301.1 448h-1.5M301.1 442.8h-1.5M301.1 437.6h-1.5M301.1 432.3h-3M301.1 427.1h-1.5M301.1 421.9h-1.5M301.1 416.7h-1.5M301.1 411.5h-1.5M301.1 406.3h-3M301.1 401.1h-1.5M301.1 395.9h-1.5M301.1 390.7h-1.5M301.1 385.5h-1.5M301.1 380.2h-3M301.1 375h-1.5M301.1 369.8h-1.5M301.1 364.6h-1.5M301.1 359.4h-1.5M301.1 354.2h-3M301.1 349h-1.5M315.6 458.6v3M346.7 458.6v3M380.7 458.6v3M412.8 458.6v3M356.9 458.6v1.4M362.9 458.6v1.4M367.2 458.6v1.4M370.5 458.6v1.4M373.2 458.6v1.4M375.4 458.6v1.4M377.4 458.6v1.4M379.1 458.6v1.4M390.4 458.6v1.4M396 458.6v1.4M400 458.6v1.4M403.1 458.6v1.4M405.7 458.6v1.4M407.8 458.6v1.4M409.7 458.6v1.4M411.3 458.6v1.4M334.7 458.6v1.4M337.8 458.6v1.4M339.9 458.6v1.4M341.6 458.6v1.4M342.9 458.6v1.4M344.1 458.6v1.4M345 458.6v1.4M345.9 458.6v1.4M313.9 458.6v1.4M312.2 458.6v1.4M310.5 458.6v1.4M308.8 458.6v1.4M307.1 458.6v1.4M305.4 458.6v1.4M303.7 458.6v1.4" stroke="#000" stroke-width=".75" fill="none"/>
<rect x="312.4" y="458.6" width="3" height="2.2" fill="#000"/>
<text x="294.9" y="459.9" font-size="4" text-anchor="end" fill="#222" stroke="#222" stroke-width=".13">0</text>
<text x="294.9" y="433.8" font-size="4" text-anchor="end" fill="#222" stroke="#222" stroke-width=".13">50</text>
<text x="294.9" y="407.8" font-size="4" text-anchor="end" fill="#222" stroke="#222" stroke-width=".13">100</text>
<text x="294.9" y="381.8" font-size="4" text-anchor="end" fill="#222" stroke="#222" stroke-width=".13">150</text>
<text x="294.9" y="355.7" font-size="4" text-anchor="end" fill="#222" stroke="#222" stroke-width=".13">200</text>
<text x="315.6" y="468.9" font-size="4.4" text-anchor="middle" fill="#222" stroke="#222" stroke-width=".13">0</text>
<text x="346.4" y="469.4" font-size="4.4" text-anchor="middle" fill="#222" stroke="#222" stroke-width=".12">10<tspan font-size="3.3" dy="-2.1">4</tspan></text>
<text x="380.4" y="469.4" font-size="4.4" text-anchor="middle" fill="#222" stroke="#222" stroke-width=".12">10<tspan font-size="3.3" dy="-2.1">5</tspan></text>
<text x="412.5" y="469.4" font-size="4.4" text-anchor="middle" fill="#222" stroke="#222" stroke-width=".12">10<tspan font-size="3.3" dy="-2.1">6</tspan></text>
<text x="357.3" y="478.8" font-size="5" text-anchor="middle" fill="#222" stroke="#222" stroke-width=".13">Y586-H :: PE-H</text>
<path d="M301.1 445.3H360.8M360.8 443.5v3.6M360.8 451.1H416.5M360.8 449.3v3.6M416.1 449.3v3.6" fill="none" stroke="#111" stroke-width=".8"/>
<text x="336.2" y="418.6" font-size="5" text-anchor="middle" fill="#111" stroke="#111" stroke-width=".13">Negative</text>
<text x="336.2" y="424.4" font-size="5" text-anchor="middle" fill="#111" stroke="#111" stroke-width=".13">9.68</text>
<text x="399.4" y="419.6" font-size="5" text-anchor="middle" fill="#111" stroke="#111" stroke-width=".13">Positive</text>
<text x="399.4" y="425.4" font-size="5" text-anchor="middle" fill="#111" stroke="#111" stroke-width=".13">90.3</text>
<text x="360.1" y="340.4" font-size="9.7" font-weight="bold" text-anchor="middle" fill="#111">PIV3HN-09</text>
<rect x="435.8" y="344.6" width="114.2" height="114" fill="#fff" stroke="#999" stroke-width=".5"/>
<path d="M460.5 457.8L460.5 457.8L461.3 457.8L462.1 457.8L462.9 457.8L463.7 457.8L464.5 457.8L465.3 457.8L466.1 457.8L466.9 457.8L467.7 457.8L468.5 457.8L469.3 457.8L470.1 457.8L470.9 457.6L471.7 457.3L472.5 457.3L473.3 456.9L474.1 456.9L474.9 456.4L475.7 456.4L476.5 455.9L477.3 456.2L478.1 455.3L478.9 455.0L479.7 453.9L480.5 453.8L481.3 451.7L482.1 452.1L482.9 450.2L483.7 448.5L484.5 444.9L485.3 444.6L486.1 439.5L486.9 440.3L487.7 434.7L488.5 434.5L489.3 427.5L490.1 429.7L490.9 418.0L491.7 421.5L492.5 412.4L493.3 417.9L494.1 410.0L494.9 422.2L495.7 420.1L496.5 418.7L497.3 410.2L498.1 410.4L498.9 398.1L499.7 395.2L500.5 381.2L501.3 381.4L502.1 368.2L502.9 365.4L503.7 353.1L504.5 350.9L505.3 351.0L506.1 358.1L506.9 360.1L507.7 363.5L508.5 367.9L509.3 378.6L510.1 387.6L510.9 400.1L511.7 410.4L512.5 422.3L513.3 430.1L514.1 440.8L514.9 446.4L515.7 452.2L516.5 457.5L517.3 457.8L518.1 457.8L518.9 457.8L518.9 457.8Z" fill="#e1e2e3" stroke="#000" stroke-width=".9" stroke-linejoin="round"/>
<path d="M438.8 457.8L440.1 457.8L441.7 457.8L443.3 457.2L444.6 457.2L445.6 457.4L447 457.8L448.1 457.7L449.1 457.8L450.4 457.8L451.5 457.5L452.3 457.8L453 457.7L454 457.8L455 457.0L455.9 457.8L457.4 457.7L458.2 457.8L459.3 457.8L460.3 457.8L461.7 457.8L463 456.8L464.5 457.8L465.7 457.8L466.7 457.8L468.1 457.0L469 457.8L470 457.8L470.7 457.5L471.4 457.6L472.3 457.0L473.8 457.8L474.6 456.9L475.8 457.8L477.2 457.5L478.3 457.8L479 457.8L479.7 457.7L480.9 457.8L482.1 457.8L482.8 457.7L483.9 457.2L485.1 457.7L485.9 457.4L486.5 457.7L488.1 457.1L489.6 457.8L490.8 457.5L491.6 457.0L493.1 457.8L494.5 457.8L495.3 457.6L496 457.5L497.6 457.8L499.1 457.8L500.6 457.8L502.2 457.8L503.7 457.8L504.4 457.4L505.6 457.8L506.2 457.8L507.2 457.8L508.8 457.6L510.3 457.7L511.3 457.8L512.6 457.8L513.8 457.8L514.9 457.8L515.5 457.8L516.2 457.8L516.9 457.8L517.7 457.8L518.7 457.8L519.5 457.8L521 457.8L521.8 457.8L522.6 457.8L524 457.8L524.8 457.8L525.7 457.8L526.7 456.6L527.9 457.7L529.2 457.7L530.6 457.8L531.9 456.8L532.6 457.7L533.6 457.8L534.3 457.6L535 457.6L535.7 457.8L536.3 457.8L537.7 457.8L538.9 457.1L539.8 457.8L541.1 457.3L541.9 457.7L542.6 457.8L544.2 457.8L545.7 457.6L547 457.6L548.2 457.8" fill="none" stroke="#000" stroke-width=".6"/>
<path d="M435.8 344.6V458.6" fill="none" stroke="#222" stroke-width=".8"/>
<path d="M435.4 458.6H550" fill="none" stroke="#000" stroke-width="1.1"/>
<path d="M435.8 457.9h-3M435.8 451.9h-1.5M435.8 445.9h-1.5M435.8 439.9h-1.5M435.8 433.9h-1.5M435.8 427.9h-3M435.8 421.9h-1.5M435.8 415.9h-1.5M435.8 409.9h-1.5M435.8 403.9h-1.5M435.8 397.9h-3M435.8 391.9h-1.5M435.8 385.9h-1.5M435.8 379.9h-1.5M435.8 373.9h-1.5M435.8 367.9h-3M435.8 361.9h-1.5M435.8 355.9h-1.5M435.8 349.9h-1.5M450.5 458.6v3M480.7 458.6v3M514.7 458.6v3M546.5 458.6v3M490.9 458.6v1.4M496.9 458.6v1.4M501.2 458.6v1.4M504.5 458.6v1.4M507.2 458.6v1.4M509.4 458.6v1.4M511.4 458.6v1.4M513.1 458.6v1.4M524.3 458.6v1.4M529.9 458.6v1.4M533.8 458.6v1.4M536.9 458.6v1.4M539.4 458.6v1.4M541.6 458.6v1.4M543.4 458.6v1.4M545 458.6v1.4M469.1 458.6v1.4M472 458.6v1.4M474.1 458.6v1.4M475.7 458.6v1.4M477 458.6v1.4M478.1 458.6v1.4M479.1 458.6v1.4M479.9 458.6v1.4M448.8 458.6v1.4M447.1 458.6v1.4M445.4 458.6v1.4M443.7 458.6v1.4M442 458.6v1.4M440.3 458.6v1.4M438.6 458.6v1.4" stroke="#000" stroke-width=".75" fill="none"/>
<rect x="447.3" y="458.6" width="3" height="2.2" fill="#000"/>
<text x="429.6" y="459.4" font-size="4" text-anchor="end" fill="#222" stroke="#222" stroke-width=".13">0</text>
<text x="429.6" y="429.4" font-size="4" text-anchor="end" fill="#222" stroke="#222" stroke-width=".13">50</text>
<text x="429.6" y="399.4" font-size="4" text-anchor="end" fill="#222" stroke="#222" stroke-width=".13">100</text>
<text x="429.6" y="369.4" font-size="4" text-anchor="end" fill="#222" stroke="#222" stroke-width=".13">150</text>
<text x="450.5" y="468.9" font-size="4.4" text-anchor="middle" fill="#222" stroke="#222" stroke-width=".13">0</text>
<text x="480.4" y="469.4" font-size="4.4" text-anchor="middle" fill="#222" stroke="#222" stroke-width=".12">10<tspan font-size="3.3" dy="-2.1">4</tspan></text>
<text x="514.4" y="469.4" font-size="4.4" text-anchor="middle" fill="#222" stroke="#222" stroke-width=".12">10<tspan font-size="3.3" dy="-2.1">5</tspan></text>
<text x="546.2" y="469.4" font-size="4.4" text-anchor="middle" fill="#222" stroke="#222" stroke-width=".12">10<tspan font-size="3.3" dy="-2.1">6</tspan></text>
<text x="491" y="478" font-size="5" text-anchor="middle" fill="#222" stroke="#222" stroke-width=".13">Y586-H :: PE-H</text>
<path d="M435.8 444.4H495M495 442.6v3.6M495 450.2H550M495 448.4v3.6M549.6 448.4v3.6" fill="none" stroke="#111" stroke-width=".8"/>
<text x="467.4" y="416.6" font-size="5" text-anchor="middle" fill="#111" stroke="#111" stroke-width=".13">Negative</text>
<text x="467.4" y="422.4" font-size="5" text-anchor="middle" fill="#111" stroke="#111" stroke-width=".13">19.1</text>
<text x="532.5" y="416.6" font-size="5" text-anchor="middle" fill="#111" stroke="#111" stroke-width=".13">Positive</text>
<text x="532.5" y="422.4" font-size="5" text-anchor="middle" fill="#111" stroke="#111" stroke-width=".13">80.9</text>
<text x="498.2" y="342.7" font-size="9.7" font-weight="bold" text-anchor="middle" fill="#111">PIA174 (+)</text>
<rect x="571.6" y="345" width="112.4" height="113.2" fill="#fff" stroke="#999" stroke-width=".5"/>
<path d="M590 457.4L590 457.4L590.8 457.4L591.6 457.4L592.4 457.4L593.2 457.4L594 457.3L594.8 457.2L595.6 457.0L596.4 456.5L597.2 455.5L598 453.8L598.8 450.8L599.6 446.4L600.4 438.6L601.2 431.0L602 419.2L602.8 407.2L603.6 392.0L604.4 377.5L605.2 361.3L606 357.9L606.8 356.3L607.6 354.0L608.4 351.4L609.2 365.6L610 371.6L610.8 387.4L611.6 400.7L612.4 416.7L613.2 428.1L614 438.7L614.8 445.8L615.6 450.7L616.4 453.9L617.2 455.8L618 456.7L618.8 457.1L618.8 457.4Z" fill="#c9a79d" stroke="#000" stroke-width=".9" stroke-linejoin="round"/>
<path d="M574.6 457.4L575.7 457.4L577.2 457.4L578.6 456.8L579.4 457.4L580.9 457.4L582.3 457.4L583.6 457.3L585.1 457.0L586.2 457.4L587 457.4L588.1 457.4L589.6 457.4L590.9 457.4L591.7 457.4L592.7 457.4L593.7 457.4L595.1 456.8L595.9 457.4L596.7 457.3L598.3 457.4L599.6 457.4L600.2 457.2L601.2 457.4L602.2 457.4L603.2 457.4L604.2 457.4L605.1 457.4L605.8 457.4L606.9 457.4L608.3 457.4L609.7 456.3L610.3 457.4L611.1 457.4L612.2 457.2L613.2 456.4L613.8 457.0L614.6 456.9L615.2 456.4L616.6 456.3L617.8 457.4L619.3 457.4L626 457.3L633.1 457.4L639.9 457.4L647.1 457.4L653.8 457.4L661.1 457.2L668.2 457.4L675.1 457.4L681.9 457.4L688.6 457.2" fill="none" stroke="#000" stroke-width=".6"/>
<path d="M571.6 345V458.2" fill="none" stroke="#222" stroke-width=".8"/>
<path d="M571.2 458.2H684" fill="none" stroke="#000" stroke-width="1.1"/>
<path d="M571.6 456.8h-3M571.6 451h-1.5M571.6 445.2h-1.5M571.6 439.3h-1.5M571.6 433.5h-1.5M571.6 427.7h-3M571.6 421.9h-1.5M571.6 416.1h-1.5M571.6 410.2h-1.5M571.6 404.4h-1.5M571.6 398.6h-3M571.6 392.8h-1.5M571.6 387h-1.5M571.6 381.1h-1.5M571.6 375.3h-1.5M571.6 369.5h-3M571.6 363.7h-1.5M571.6 357.9h-1.5M571.6 352h-1.5M571.6 346.2h-1.5M586.1 458.2v3M616.1 458.2v3M650 458.2v3M681.2 458.2v3M626.3 458.2v1.4M632.3 458.2v1.4M636.5 458.2v1.4M639.8 458.2v1.4M642.5 458.2v1.4M644.7 458.2v1.4M646.7 458.2v1.4M648.4 458.2v1.4M659.4 458.2v1.4M664.9 458.2v1.4M668.8 458.2v1.4M671.8 458.2v1.4M674.3 458.2v1.4M676.4 458.2v1.4M678.2 458.2v1.4M679.8 458.2v1.4M604.6 458.2v1.4M607.5 458.2v1.4M609.5 458.2v1.4M611.1 458.2v1.4M612.4 458.2v1.4M613.5 458.2v1.4M614.5 458.2v1.4M615.3 458.2v1.4M584.4 458.2v1.4M582.7 458.2v1.4M581 458.2v1.4M579.3 458.2v1.4M577.6 458.2v1.4M575.9 458.2v1.4M574.2 458.2v1.4" stroke="#000" stroke-width=".75" fill="none"/>
<rect x="582.9" y="458.2" width="3" height="2.2" fill="#000"/>
<text x="565.4" y="458.3" font-size="4" text-anchor="end" fill="#222" stroke="#222" stroke-width=".13">0</text>
<text x="565.4" y="429.2" font-size="4" text-anchor="end" fill="#222" stroke="#222" stroke-width=".13">100</text>
<text x="565.4" y="400.1" font-size="4" text-anchor="end" fill="#222" stroke="#222" stroke-width=".13">200</text>
<text x="565.4" y="371" font-size="4" text-anchor="end" fill="#222" stroke="#222" stroke-width=".13">300</text>
<text x="586.1" y="468.5" font-size="4.4" text-anchor="middle" fill="#222" stroke="#222" stroke-width=".13">0</text>
<text x="615.8" y="469" font-size="4.4" text-anchor="middle" fill="#222" stroke="#222" stroke-width=".12">10<tspan font-size="3.3" dy="-2.1">4</tspan></text>
<text x="649.7" y="469" font-size="4.4" text-anchor="middle" fill="#222" stroke="#222" stroke-width=".12">10<tspan font-size="3.3" dy="-2.1">5</tspan></text>
<text x="680.9" y="469" font-size="4.4" text-anchor="middle" fill="#222" stroke="#222" stroke-width=".12">10<tspan font-size="3.3" dy="-2.1">6</tspan></text>
<text x="626" y="477.2" font-size="5" text-anchor="middle" fill="#222" stroke="#222" stroke-width=".13">Y586-H :: PE-H</text>
<path d="M571.6 443.4H630.4M630.4 441.6v3.6M630.4 449.3H684M630.4 447.5v3.6M683.6 447.5v3.6" fill="none" stroke="#111" stroke-width=".8"/>
<text x="589.2" y="415.4" font-size="5" text-anchor="middle" fill="#111" stroke="#111" stroke-width=".13">Negative</text>
<text x="589.2" y="421.2" font-size="5" text-anchor="middle" fill="#111" stroke="#111" stroke-width=".13">100.0</text>
<text x="659.9" y="415.4" font-size="5" text-anchor="middle" fill="#111" stroke="#111" stroke-width=".13">Positive</text>
<text x="659.9" y="421.2" font-size="5" text-anchor="middle" fill="#111" stroke="#111" stroke-width=".13">0.013</text>
<text x="633.7" y="342.7" font-size="9.7" font-weight="bold" text-anchor="middle" fill="#111">MPV467 (-)</text>
<rect x="34.2" y="534.4" width="14.8" height="28.4" rx="3" fill="#edf2f9" stroke="#8fb0de" stroke-width=".8"/>
<circle cx="37.3" cy="564.6" r="1.4" fill="#f0a531"/>
<circle cx="40.2" cy="564.6" r="1.4" fill="#f0a531"/>
<circle cx="43.1" cy="564.6" r="1.4" fill="#f0a531"/>
<circle cx="46" cy="564.6" r="1.4" fill="#f0a531"/>
<rect x="81.2" y="534.4" width="14.8" height="30.4" rx="3" fill="#edf2f9" stroke="#8fb0de" stroke-width=".8"/>
<circle cx="84.3" cy="566.6" r="1.4" fill="#f0a531"/>
<circle cx="87.2" cy="566.6" r="1.4" fill="#f0a531"/>
<circle cx="90.1" cy="566.6" r="1.4" fill="#f0a531"/>
<circle cx="93" cy="566.6" r="1.4" fill="#f0a531"/>
<rect x="127.6" y="533.2" width="14.8" height="31.6" rx="3" fill="#edf2f9" stroke="#8fb0de" stroke-width=".8"/>
<circle cx="130.7" cy="566.6" r="1.4" fill="#f0a531"/>
<circle cx="133.6" cy="566.6" r="1.4" fill="#f0a531"/>
<circle cx="136.5" cy="566.6" r="1.4" fill="#f0a531"/>
<circle cx="139.4" cy="566.6" r="1.4" fill="#f0a531"/>
<g transform="translate(87.3 569.6) rotate(195) scale(0.42)" stroke="#3f62b4" fill="none" stroke-linecap="butt">
<path d="M-1 .3V8.2M1 .3V8.2M-1 .3L-5.4 -5.2M1 .3L5.4 -5.2" stroke-width="1.45"/>
<path d="M-3.6 -.4L-7.2 -4.6M3.6 -.4L7.2 -4.6" stroke-width="1.35"/>
</g>
<g transform="translate(96.6 568.3) rotate(125) scale(0.42)" stroke="#3f62b4" fill="none" stroke-linecap="butt">
<path d="M-1 .3V8.2M1 .3V8.2M-1 .3L-5.4 -5.2M1 .3L5.4 -5.2" stroke-width="1.45"/>
<path d="M-3.6 -.4L-7.2 -4.6M3.6 -.4L7.2 -4.6" stroke-width="1.35"/>
</g>
<g transform="translate(131.5 570) rotate(200) scale(0.4)" stroke="#3f62b4" fill="none" stroke-linecap="butt">
<path d="M-1 .3V8.2M1 .3V8.2M-1 .3L-5.4 -5.2M1 .3L5.4 -5.2" stroke-width="1.45"/>
<path d="M-3.6 -.4L-7.2 -4.6M3.6 -.4L7.2 -4.6" stroke-width="1.35"/>
</g>
<g transform="translate(141.6 568.2) rotate(120) scale(0.4)" stroke="#3f62b4" fill="none" stroke-linecap="butt">
<path d="M-1 .3V8.2M1 .3V8.2M-1 .3L-5.4 -5.2M1 .3L5.4 -5.2" stroke-width="1.45"/>
<path d="M-3.6 -.4L-7.2 -4.6M3.6 -.4L7.2 -4.6" stroke-width="1.35"/>
</g>
<g transform="translate(126.5 568.3) rotate(245) scale(0.4)" stroke="#e0525e" fill="none" stroke-linecap="butt">
<path d="M-1 .3V8.2M1 .3V8.2M-1 .3L-5.4 -5.2M1 .3L5.4 -5.2" stroke-width="1.45"/>
<path d="M-3.6 -.4L-7.2 -4.6M3.6 -.4L7.2 -4.6" stroke-width="1.35"/>
</g>
<g transform="translate(137.2 570.5) rotate(170) scale(0.4)" stroke="#e0525e" fill="none" stroke-linecap="butt">
<path d="M-1 .3V8.2M1 .3V8.2M-1 .3L-5.4 -5.2M1 .3L5.4 -5.2" stroke-width="1.45"/>
<path d="M-3.6 -.4L-7.2 -4.6M3.6 -.4L7.2 -4.6" stroke-width="1.35"/>
</g>
<line x1="58.3" y1="548.5" x2="70.4" y2="548.5" stroke="#111" stroke-width="0.9"/>
<path d="M72.9 548.5l-4.2 -2v4z" fill="#111"/>
<line x1="104.3" y1="549.5" x2="116.1" y2="549.5" stroke="#111" stroke-width="0.9"/>
<path d="M118.6 549.5l-4.2 -2v4z" fill="#111"/>
<text x="30.7" y="583.3" font-size="6.4" fill="#111">Loading:</text>
<text x="30.7" y="590.1" font-size="6.4" fill="#111">PIV3 HN</text>
<text x="73.1" y="583.3" font-size="6.4" fill="#111">Association:</text>
<text x="73.1" y="590.1" font-size="6.4" fill="#111">First mAb</text>
<text x="118.1" y="583.3" font-size="6.4" fill="#111">Association:</text>
<text x="118.1" y="590.1" font-size="6.4" fill="#111">Second mAb</text>
<line x1="68.2" y1="577" x2="68.2" y2="668" stroke="#000" stroke-width="0.7" stroke-dasharray="1.2 1"/>
<line x1="111.3" y1="577" x2="111.3" y2="668" stroke="#000" stroke-width="0.7" stroke-dasharray="1.2 1"/>
<path d="M19.9 599.3V668.4H143.5" fill="none" stroke="#1a1a1a" stroke-width="1.1"/>
<line x1="14.6" y1="605.2" x2="19.9" y2="605.2" stroke="#1a1a1a" stroke-width="0.8"/>
<text x="12.9" y="606.9" font-size="4.8" text-anchor="end" fill="#222" stroke="#222" stroke-width=".13">3</text>
<line x1="14.6" y1="627.2" x2="19.9" y2="627.2" stroke="#1a1a1a" stroke-width="0.8"/>
<text x="12.9" y="628.9" font-size="4.8" text-anchor="end" fill="#222" stroke="#222" stroke-width=".13">2</text>
<line x1="14.6" y1="648.2" x2="19.9" y2="648.2" stroke="#1a1a1a" stroke-width="0.8"/>
<text x="12.9" y="649.9" font-size="4.8" text-anchor="end" fill="#222" stroke="#222" stroke-width=".13">1</text>
<text transform="translate(6.9 628.5) rotate(-90)" font-size="6.2" text-anchor="middle" fill="#222">Binding (nm)</text>
<text x="90.9" y="675" font-size="6.2" text-anchor="middle" fill="#222">Time (s)</text>
<polyline fill="none" stroke="#a970c6" stroke-width=".9" points="19.9,668 20.9,666.1 21.9,664.4 22.9,662.9 23.9,661.5 24.9,660.3 25.9,659.1 26.9,658.1 27.9,657.2 28.9,656.3 29.9,655.6 30.9,654.9 31.9,654.2 32.9,653.7 33.9,653.2 34.9,652.7 35.9,652.3 36.9,651.9 37.9,651.6 38.9,651.3 39.9,651 40.9,650.7 41.9,650.5 42.9,650.3 43.9,650.1 44.9,649.9 45.9,649.8 46.9,649.6 47.9,649.5 48.9,649.4 49.9,649.3 50.9,649.2 51.9,649.1 52.9,649 53.9,649 54.9,648.9 55.9,648.8 56.9,648.8 57.9,648.7 58.9,648.7 59.9,648.7 60.9,648.6 61.9,648.6 62.9,648.6 63.9,648.5 64.9,648.5 65.9,648.5 66.9,648.5 67.9,648.5 68.2,648.4 69.2,646.2 70.2,644.2 71.2,642.5 72.2,640.9 73.2,639.5 74.2,638.2 75.2,637.1 76.2,636 77.2,635.1 78.2,634.3 79.2,633.6 80.2,632.9 81.2,632.3 82.2,631.8 83.2,631.3 84.2,630.9 85.2,630.5 86.2,630.2 87.2,629.9 88.2,629.6 89.2,629.4 90.2,629.2 91.2,629 92.2,628.8 93.2,628.6 94.2,628.5 95.2,628.4 96.2,628.3 97.2,628.2 98.2,628.1 99.2,628 100.2,627.9 101.2,627.8 102.2,627.8 103.2,627.7 104.2,627.7 105.2,627.6 106.2,627.6 107.2,627.6 108.2,627.5 109.2,627.5 110.2,627.5 111.2,627.5 111.3,627.2 112.3,624.9 113.3,622.9 114.3,621.1 115.3,619.5 116.3,618 117.3,616.7 118.3,615.5 119.3,614.5 120.3,613.5 121.3,612.7 122.3,612 123.3,611.3 124.3,610.7 125.3,610.1 126.3,609.6 127.3,609.2 128.3,608.8 129.3,608.5 130.3,608.2 131.3,607.9 132.3,607.6 133.3,607.4 134.3,607.2 135.3,607 136.3,606.9 137.3,606.7 138.3,606.6 139.3,606.5 140.3,606.4 141.3,606.3 142.3,606.2 143.3,606.1 144.3,606.1 145.3,606 146.3,605.9 147.3,605.9 148.3,605.8 149.3,605.8 150.3,605.8 151.3,605.7 152.3,605.7 153.3,605.7"/>
<line x1="111.3" y1="627.2" x2="155" y2="627.2" stroke="#a970c6" stroke-width="0.9"/>
<text x="156.7" y="611.2" font-size="6.4" fill="#111">No competition</text>
<text x="156.7" y="628.8" font-size="6.4" fill="#111">Competition</text>
<rect x="146.9" y="571" width="2.4" height="2.6" fill="none" stroke="#444" stroke-width=".4"/>
<line x1="149" y1="571" x2="171.4" y2="531.4" stroke="#555" stroke-width="0.5" stroke-dasharray="1.3 1.3"/>
<line x1="149" y1="573.6" x2="171.4" y2="604.4" stroke="#555" stroke-width="0.5" stroke-dasharray="1.3 1.3"/>
<rect x="171.4" y="531.4" width="130.1" height="73" fill="#fff" stroke="#8a8a8a" stroke-width=".7"/>
<path d="M171.4 531.4H233.8V543Q233.8 545.5 231.3 545.5H171.4Z" fill="#eef2f9" stroke="#86a3d4" stroke-width=".6"/>
<path d="M237.4 531.4H301.5V545.5H239.9Q237.4 545.5 237.4 543Z" fill="#eef2f9" stroke="#86a3d4" stroke-width=".6"/>
<rect x="171.4" y="531.4" width="130.1" height="73" fill="none" stroke="#8a8a8a" stroke-width=".7"/>
<text x="203" y="541.4" font-size="7.1" text-anchor="middle" fill="#111">No competition</text>
<text x="271.9" y="541.4" font-size="7.1" text-anchor="middle" fill="#111">Competition</text>
<g transform="translate(175.2 547.2)">
<g filter="url(#rough)"><path d="M0 4.1Q0.4 1.2 3.2 0.4Q6 -0.3 9.6 -0.4Q13.2 -0.6 15.8 1.2Q18.3 3 21.9 2.3Q25.5 1.6 29.6 0.7Q33.6 -0.3 37.2 0.3Q40.8 0.9 44.2 1.1Q47.6 1.2 49.3 3.6Q51 6 49.7 9.1Q48.4 12.1 46.9 14.9Q45.4 17.8 43.5 20.6Q41.5 23.4 38.9 26.8Q36.2 30.2 34.2 27.7Q32.2 25.2 29.9 24.1Q27.5 23 25.2 22.8Q23 22.6 21.4 25.1Q19.8 27.6 16.2 28.1Q12.6 28.6 10.4 25.7Q8.3 22.8 6.4 20.1Q4.4 17.3 2.9 14.7Q1.4 12.1 0.5 9.6Q-0.4 7 0 4.1Z" fill="url(#pg)"/>
<ellipse cx="30" cy="11.5" rx="9.5" ry="10.5" fill="#5e3f0b" opacity=".5"/>
<ellipse cx="24" cy="13" rx="3" ry="8" fill="#3d2705" opacity=".55"/>
<circle cx="10.3" cy="17.3" r="1" fill="#f7bb30" opacity=".7"/>
<circle cx="12.5" cy="19.5" r="0.8" fill="#5a3c0a" opacity=".7"/>
<circle cx="26.2" cy="19.5" r="0.9" fill="#4d3308" opacity=".7"/>
<circle cx="28.8" cy="4" r="1.4" fill="#3b2604" opacity=".7"/>
<circle cx="33.5" cy="11.9" r="1.2" fill="#c98d1c" opacity=".7"/>
<circle cx="4.5" cy="9.6" r="1.2" fill="#a87314" opacity=".7"/>
<circle cx="6.9" cy="19.9" r="1" fill="#8a5d12" opacity=".7"/>
<circle cx="27.3" cy="9.9" r="0.7" fill="#c98d1c" opacity=".7"/>
<circle cx="32.3" cy="12.6" r="0.7" fill="#3b2604" opacity=".7"/>
<circle cx="11.7" cy="17" r="1.5" fill="#5a3c0a" opacity=".7"/>
<circle cx="6.1" cy="14.5" r="1.3" fill="#5a3c0a" opacity=".7"/>
<circle cx="11.8" cy="22.3" r="1" fill="#5a3c0a" opacity=".7"/>
<circle cx="19.1" cy="12.2" r="0.9" fill="#a87314" opacity=".7"/>
<circle cx="24.3" cy="8.2" r="0.7" fill="#4d3308" opacity=".7"/>
<circle cx="3.1" cy="4" r="1.3" fill="#5a3c0a" opacity=".7"/>
<circle cx="12.8" cy="15.6" r="1.5" fill="#5a3c0a" opacity=".7"/>
<circle cx="8" cy="16.9" r="1.4" fill="#f7bb30" opacity=".7"/>
<circle cx="17.6" cy="18.9" r="0.8" fill="#f7bb30" opacity=".7"/>
<circle cx="10.4" cy="22.3" r="1.3" fill="#6e4a0e" opacity=".7"/>
<circle cx="19.5" cy="17.2" r="1.4" fill="#5a3c0a" opacity=".7"/>
<circle cx="45.2" cy="11.3" r="1.5" fill="#6e4a0e" opacity=".7"/>
<circle cx="29" cy="21.5" r="1.1" fill="#c98d1c" opacity=".7"/>
<circle cx="13.8" cy="14.6" r="1.3" fill="#a87314" opacity=".7"/>
<circle cx="37.1" cy="12.9" r="0.6" fill="#5e3f0b" opacity=".7"/>
<circle cx="14.4" cy="8.7" r="0.8" fill="#a87314" opacity=".7"/>
<circle cx="31.4" cy="5.6" r="1.3" fill="#3b2604" opacity=".7"/>
<circle cx="24.1" cy="7.9" r="1.4" fill="#2e1d03" opacity=".7"/>
<circle cx="42.6" cy="10.4" r="1.4" fill="#6e4a0e" opacity=".7"/>
<circle cx="29.5" cy="11.7" r="1.4" fill="#2e1d03" opacity=".7"/>
<circle cx="24" cy="5.5" r="0.8" fill="#2e1d03" opacity=".7"/>
<circle cx="36.8" cy="2.7" r="1.5" fill="#3b2604" opacity=".7"/>
<circle cx="4" cy="15.3" r="1.4" fill="#6e4a0e" opacity=".7"/>
<circle cx="28.7" cy="8" r="1.3" fill="#c98d1c" opacity=".7"/>
<circle cx="38.7" cy="5.5" r="0.7" fill="#3b2604" opacity=".7"/>
<circle cx="7.1" cy="3" r="1.3" fill="#a87314" opacity=".7"/>
<circle cx="6.2" cy="5.1" r="0.7" fill="#f7bb30" opacity=".7"/>
<circle cx="26.7" cy="9.5" r="1.4" fill="#c98d1c" opacity=".7"/>
<circle cx="30.3" cy="6.4" r="0.8" fill="#c98d1c" opacity=".7"/>
<circle cx="35.7" cy="18.8" r="1.2" fill="#2e1d03" opacity=".7"/>
</g></g>
<g transform="translate(247.1 547.2)">
<g filter="url(#rough)"><path d="M0 4.1Q0.4 1.2 3.2 0.4Q6 -0.3 9.6 -0.4Q13.2 -0.6 15.8 1.2Q18.3 3 21.9 2.3Q25.5 1.6 29.6 0.7Q33.6 -0.3 37.2 0.3Q40.8 0.9 44.2 1.1Q47.6 1.2 49.3 3.6Q51 6 49.7 9.1Q48.4 12.1 46.9 14.9Q45.4 17.8 43.5 20.6Q41.5 23.4 38.9 26.8Q36.2 30.2 34.2 27.7Q32.2 25.2 29.9 24.1Q27.5 23 25.2 22.8Q23 22.6 21.4 25.1Q19.8 27.6 16.2 28.1Q12.6 28.6 10.4 25.7Q8.3 22.8 6.4 20.1Q4.4 17.3 2.9 14.7Q1.4 12.1 0.5 9.6Q-0.4 7 0 4.1Z" fill="url(#pg)"/>
<ellipse cx="30" cy="11.5" rx="9.5" ry="10.5" fill="#5e3f0b" opacity=".5"/>
<ellipse cx="24" cy="13" rx="3" ry="8" fill="#3d2705" opacity=".55"/>
<circle cx="10.3" cy="17.3" r="1" fill="#f7bb30" opacity=".7"/>
<circle cx="12.5" cy="19.5" r="0.8" fill="#5a3c0a" opacity=".7"/>
<circle cx="26.2" cy="19.5" r="0.9" fill="#4d3308" opacity=".7"/>
<circle cx="28.8" cy="4" r="1.4" fill="#3b2604" opacity=".7"/>
<circle cx="33.5" cy="11.9" r="1.2" fill="#c98d1c" opacity=".7"/>
<circle cx="4.5" cy="9.6" r="1.2" fill="#a87314" opacity=".7"/>
<circle cx="6.9" cy="19.9" r="1" fill="#8a5d12" opacity=".7"/>
<circle cx="27.3" cy="9.9" r="0.7" fill="#c98d1c" opacity=".7"/>
<circle cx="32.3" cy="12.6" r="0.7" fill="#3b2604" opacity=".7"/>
<circle cx="11.7" cy="17" r="1.5" fill="#5a3c0a" opacity=".7"/>
<circle cx="6.1" cy="14.5" r="1.3" fill="#5a3c0a" opacity=".7"/>
<circle cx="11.8" cy="22.3" r="1" fill="#5a3c0a" opacity=".7"/>
<circle cx="19.1" cy="12.2" r="0.9" fill="#a87314" opacity=".7"/>
<circle cx="24.3" cy="8.2" r="0.7" fill="#4d3308" opacity=".7"/>
<circle cx="3.1" cy="4" r="1.3" fill="#5a3c0a" opacity=".7"/>
<circle cx="12.8" cy="15.6" r="1.5" fill="#5a3c0a" opacity=".7"/>
<circle cx="8" cy="16.9" r="1.4" fill="#f7bb30" opacity=".7"/>
<circle cx="17.6" cy="18.9" r="0.8" fill="#f7bb30" opacity=".7"/>
<circle cx="10.4" cy="22.3" r="1.3" fill="#6e4a0e" opacity=".7"/>
<circle cx="19.5" cy="17.2" r="1.4" fill="#5a3c0a" opacity=".7"/>
<circle cx="45.2" cy="11.3" r="1.5" fill="#6e4a0e" opacity=".7"/>
<circle cx="29" cy="21.5" r="1.1" fill="#c98d1c" opacity=".7"/>
<circle cx="13.8" cy="14.6" r="1.3" fill="#a87314" opacity=".7"/>
<circle cx="37.1" cy="12.9" r="0.6" fill="#5e3f0b" opacity=".7"/>
<circle cx="14.4" cy="8.7" r="0.8" fill="#a87314" opacity=".7"/>
<circle cx="31.4" cy="5.6" r="1.3" fill="#3b2604" opacity=".7"/>
<circle cx="24.1" cy="7.9" r="1.4" fill="#2e1d03" opacity=".7"/>
<circle cx="42.6" cy="10.4" r="1.4" fill="#6e4a0e" opacity=".7"/>
<circle cx="29.5" cy="11.7" r="1.4" fill="#2e1d03" opacity=".7"/>
<circle cx="24" cy="5.5" r="0.8" fill="#2e1d03" opacity=".7"/>
<circle cx="36.8" cy="2.7" r="1.5" fill="#3b2604" opacity=".7"/>
<circle cx="4" cy="15.3" r="1.4" fill="#6e4a0e" opacity=".7"/>
<circle cx="28.7" cy="8" r="1.3" fill="#c98d1c" opacity=".7"/>
<circle cx="38.7" cy="5.5" r="0.7" fill="#3b2604" opacity=".7"/>
<circle cx="7.1" cy="3" r="1.3" fill="#a87314" opacity=".7"/>
<circle cx="6.2" cy="5.1" r="0.7" fill="#f7bb30" opacity=".7"/>
<circle cx="26.7" cy="9.5" r="1.4" fill="#c98d1c" opacity=".7"/>
<circle cx="30.3" cy="6.4" r="0.8" fill="#c98d1c" opacity=".7"/>
<circle cx="35.7" cy="18.8" r="1.2" fill="#2e1d03" opacity=".7"/>
</g></g>
<g transform="translate(192 580.3) rotate(-8) scale(1.03)" stroke="#3f62b4" fill="none" stroke-linecap="butt">
<path d="M-1 .3V8.2M1 .3V8.2M-1 .3L-5.4 -5.2M1 .3L5.4 -5.2" stroke-width="1.45"/>
<path d="M-3.6 -.4L-7.2 -4.6M3.6 -.4L7.2 -4.6" stroke-width="1.35"/>
</g>
<g transform="translate(261.5 579.6) rotate(-8) scale(1.03)" stroke="#3f62b4" fill="none" stroke-linecap="butt">
<path d="M-1 .3V8.2M1 .3V8.2M-1 .3L-5.4 -5.2M1 .3L5.4 -5.2" stroke-width="1.45"/>
<path d="M-3.6 -.4L-7.2 -4.6M3.6 -.4L7.2 -4.6" stroke-width="1.35"/>
</g>
<g transform="translate(227.7 567.5) rotate(-68) scale(1.08)" stroke="#e0525e" fill="none" stroke-linecap="butt">
<path d="M-1 .3V8.2M1 .3V8.2M-1 .3L-5.4 -5.2M1 .3L5.4 -5.2" stroke-width="1.45"/>
<path d="M-3.6 -.4L-7.2 -4.6M3.6 -.4L7.2 -4.6" stroke-width="1.35"/>
</g>
<g transform="translate(285.8 590.6) rotate(-8) scale(1.05)" stroke="#e0525e" fill="none" stroke-linecap="butt">
<path d="M-1 .3V8.2M1 .3V8.2M-1 .3L-5.4 -5.2M1 .3L5.4 -5.2" stroke-width="1.45"/>
<path d="M-3.6 -.4L-7.2 -4.6M3.6 -.4L7.2 -4.6" stroke-width="1.35"/>
</g>
<rect x="377.4" y="497.9" width="306.6" height="184.4" fill="#fff"/>
<rect x="377.4" y="517.7" width="76.5" height="16.1" fill="#fde597"/>
<rect x="453.9" y="517.7" width="153.7" height="16.1" fill="#f4b183"/>
<rect x="607.6" y="517.7" width="76.4" height="16.1" fill="#bdd7ee"/>
<rect x="377.4" y="547.5" width="76.5" height="33.6" fill="#000"/>
<rect x="453.9" y="581.1" width="153.7" height="67.6" fill="#000"/>
<rect x="531.1" y="614.9" width="152.9" height="67.4" fill="#000"/>
<path d="M377.4 517.7H684M377.4 533.8H684M315.2 547.5H684M453.9 517.7V533.8M607.6 517.7V533.8M415.6 533.8V547.5M453.9 533.8V547.5M492.7 533.8V547.5M531.1 533.8V547.5M569.1 533.8V547.5M607.6 533.8V547.5M646.2 533.8V547.5" fill="none" stroke="#000" stroke-width="1"/>
<path d="M492.7 547.5V564.3M453.9 564.3H492.7M531.1 547.5V564.3M492.7 564.3H531.1M569.1 547.5V564.3M531.1 564.3H569.1M607.6 547.5V564.3M569.1 564.3H607.6M646.2 547.5V564.3M607.6 564.3H646.2M646.2 564.3H684M492.7 564.3V581.1M531.1 564.3V581.1M569.1 564.3V581.1M607.6 564.3V581.1M646.2 564.3V581.1M607.6 581.1H646.2M646.2 581.1H684M415.6 581.1V598M377.4 598H415.6M415.6 598H453.9M646.2 581.1V598M607.6 598H646.2M646.2 598H684M415.6 598V614.9M377.4 614.9H415.6M415.6 614.9H453.9M646.2 598V614.9M415.6 614.9V631.8M377.4 631.8H415.6M415.6 631.8H453.9M415.6 631.8V648.7M377.4 648.7H415.6M415.6 648.7H453.9M415.6 648.7V665.6M377.4 665.6H415.6M453.9 648.7V665.6M415.6 665.6H453.9M492.7 648.7V665.6M453.9 665.6H492.7M492.7 665.6H531.1M415.6 665.6V682.3M453.9 665.6V682.3M492.7 665.6V682.3M337.1 564.3H377.4M337.1 581.1H377.4M337.1 598H377.4M337.1 614.9H377.4M337.1 631.8H377.4M337.1 648.7H377.4M337.1 665.6H377.4M337.1 547.5V682.3" fill="none" stroke="#111" stroke-width=".9"/>
<path d="M453.9 547.5V564.3M377.4 581.1H415.6M453.9 564.3V581.1M415.6 581.1H453.9M453.9 581.1V598M453.9 581.1H492.7M492.7 581.1H531.1M531.1 581.1H569.1M607.6 581.1V598M569.1 581.1H607.6M453.9 598V614.9M607.6 598V614.9M453.9 614.9V631.8M607.6 614.9H646.2M683.6 614.9V631.8M646.2 614.9H684M453.9 631.8V648.7M453.9 648.7H492.7M492.7 648.7H531.1M683.6 631.8V648.7M531.1 648.7V665.6M683.6 648.7V665.6M531.1 665.6V682.3M531.1 682H569.1M569.1 682H607.6M607.6 682H646.2M683.6 665.6V682.3M646.2 682H684" fill="none" stroke="#d8262c" stroke-width=".9" stroke-linecap="square"/>
<path d="M377.4 547.5V581.1M377.4 547.5H453.9" fill="none" stroke="#d8262c" stroke-width=".9"/>
<path d="M377.4 497.9H683.6V614.9M377.4 497.9V547.5M315.2 547.5V682.1H531.1" fill="none" stroke="#000" stroke-width="1.1"/>
<path d="M377.4 581.1V682.3" fill="none" stroke="#000" stroke-width="1"/>
<rect x="531.1" y="614.9" width="76.5" height="33.8" fill="none" stroke="#1f5fa5" stroke-width=".9"/>
<text x="530.7" y="512" font-size="10.8" text-anchor="middle" fill="#111">Second mAb</text>
<text x="415.6" y="528.8" font-size="8.4" font-weight="bold" text-anchor="middle" fill="#111">Site 1</text>
<text x="530.8" y="528.8" font-size="8.4" font-weight="bold" text-anchor="middle" fill="#111">Site 2</text>
<text x="645.8" y="528.8" font-size="8.4" font-weight="bold" text-anchor="middle" fill="#111">Site 3</text>
<text x="396.5" y="543.3" font-size="6.7" font-weight="bold" text-anchor="middle">PIV3HN-12</text>
<text x="434.8" y="543.3" font-size="6.7" font-weight="bold" text-anchor="middle">PIV3HN-13</text>
<text x="473.3" y="543.3" font-size="6.7" font-weight="bold" text-anchor="middle">PIV3HN-11</text>
<text x="511.9" y="543.3" font-size="6.7" font-weight="bold" text-anchor="middle">PIV3HN-05</text>
<text x="550.1" y="543.3" font-size="6.7" font-weight="bold" text-anchor="middle">PIV3HN-03</text>
<text x="588.4" y="543.3" font-size="6.7" font-weight="bold" text-anchor="middle">PIV3HN-04</text>
<text x="626.9" y="543.3" font-size="6.7" font-weight="bold" text-anchor="middle">PIV3HN-15</text>
<text x="665.1" y="543.3" font-size="6.7" font-weight="bold" text-anchor="middle">PIV3HN-09</text>
<text x="357.4" y="558.3" font-size="6.7" font-weight="bold" text-anchor="middle">PIV3HN-12</text>
<text x="396.5" y="560" font-size="10" text-anchor="middle" fill="#fff">3</text>
<text x="434.8" y="560" font-size="10" text-anchor="middle" fill="#fff">3</text>
<text x="473.3" y="560.3" font-size="10.5" text-anchor="middle" fill="#b3161d">88</text>
<text x="511.9" y="560.3" font-size="10.5" text-anchor="middle" fill="#b3161d">113</text>
<text x="550.1" y="560.3" font-size="10.5" text-anchor="middle" fill="#b3161d">96</text>
<text x="588.4" y="560.3" font-size="10.5" text-anchor="middle" fill="#b3161d">101</text>
<text x="626.9" y="560.3" font-size="10.5" text-anchor="middle" fill="#b3161d">99</text>
<text x="665.1" y="560.3" font-size="10.5" text-anchor="middle" fill="#b3161d">85</text>
<text x="357.4" y="575.1" font-size="6.7" font-weight="bold" text-anchor="middle">PIV3HN-13</text>
<text x="396.5" y="576.8" font-size="10" text-anchor="middle" fill="#fff">1</text>
<text x="434.8" y="576.8" font-size="10" text-anchor="middle" fill="#fff">2</text>
<text x="473.3" y="577.1" font-size="10.5" text-anchor="middle" fill="#b3161d">88</text>
<text x="511.9" y="577.1" font-size="10.5" text-anchor="middle" fill="#b3161d">115</text>
<text x="550.1" y="577.1" font-size="10.5" text-anchor="middle" fill="#b3161d">95</text>
<text x="588.4" y="577.1" font-size="10.5" text-anchor="middle" fill="#b3161d">99</text>
<text x="626.9" y="577.1" font-size="10.5" text-anchor="middle" fill="#b3161d">99</text>
<text x="665.1" y="577.1" font-size="10.5" text-anchor="middle" fill="#b3161d">84</text>
<text x="357.4" y="591.9" font-size="6.7" font-weight="bold" text-anchor="middle">PIV3HN-11</text>
<text x="396.5" y="593.9" font-size="10.5" text-anchor="middle" fill="#b3161d">109</text>
<text x="434.8" y="593.9" font-size="10.5" text-anchor="middle" fill="#b3161d">108</text>
<text x="473.3" y="593.6" font-size="10" text-anchor="middle" fill="#fff">0</text>
<text x="511.9" y="593.6" font-size="10" text-anchor="middle" fill="#fff">-3</text>
<text x="550.1" y="593.6" font-size="10" text-anchor="middle" fill="#fff">2</text>
<text x="588.4" y="593.6" font-size="10" text-anchor="middle" fill="#fff">1</text>
<text x="626.9" y="593.9" font-size="10.5" text-anchor="middle" fill="#b3161d">111</text>
<text x="665.1" y="593.9" font-size="10.5" text-anchor="middle" fill="#b3161d">86</text>
<text x="357.4" y="608.9" font-size="6.7" font-weight="bold" text-anchor="middle">PIV3HN-05</text>
<text x="396.5" y="610.9" font-size="10.5" text-anchor="middle" fill="#b3161d">96</text>
<text x="434.8" y="610.9" font-size="10.5" text-anchor="middle" fill="#b3161d">95</text>
<text x="473.3" y="610.6" font-size="10" text-anchor="middle" fill="#fff">-2</text>
<text x="511.9" y="610.6" font-size="10" text-anchor="middle" fill="#fff">-4</text>
<text x="550.1" y="610.6" font-size="10" text-anchor="middle" fill="#fff">-1</text>
<text x="588.4" y="610.6" font-size="10" text-anchor="middle" fill="#fff">0</text>
<text x="626.9" y="610.9" font-size="10.5" text-anchor="middle" fill="#b3161d">115</text>
<text x="665.1" y="610.9" font-size="10.5" text-anchor="middle" fill="#b3161d">71</text>
<text x="357.4" y="625.7" font-size="6.7" font-weight="bold" text-anchor="middle">PIV3HN-03</text>
<text x="396.5" y="627.7" font-size="10.5" text-anchor="middle" fill="#b3161d">101</text>
<text x="434.8" y="627.7" font-size="10.5" text-anchor="middle" fill="#b3161d">96</text>
<text x="473.3" y="627.4" font-size="10" text-anchor="middle" fill="#fff">-1</text>
<text x="511.9" y="627.4" font-size="10" text-anchor="middle" fill="#fff">-2</text>
<text x="550.1" y="627.4" font-size="10" text-anchor="middle" fill="#fff">0</text>
<text x="588.4" y="627.4" font-size="10" text-anchor="middle" fill="#fff">2</text>
<text x="626.9" y="627.4" font-size="10" text-anchor="middle" fill="#fff">0</text>
<text x="665.1" y="627.4" font-size="10" text-anchor="middle" fill="#fff">3</text>
<text x="357.4" y="642.6" font-size="6.7" font-weight="bold" text-anchor="middle">PIV3HN-04</text>
<text x="396.5" y="644.6" font-size="10.5" text-anchor="middle" fill="#b3161d">99</text>
<text x="434.8" y="644.6" font-size="10.5" text-anchor="middle" fill="#b3161d">95</text>
<text x="473.3" y="644.4" font-size="10" text-anchor="middle" fill="#fff">-1</text>
<text x="511.9" y="644.4" font-size="10" text-anchor="middle" fill="#fff">-3</text>
<text x="550.1" y="644.4" font-size="10" text-anchor="middle" fill="#fff">-1</text>
<text x="588.4" y="644.4" font-size="10" text-anchor="middle" fill="#fff">0</text>
<text x="626.9" y="644.4" font-size="10" text-anchor="middle" fill="#fff">-1</text>
<text x="665.1" y="644.4" font-size="10" text-anchor="middle" fill="#fff">1</text>
<text x="357.4" y="659.6" font-size="6.7" font-weight="bold" text-anchor="middle">PIV3HN-15</text>
<text x="396.5" y="661.6" font-size="10.5" text-anchor="middle" fill="#b3161d">99</text>
<text x="434.8" y="661.6" font-size="10.5" text-anchor="middle" fill="#b3161d">98</text>
<text x="473.3" y="661.6" font-size="10.5" text-anchor="middle" fill="#b3161d">95</text>
<text x="511.9" y="661.6" font-size="10.5" text-anchor="middle" fill="#b3161d">115</text>
<text x="550.1" y="661.3" font-size="10" text-anchor="middle" fill="#fff">-2</text>
<text x="588.4" y="661.3" font-size="10" text-anchor="middle" fill="#fff">2</text>
<text x="626.9" y="661.3" font-size="10" text-anchor="middle" fill="#fff">-2</text>
<text x="665.1" y="661.3" font-size="10" text-anchor="middle" fill="#fff">0</text>
<text x="357.4" y="676.4" font-size="6.7" font-weight="bold" text-anchor="middle">PIV3HN-09</text>
<text x="396.5" y="678.4" font-size="10.5" text-anchor="middle" fill="#b3161d">103</text>
<text x="434.8" y="678.4" font-size="10.5" text-anchor="middle" fill="#b3161d">102</text>
<text x="473.3" y="678.4" font-size="10.5" text-anchor="middle" fill="#b3161d">99</text>
<text x="511.9" y="678.4" font-size="10.5" text-anchor="middle" fill="#b3161d">121</text>
<text x="550.1" y="678.1" font-size="10" text-anchor="middle" fill="#fff">-1</text>
<text x="588.4" y="678.1" font-size="10" text-anchor="middle" fill="#fff">-1</text>
<text x="626.9" y="678.1" font-size="10" text-anchor="middle" fill="#fff">-1</text>
<text x="665.1" y="678.1" font-size="10" text-anchor="middle" fill="#fff">0</text>
<text transform="translate(329.2 614.5) rotate(-90)" font-size="11.2" text-anchor="middle" fill="#111">First mAb</text>
<text x="5.3" y="17.2" font-size="24.3" font-weight="bold">A</text>
<text x="288.8" y="17.2" font-size="24.3" font-weight="bold">B</text>
<text x="2.9" y="252.8" font-size="24.3" font-weight="bold">C</text>
<text x="2.8" y="333.7" font-size="24.3" font-weight="bold">D</text>
<text x="4.8" y="525.2" font-size="24.3" font-weight="bold">E</text>
<text x="314.3" y="525.7" font-size="24.3" font-weight="bold">F</text>
</svg></body></html>
